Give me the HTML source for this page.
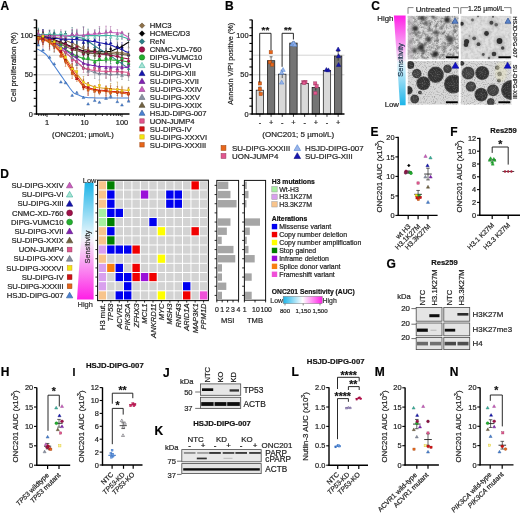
<!DOCTYPE html>
<html><head><meta charset="utf-8"><title>Figure</title>
<style>html,body{margin:0;padding:0;background:#fff;} svg{display:block;filter:blur(0.3px);} text{stroke:#1a1a1a;stroke-width:0.2px;paint-order:stroke;font-family:"Liberation Sans", Arial, Helvetica, sans-serif;}</style></head>
<body><svg width="520" height="513" viewBox="0 0 520 513" font-family='"Liberation Sans", Arial, Helvetica, sans-serif' fill="#222">
<rect width="520" height="513" fill="#fff"/>
<defs><clipPath id="clipA"><rect x="36" y="12" width="96" height="102"/></clipPath></defs>
<text x="0.6" y="9.8" font-size="12" font-weight="bold" fill="#000">A</text>
<line x1="36.5" y1="74.8" x2="129.5" y2="74.8" stroke="#cfcfcf" stroke-width="0.9"/>
<line x1="36.5" y1="55.2" x2="129.5" y2="55.2" stroke="#cfcfcf" stroke-width="0.9"/>
<g clip-path="url(#clipA)">
<line x1="38.3" y1="31.92" x2="38.3" y2="41.74" stroke="#695436" stroke-width="0.6" opacity="0.8"/>
<line x1="37.5" y1="31.92" x2="39.1" y2="31.92" stroke="#695436" stroke-width="0.5" opacity="0.8"/>
<line x1="37.5" y1="41.74" x2="39.1" y2="41.74" stroke="#695436" stroke-width="0.5" opacity="0.8"/>
<line x1="42.95" y1="31.43" x2="42.95" y2="41.82" stroke="#695436" stroke-width="0.6" opacity="0.8"/>
<line x1="42.15" y1="31.43" x2="43.75" y2="31.43" stroke="#695436" stroke-width="0.5" opacity="0.8"/>
<line x1="42.15" y1="41.82" x2="43.75" y2="41.82" stroke="#695436" stroke-width="0.5" opacity="0.8"/>
<line x1="49.58" y1="33.49" x2="49.58" y2="38.81" stroke="#695436" stroke-width="0.6" opacity="0.8"/>
<line x1="48.78" y1="33.49" x2="50.38" y2="33.49" stroke="#695436" stroke-width="0.5" opacity="0.8"/>
<line x1="48.78" y1="38.81" x2="50.38" y2="38.81" stroke="#695436" stroke-width="0.5" opacity="0.8"/>
<line x1="54.24" y1="33.39" x2="54.24" y2="45.97" stroke="#695436" stroke-width="0.6" opacity="0.8"/>
<line x1="53.44" y1="33.39" x2="55.04" y2="33.39" stroke="#695436" stroke-width="0.5" opacity="0.8"/>
<line x1="53.44" y1="45.97" x2="55.04" y2="45.97" stroke="#695436" stroke-width="0.5" opacity="0.8"/>
<line x1="60.87" y1="36.58" x2="60.87" y2="43.49" stroke="#695436" stroke-width="0.6" opacity="0.8"/>
<line x1="60.07" y1="36.58" x2="61.67" y2="36.58" stroke="#695436" stroke-width="0.5" opacity="0.8"/>
<line x1="60.07" y1="43.49" x2="61.67" y2="43.49" stroke="#695436" stroke-width="0.5" opacity="0.8"/>
<line x1="65.53" y1="33.72" x2="65.53" y2="42.85" stroke="#695436" stroke-width="0.6" opacity="0.8"/>
<line x1="64.73" y1="33.72" x2="66.33" y2="33.72" stroke="#695436" stroke-width="0.5" opacity="0.8"/>
<line x1="64.73" y1="42.85" x2="66.33" y2="42.85" stroke="#695436" stroke-width="0.5" opacity="0.8"/>
<line x1="72.16" y1="36.88" x2="72.16" y2="46.06" stroke="#695436" stroke-width="0.6" opacity="0.8"/>
<line x1="71.36" y1="36.88" x2="72.96" y2="36.88" stroke="#695436" stroke-width="0.5" opacity="0.8"/>
<line x1="71.36" y1="46.06" x2="72.96" y2="46.06" stroke="#695436" stroke-width="0.5" opacity="0.8"/>
<line x1="76.82" y1="41.73" x2="76.82" y2="47.85" stroke="#695436" stroke-width="0.6" opacity="0.8"/>
<line x1="76.02" y1="41.73" x2="77.62" y2="41.73" stroke="#695436" stroke-width="0.5" opacity="0.8"/>
<line x1="76.02" y1="47.85" x2="77.62" y2="47.85" stroke="#695436" stroke-width="0.5" opacity="0.8"/>
<line x1="83.45" y1="42.06" x2="83.45" y2="54.93" stroke="#695436" stroke-width="0.6" opacity="0.8"/>
<line x1="82.65" y1="42.06" x2="84.25" y2="42.06" stroke="#695436" stroke-width="0.5" opacity="0.8"/>
<line x1="82.65" y1="54.93" x2="84.25" y2="54.93" stroke="#695436" stroke-width="0.5" opacity="0.8"/>
<line x1="88.11" y1="44.27" x2="88.11" y2="55.94" stroke="#695436" stroke-width="0.6" opacity="0.8"/>
<line x1="87.31" y1="44.27" x2="88.91" y2="44.27" stroke="#695436" stroke-width="0.5" opacity="0.8"/>
<line x1="87.31" y1="55.94" x2="88.91" y2="55.94" stroke="#695436" stroke-width="0.5" opacity="0.8"/>
<line x1="94.74" y1="47.67" x2="94.74" y2="52.98" stroke="#695436" stroke-width="0.6" opacity="0.8"/>
<line x1="93.94" y1="47.67" x2="95.54" y2="47.67" stroke="#695436" stroke-width="0.5" opacity="0.8"/>
<line x1="93.94" y1="52.98" x2="95.54" y2="52.98" stroke="#695436" stroke-width="0.5" opacity="0.8"/>
<line x1="99.4" y1="45.12" x2="99.4" y2="55.39" stroke="#695436" stroke-width="0.6" opacity="0.8"/>
<line x1="98.6" y1="45.12" x2="100.2" y2="45.12" stroke="#695436" stroke-width="0.5" opacity="0.8"/>
<line x1="98.6" y1="55.39" x2="100.2" y2="55.39" stroke="#695436" stroke-width="0.5" opacity="0.8"/>
<line x1="106.03" y1="50.25" x2="106.03" y2="55.25" stroke="#695436" stroke-width="0.6" opacity="0.8"/>
<line x1="105.23" y1="50.25" x2="106.83" y2="50.25" stroke="#695436" stroke-width="0.5" opacity="0.8"/>
<line x1="105.23" y1="55.25" x2="106.83" y2="55.25" stroke="#695436" stroke-width="0.5" opacity="0.8"/>
<line x1="110.69" y1="45.77" x2="110.69" y2="54.92" stroke="#695436" stroke-width="0.6" opacity="0.8"/>
<line x1="109.89" y1="45.77" x2="111.49" y2="45.77" stroke="#695436" stroke-width="0.5" opacity="0.8"/>
<line x1="109.89" y1="54.92" x2="111.49" y2="54.92" stroke="#695436" stroke-width="0.5" opacity="0.8"/>
<line x1="117.32" y1="45.01" x2="117.32" y2="57.98" stroke="#695436" stroke-width="0.6" opacity="0.8"/>
<line x1="116.52" y1="45.01" x2="118.12" y2="45.01" stroke="#695436" stroke-width="0.5" opacity="0.8"/>
<line x1="116.52" y1="57.98" x2="118.12" y2="57.98" stroke="#695436" stroke-width="0.5" opacity="0.8"/>
<line x1="121.97" y1="45.15" x2="121.97" y2="58.52" stroke="#695436" stroke-width="0.6" opacity="0.8"/>
<line x1="121.17" y1="45.15" x2="122.77" y2="45.15" stroke="#695436" stroke-width="0.5" opacity="0.8"/>
<line x1="121.17" y1="58.52" x2="122.77" y2="58.52" stroke="#695436" stroke-width="0.5" opacity="0.8"/>
<line x1="128.61" y1="48.01" x2="128.61" y2="60.25" stroke="#695436" stroke-width="0.6" opacity="0.8"/>
<line x1="127.81" y1="48.01" x2="129.41" y2="48.01" stroke="#695436" stroke-width="0.5" opacity="0.8"/>
<line x1="127.81" y1="60.25" x2="129.41" y2="60.25" stroke="#695436" stroke-width="0.5" opacity="0.8"/>
<line x1="38.3" y1="29.11" x2="38.3" y2="42.61" stroke="#000000" stroke-width="0.6" opacity="0.8"/>
<line x1="37.5" y1="29.11" x2="39.1" y2="29.11" stroke="#000000" stroke-width="0.5" opacity="0.8"/>
<line x1="37.5" y1="42.61" x2="39.1" y2="42.61" stroke="#000000" stroke-width="0.5" opacity="0.8"/>
<line x1="42.95" y1="31.84" x2="42.95" y2="37.46" stroke="#000000" stroke-width="0.6" opacity="0.8"/>
<line x1="42.15" y1="31.84" x2="43.75" y2="31.84" stroke="#000000" stroke-width="0.5" opacity="0.8"/>
<line x1="42.15" y1="37.46" x2="43.75" y2="37.46" stroke="#000000" stroke-width="0.5" opacity="0.8"/>
<line x1="49.58" y1="36.41" x2="49.58" y2="43.15" stroke="#000000" stroke-width="0.6" opacity="0.8"/>
<line x1="48.78" y1="36.41" x2="50.38" y2="36.41" stroke="#000000" stroke-width="0.5" opacity="0.8"/>
<line x1="48.78" y1="43.15" x2="50.38" y2="43.15" stroke="#000000" stroke-width="0.5" opacity="0.8"/>
<line x1="54.24" y1="33.09" x2="54.24" y2="41.9" stroke="#000000" stroke-width="0.6" opacity="0.8"/>
<line x1="53.44" y1="33.09" x2="55.04" y2="33.09" stroke="#000000" stroke-width="0.5" opacity="0.8"/>
<line x1="53.44" y1="41.9" x2="55.04" y2="41.9" stroke="#000000" stroke-width="0.5" opacity="0.8"/>
<line x1="60.87" y1="37.81" x2="60.87" y2="45.35" stroke="#000000" stroke-width="0.6" opacity="0.8"/>
<line x1="60.07" y1="37.81" x2="61.67" y2="37.81" stroke="#000000" stroke-width="0.5" opacity="0.8"/>
<line x1="60.07" y1="45.35" x2="61.67" y2="45.35" stroke="#000000" stroke-width="0.5" opacity="0.8"/>
<line x1="65.53" y1="39.93" x2="65.53" y2="48.26" stroke="#000000" stroke-width="0.6" opacity="0.8"/>
<line x1="64.73" y1="39.93" x2="66.33" y2="39.93" stroke="#000000" stroke-width="0.5" opacity="0.8"/>
<line x1="64.73" y1="48.26" x2="66.33" y2="48.26" stroke="#000000" stroke-width="0.5" opacity="0.8"/>
<line x1="72.16" y1="42.52" x2="72.16" y2="52.72" stroke="#000000" stroke-width="0.6" opacity="0.8"/>
<line x1="71.36" y1="42.52" x2="72.96" y2="42.52" stroke="#000000" stroke-width="0.5" opacity="0.8"/>
<line x1="71.36" y1="52.72" x2="72.96" y2="52.72" stroke="#000000" stroke-width="0.5" opacity="0.8"/>
<line x1="76.82" y1="41.61" x2="76.82" y2="54.82" stroke="#000000" stroke-width="0.6" opacity="0.8"/>
<line x1="76.02" y1="41.61" x2="77.62" y2="41.61" stroke="#000000" stroke-width="0.5" opacity="0.8"/>
<line x1="76.02" y1="54.82" x2="77.62" y2="54.82" stroke="#000000" stroke-width="0.5" opacity="0.8"/>
<line x1="83.45" y1="43.34" x2="83.45" y2="56.78" stroke="#000000" stroke-width="0.6" opacity="0.8"/>
<line x1="82.65" y1="43.34" x2="84.25" y2="43.34" stroke="#000000" stroke-width="0.5" opacity="0.8"/>
<line x1="82.65" y1="56.78" x2="84.25" y2="56.78" stroke="#000000" stroke-width="0.5" opacity="0.8"/>
<line x1="88.11" y1="42.84" x2="88.11" y2="56.87" stroke="#000000" stroke-width="0.6" opacity="0.8"/>
<line x1="87.31" y1="42.84" x2="88.91" y2="42.84" stroke="#000000" stroke-width="0.5" opacity="0.8"/>
<line x1="87.31" y1="56.87" x2="88.91" y2="56.87" stroke="#000000" stroke-width="0.5" opacity="0.8"/>
<line x1="94.74" y1="48.07" x2="94.74" y2="54.3" stroke="#000000" stroke-width="0.6" opacity="0.8"/>
<line x1="93.94" y1="48.07" x2="95.54" y2="48.07" stroke="#000000" stroke-width="0.5" opacity="0.8"/>
<line x1="93.94" y1="54.3" x2="95.54" y2="54.3" stroke="#000000" stroke-width="0.5" opacity="0.8"/>
<line x1="99.4" y1="43.29" x2="99.4" y2="57.07" stroke="#000000" stroke-width="0.6" opacity="0.8"/>
<line x1="98.6" y1="43.29" x2="100.2" y2="43.29" stroke="#000000" stroke-width="0.5" opacity="0.8"/>
<line x1="98.6" y1="57.07" x2="100.2" y2="57.07" stroke="#000000" stroke-width="0.5" opacity="0.8"/>
<line x1="106.03" y1="44.59" x2="106.03" y2="54.65" stroke="#000000" stroke-width="0.6" opacity="0.8"/>
<line x1="105.23" y1="44.59" x2="106.83" y2="44.59" stroke="#000000" stroke-width="0.5" opacity="0.8"/>
<line x1="105.23" y1="54.65" x2="106.83" y2="54.65" stroke="#000000" stroke-width="0.5" opacity="0.8"/>
<line x1="110.69" y1="46.93" x2="110.69" y2="53.62" stroke="#000000" stroke-width="0.6" opacity="0.8"/>
<line x1="109.89" y1="46.93" x2="111.49" y2="46.93" stroke="#000000" stroke-width="0.5" opacity="0.8"/>
<line x1="109.89" y1="53.62" x2="111.49" y2="53.62" stroke="#000000" stroke-width="0.5" opacity="0.8"/>
<line x1="117.32" y1="41.92" x2="117.32" y2="52.02" stroke="#000000" stroke-width="0.6" opacity="0.8"/>
<line x1="116.52" y1="41.92" x2="118.12" y2="41.92" stroke="#000000" stroke-width="0.5" opacity="0.8"/>
<line x1="116.52" y1="52.02" x2="118.12" y2="52.02" stroke="#000000" stroke-width="0.5" opacity="0.8"/>
<line x1="121.97" y1="44.95" x2="121.97" y2="50.25" stroke="#000000" stroke-width="0.6" opacity="0.8"/>
<line x1="121.17" y1="44.95" x2="122.77" y2="44.95" stroke="#000000" stroke-width="0.5" opacity="0.8"/>
<line x1="121.17" y1="50.25" x2="122.77" y2="50.25" stroke="#000000" stroke-width="0.5" opacity="0.8"/>
<line x1="128.61" y1="33.2" x2="128.61" y2="47.22" stroke="#000000" stroke-width="0.6" opacity="0.8"/>
<line x1="127.81" y1="33.2" x2="129.41" y2="33.2" stroke="#000000" stroke-width="0.5" opacity="0.8"/>
<line x1="127.81" y1="47.22" x2="129.41" y2="47.22" stroke="#000000" stroke-width="0.5" opacity="0.8"/>
<line x1="38.3" y1="30.63" x2="38.3" y2="42.87" stroke="#206066" stroke-width="0.6" opacity="0.8"/>
<line x1="37.5" y1="30.63" x2="39.1" y2="30.63" stroke="#206066" stroke-width="0.5" opacity="0.8"/>
<line x1="37.5" y1="42.87" x2="39.1" y2="42.87" stroke="#206066" stroke-width="0.5" opacity="0.8"/>
<line x1="42.95" y1="32.18" x2="42.95" y2="38.3" stroke="#206066" stroke-width="0.6" opacity="0.8"/>
<line x1="42.15" y1="32.18" x2="43.75" y2="32.18" stroke="#206066" stroke-width="0.5" opacity="0.8"/>
<line x1="42.15" y1="38.3" x2="43.75" y2="38.3" stroke="#206066" stroke-width="0.5" opacity="0.8"/>
<line x1="49.58" y1="30" x2="49.58" y2="41.93" stroke="#206066" stroke-width="0.6" opacity="0.8"/>
<line x1="48.78" y1="30" x2="50.38" y2="30" stroke="#206066" stroke-width="0.5" opacity="0.8"/>
<line x1="48.78" y1="41.93" x2="50.38" y2="41.93" stroke="#206066" stroke-width="0.5" opacity="0.8"/>
<line x1="54.24" y1="31.01" x2="54.24" y2="36.13" stroke="#206066" stroke-width="0.6" opacity="0.8"/>
<line x1="53.44" y1="31.01" x2="55.04" y2="31.01" stroke="#206066" stroke-width="0.5" opacity="0.8"/>
<line x1="53.44" y1="36.13" x2="55.04" y2="36.13" stroke="#206066" stroke-width="0.5" opacity="0.8"/>
<line x1="60.87" y1="32.63" x2="60.87" y2="37.76" stroke="#206066" stroke-width="0.6" opacity="0.8"/>
<line x1="60.07" y1="32.63" x2="61.67" y2="32.63" stroke="#206066" stroke-width="0.5" opacity="0.8"/>
<line x1="60.07" y1="37.76" x2="61.67" y2="37.76" stroke="#206066" stroke-width="0.5" opacity="0.8"/>
<line x1="65.53" y1="31.04" x2="65.53" y2="38.86" stroke="#206066" stroke-width="0.6" opacity="0.8"/>
<line x1="64.73" y1="31.04" x2="66.33" y2="31.04" stroke="#206066" stroke-width="0.5" opacity="0.8"/>
<line x1="64.73" y1="38.86" x2="66.33" y2="38.86" stroke="#206066" stroke-width="0.5" opacity="0.8"/>
<line x1="72.16" y1="27.57" x2="72.16" y2="41.5" stroke="#206066" stroke-width="0.6" opacity="0.8"/>
<line x1="71.36" y1="27.57" x2="72.96" y2="27.57" stroke="#206066" stroke-width="0.5" opacity="0.8"/>
<line x1="71.36" y1="41.5" x2="72.96" y2="41.5" stroke="#206066" stroke-width="0.5" opacity="0.8"/>
<line x1="76.82" y1="30.06" x2="76.82" y2="44.16" stroke="#206066" stroke-width="0.6" opacity="0.8"/>
<line x1="76.02" y1="30.06" x2="77.62" y2="30.06" stroke="#206066" stroke-width="0.5" opacity="0.8"/>
<line x1="76.02" y1="44.16" x2="77.62" y2="44.16" stroke="#206066" stroke-width="0.5" opacity="0.8"/>
<line x1="83.45" y1="36.7" x2="83.45" y2="42.13" stroke="#206066" stroke-width="0.6" opacity="0.8"/>
<line x1="82.65" y1="36.7" x2="84.25" y2="36.7" stroke="#206066" stroke-width="0.5" opacity="0.8"/>
<line x1="82.65" y1="42.13" x2="84.25" y2="42.13" stroke="#206066" stroke-width="0.5" opacity="0.8"/>
<line x1="88.11" y1="38.27" x2="88.11" y2="43.27" stroke="#206066" stroke-width="0.6" opacity="0.8"/>
<line x1="87.31" y1="38.27" x2="88.91" y2="38.27" stroke="#206066" stroke-width="0.5" opacity="0.8"/>
<line x1="87.31" y1="43.27" x2="88.91" y2="43.27" stroke="#206066" stroke-width="0.5" opacity="0.8"/>
<line x1="94.74" y1="43" x2="94.74" y2="51.54" stroke="#206066" stroke-width="0.6" opacity="0.8"/>
<line x1="93.94" y1="43" x2="95.54" y2="43" stroke="#206066" stroke-width="0.5" opacity="0.8"/>
<line x1="93.94" y1="51.54" x2="95.54" y2="51.54" stroke="#206066" stroke-width="0.5" opacity="0.8"/>
<line x1="99.4" y1="45.24" x2="99.4" y2="51.42" stroke="#206066" stroke-width="0.6" opacity="0.8"/>
<line x1="98.6" y1="45.24" x2="100.2" y2="45.24" stroke="#206066" stroke-width="0.5" opacity="0.8"/>
<line x1="98.6" y1="51.42" x2="100.2" y2="51.42" stroke="#206066" stroke-width="0.5" opacity="0.8"/>
<line x1="106.03" y1="48.75" x2="106.03" y2="61.62" stroke="#206066" stroke-width="0.6" opacity="0.8"/>
<line x1="105.23" y1="48.75" x2="106.83" y2="48.75" stroke="#206066" stroke-width="0.5" opacity="0.8"/>
<line x1="105.23" y1="61.62" x2="106.83" y2="61.62" stroke="#206066" stroke-width="0.5" opacity="0.8"/>
<line x1="110.69" y1="49.98" x2="110.69" y2="63.7" stroke="#206066" stroke-width="0.6" opacity="0.8"/>
<line x1="109.89" y1="49.98" x2="111.49" y2="49.98" stroke="#206066" stroke-width="0.5" opacity="0.8"/>
<line x1="109.89" y1="63.7" x2="111.49" y2="63.7" stroke="#206066" stroke-width="0.5" opacity="0.8"/>
<line x1="117.32" y1="54.58" x2="117.32" y2="62.83" stroke="#206066" stroke-width="0.6" opacity="0.8"/>
<line x1="116.52" y1="54.58" x2="118.12" y2="54.58" stroke="#206066" stroke-width="0.5" opacity="0.8"/>
<line x1="116.52" y1="62.83" x2="118.12" y2="62.83" stroke="#206066" stroke-width="0.5" opacity="0.8"/>
<line x1="121.97" y1="59.19" x2="121.97" y2="68.79" stroke="#206066" stroke-width="0.6" opacity="0.8"/>
<line x1="121.17" y1="59.19" x2="122.77" y2="59.19" stroke="#206066" stroke-width="0.5" opacity="0.8"/>
<line x1="121.17" y1="68.79" x2="122.77" y2="68.79" stroke="#206066" stroke-width="0.5" opacity="0.8"/>
<line x1="128.61" y1="62.7" x2="128.61" y2="73.01" stroke="#206066" stroke-width="0.6" opacity="0.8"/>
<line x1="127.81" y1="62.7" x2="129.41" y2="62.7" stroke="#206066" stroke-width="0.5" opacity="0.8"/>
<line x1="127.81" y1="73.01" x2="129.41" y2="73.01" stroke="#206066" stroke-width="0.5" opacity="0.8"/>
<line x1="38.3" y1="30.84" x2="38.3" y2="41.37" stroke="#780c37" stroke-width="0.6" opacity="0.8"/>
<line x1="37.5" y1="30.84" x2="39.1" y2="30.84" stroke="#780c37" stroke-width="0.5" opacity="0.8"/>
<line x1="37.5" y1="41.37" x2="39.1" y2="41.37" stroke="#780c37" stroke-width="0.5" opacity="0.8"/>
<line x1="42.95" y1="30.4" x2="42.95" y2="39.88" stroke="#780c37" stroke-width="0.6" opacity="0.8"/>
<line x1="42.15" y1="30.4" x2="43.75" y2="30.4" stroke="#780c37" stroke-width="0.5" opacity="0.8"/>
<line x1="42.15" y1="39.88" x2="43.75" y2="39.88" stroke="#780c37" stroke-width="0.5" opacity="0.8"/>
<line x1="49.58" y1="33.43" x2="49.58" y2="44.91" stroke="#780c37" stroke-width="0.6" opacity="0.8"/>
<line x1="48.78" y1="33.43" x2="50.38" y2="33.43" stroke="#780c37" stroke-width="0.5" opacity="0.8"/>
<line x1="48.78" y1="44.91" x2="50.38" y2="44.91" stroke="#780c37" stroke-width="0.5" opacity="0.8"/>
<line x1="54.24" y1="37.93" x2="54.24" y2="45.47" stroke="#780c37" stroke-width="0.6" opacity="0.8"/>
<line x1="53.44" y1="37.93" x2="55.04" y2="37.93" stroke="#780c37" stroke-width="0.5" opacity="0.8"/>
<line x1="53.44" y1="45.47" x2="55.04" y2="45.47" stroke="#780c37" stroke-width="0.5" opacity="0.8"/>
<line x1="60.87" y1="35.91" x2="60.87" y2="45.51" stroke="#780c37" stroke-width="0.6" opacity="0.8"/>
<line x1="60.07" y1="35.91" x2="61.67" y2="35.91" stroke="#780c37" stroke-width="0.5" opacity="0.8"/>
<line x1="60.07" y1="45.51" x2="61.67" y2="45.51" stroke="#780c37" stroke-width="0.5" opacity="0.8"/>
<line x1="65.53" y1="42.28" x2="65.53" y2="47.09" stroke="#780c37" stroke-width="0.6" opacity="0.8"/>
<line x1="64.73" y1="42.28" x2="66.33" y2="42.28" stroke="#780c37" stroke-width="0.5" opacity="0.8"/>
<line x1="64.73" y1="47.09" x2="66.33" y2="47.09" stroke="#780c37" stroke-width="0.5" opacity="0.8"/>
<line x1="72.16" y1="43.02" x2="72.16" y2="53.18" stroke="#780c37" stroke-width="0.6" opacity="0.8"/>
<line x1="71.36" y1="43.02" x2="72.96" y2="43.02" stroke="#780c37" stroke-width="0.5" opacity="0.8"/>
<line x1="71.36" y1="53.18" x2="72.96" y2="53.18" stroke="#780c37" stroke-width="0.5" opacity="0.8"/>
<line x1="76.82" y1="46.41" x2="76.82" y2="56.9" stroke="#780c37" stroke-width="0.6" opacity="0.8"/>
<line x1="76.02" y1="46.41" x2="77.62" y2="46.41" stroke="#780c37" stroke-width="0.5" opacity="0.8"/>
<line x1="76.02" y1="56.9" x2="77.62" y2="56.9" stroke="#780c37" stroke-width="0.5" opacity="0.8"/>
<line x1="83.45" y1="48.44" x2="83.45" y2="53.71" stroke="#780c37" stroke-width="0.6" opacity="0.8"/>
<line x1="82.65" y1="48.44" x2="84.25" y2="48.44" stroke="#780c37" stroke-width="0.5" opacity="0.8"/>
<line x1="82.65" y1="53.71" x2="84.25" y2="53.71" stroke="#780c37" stroke-width="0.5" opacity="0.8"/>
<line x1="88.11" y1="47.42" x2="88.11" y2="56.51" stroke="#780c37" stroke-width="0.6" opacity="0.8"/>
<line x1="87.31" y1="47.42" x2="88.91" y2="47.42" stroke="#780c37" stroke-width="0.5" opacity="0.8"/>
<line x1="87.31" y1="56.51" x2="88.91" y2="56.51" stroke="#780c37" stroke-width="0.5" opacity="0.8"/>
<line x1="94.74" y1="48.63" x2="94.74" y2="56.65" stroke="#780c37" stroke-width="0.6" opacity="0.8"/>
<line x1="93.94" y1="48.63" x2="95.54" y2="48.63" stroke="#780c37" stroke-width="0.5" opacity="0.8"/>
<line x1="93.94" y1="56.65" x2="95.54" y2="56.65" stroke="#780c37" stroke-width="0.5" opacity="0.8"/>
<line x1="99.4" y1="47.21" x2="99.4" y2="58.86" stroke="#780c37" stroke-width="0.6" opacity="0.8"/>
<line x1="98.6" y1="47.21" x2="100.2" y2="47.21" stroke="#780c37" stroke-width="0.5" opacity="0.8"/>
<line x1="98.6" y1="58.86" x2="100.2" y2="58.86" stroke="#780c37" stroke-width="0.5" opacity="0.8"/>
<line x1="106.03" y1="54.32" x2="106.03" y2="59.59" stroke="#780c37" stroke-width="0.6" opacity="0.8"/>
<line x1="105.23" y1="54.32" x2="106.83" y2="54.32" stroke="#780c37" stroke-width="0.5" opacity="0.8"/>
<line x1="105.23" y1="59.59" x2="106.83" y2="59.59" stroke="#780c37" stroke-width="0.5" opacity="0.8"/>
<line x1="110.69" y1="47.49" x2="110.69" y2="61.25" stroke="#780c37" stroke-width="0.6" opacity="0.8"/>
<line x1="109.89" y1="47.49" x2="111.49" y2="47.49" stroke="#780c37" stroke-width="0.5" opacity="0.8"/>
<line x1="109.89" y1="61.25" x2="111.49" y2="61.25" stroke="#780c37" stroke-width="0.5" opacity="0.8"/>
<line x1="117.32" y1="53.25" x2="117.32" y2="62.25" stroke="#780c37" stroke-width="0.6" opacity="0.8"/>
<line x1="116.52" y1="53.25" x2="118.12" y2="53.25" stroke="#780c37" stroke-width="0.5" opacity="0.8"/>
<line x1="116.52" y1="62.25" x2="118.12" y2="62.25" stroke="#780c37" stroke-width="0.5" opacity="0.8"/>
<line x1="121.97" y1="53.25" x2="121.97" y2="60.97" stroke="#780c37" stroke-width="0.6" opacity="0.8"/>
<line x1="121.17" y1="53.25" x2="122.77" y2="53.25" stroke="#780c37" stroke-width="0.5" opacity="0.8"/>
<line x1="121.17" y1="60.97" x2="122.77" y2="60.97" stroke="#780c37" stroke-width="0.5" opacity="0.8"/>
<line x1="128.61" y1="55.94" x2="128.61" y2="63.58" stroke="#780c37" stroke-width="0.6" opacity="0.8"/>
<line x1="127.81" y1="55.94" x2="129.41" y2="55.94" stroke="#780c37" stroke-width="0.5" opacity="0.8"/>
<line x1="127.81" y1="63.58" x2="129.41" y2="63.58" stroke="#780c37" stroke-width="0.5" opacity="0.8"/>
<line x1="38.3" y1="32.63" x2="38.3" y2="42.94" stroke="#198422" stroke-width="0.6" opacity="0.8"/>
<line x1="37.5" y1="32.63" x2="39.1" y2="32.63" stroke="#198422" stroke-width="0.5" opacity="0.8"/>
<line x1="37.5" y1="42.94" x2="39.1" y2="42.94" stroke="#198422" stroke-width="0.5" opacity="0.8"/>
<line x1="42.95" y1="34.81" x2="42.95" y2="43.06" stroke="#198422" stroke-width="0.6" opacity="0.8"/>
<line x1="42.15" y1="34.81" x2="43.75" y2="34.81" stroke="#198422" stroke-width="0.5" opacity="0.8"/>
<line x1="42.15" y1="43.06" x2="43.75" y2="43.06" stroke="#198422" stroke-width="0.5" opacity="0.8"/>
<line x1="49.58" y1="36.41" x2="49.58" y2="41.37" stroke="#198422" stroke-width="0.6" opacity="0.8"/>
<line x1="48.78" y1="36.41" x2="50.38" y2="36.41" stroke="#198422" stroke-width="0.5" opacity="0.8"/>
<line x1="48.78" y1="41.37" x2="50.38" y2="41.37" stroke="#198422" stroke-width="0.5" opacity="0.8"/>
<line x1="54.24" y1="36.62" x2="54.24" y2="48.24" stroke="#198422" stroke-width="0.6" opacity="0.8"/>
<line x1="53.44" y1="36.62" x2="55.04" y2="36.62" stroke="#198422" stroke-width="0.5" opacity="0.8"/>
<line x1="53.44" y1="48.24" x2="55.04" y2="48.24" stroke="#198422" stroke-width="0.5" opacity="0.8"/>
<line x1="60.87" y1="44.13" x2="60.87" y2="50.93" stroke="#198422" stroke-width="0.6" opacity="0.8"/>
<line x1="60.07" y1="44.13" x2="61.67" y2="44.13" stroke="#198422" stroke-width="0.5" opacity="0.8"/>
<line x1="60.07" y1="50.93" x2="61.67" y2="50.93" stroke="#198422" stroke-width="0.5" opacity="0.8"/>
<line x1="65.53" y1="44.67" x2="65.53" y2="51.62" stroke="#198422" stroke-width="0.6" opacity="0.8"/>
<line x1="64.73" y1="44.67" x2="66.33" y2="44.67" stroke="#198422" stroke-width="0.5" opacity="0.8"/>
<line x1="64.73" y1="51.62" x2="66.33" y2="51.62" stroke="#198422" stroke-width="0.5" opacity="0.8"/>
<line x1="72.16" y1="50.83" x2="72.16" y2="59.62" stroke="#198422" stroke-width="0.6" opacity="0.8"/>
<line x1="71.36" y1="50.83" x2="72.96" y2="50.83" stroke="#198422" stroke-width="0.5" opacity="0.8"/>
<line x1="71.36" y1="59.62" x2="72.96" y2="59.62" stroke="#198422" stroke-width="0.5" opacity="0.8"/>
<line x1="76.82" y1="52.16" x2="76.82" y2="57.82" stroke="#198422" stroke-width="0.6" opacity="0.8"/>
<line x1="76.02" y1="52.16" x2="77.62" y2="52.16" stroke="#198422" stroke-width="0.5" opacity="0.8"/>
<line x1="76.02" y1="57.82" x2="77.62" y2="57.82" stroke="#198422" stroke-width="0.5" opacity="0.8"/>
<line x1="83.45" y1="55.6" x2="83.45" y2="63.44" stroke="#198422" stroke-width="0.6" opacity="0.8"/>
<line x1="82.65" y1="55.6" x2="84.25" y2="55.6" stroke="#198422" stroke-width="0.5" opacity="0.8"/>
<line x1="82.65" y1="63.44" x2="84.25" y2="63.44" stroke="#198422" stroke-width="0.5" opacity="0.8"/>
<line x1="88.11" y1="53.64" x2="88.11" y2="62.47" stroke="#198422" stroke-width="0.6" opacity="0.8"/>
<line x1="87.31" y1="53.64" x2="88.91" y2="53.64" stroke="#198422" stroke-width="0.5" opacity="0.8"/>
<line x1="87.31" y1="62.47" x2="88.91" y2="62.47" stroke="#198422" stroke-width="0.5" opacity="0.8"/>
<line x1="94.74" y1="55.72" x2="94.74" y2="62.02" stroke="#198422" stroke-width="0.6" opacity="0.8"/>
<line x1="93.94" y1="55.72" x2="95.54" y2="55.72" stroke="#198422" stroke-width="0.5" opacity="0.8"/>
<line x1="93.94" y1="62.02" x2="95.54" y2="62.02" stroke="#198422" stroke-width="0.5" opacity="0.8"/>
<line x1="99.4" y1="55.86" x2="99.4" y2="66.68" stroke="#198422" stroke-width="0.6" opacity="0.8"/>
<line x1="98.6" y1="55.86" x2="100.2" y2="55.86" stroke="#198422" stroke-width="0.5" opacity="0.8"/>
<line x1="98.6" y1="66.68" x2="100.2" y2="66.68" stroke="#198422" stroke-width="0.5" opacity="0.8"/>
<line x1="106.03" y1="53.87" x2="106.03" y2="62.81" stroke="#198422" stroke-width="0.6" opacity="0.8"/>
<line x1="105.23" y1="53.87" x2="106.83" y2="53.87" stroke="#198422" stroke-width="0.5" opacity="0.8"/>
<line x1="105.23" y1="62.81" x2="106.83" y2="62.81" stroke="#198422" stroke-width="0.5" opacity="0.8"/>
<line x1="110.69" y1="58.28" x2="110.69" y2="64.12" stroke="#198422" stroke-width="0.6" opacity="0.8"/>
<line x1="109.89" y1="58.28" x2="111.49" y2="58.28" stroke="#198422" stroke-width="0.5" opacity="0.8"/>
<line x1="109.89" y1="64.12" x2="111.49" y2="64.12" stroke="#198422" stroke-width="0.5" opacity="0.8"/>
<line x1="117.32" y1="56.97" x2="117.32" y2="63.47" stroke="#198422" stroke-width="0.6" opacity="0.8"/>
<line x1="116.52" y1="56.97" x2="118.12" y2="56.97" stroke="#198422" stroke-width="0.5" opacity="0.8"/>
<line x1="116.52" y1="63.47" x2="118.12" y2="63.47" stroke="#198422" stroke-width="0.5" opacity="0.8"/>
<line x1="121.97" y1="52.95" x2="121.97" y2="65.54" stroke="#198422" stroke-width="0.6" opacity="0.8"/>
<line x1="121.17" y1="52.95" x2="122.77" y2="52.95" stroke="#198422" stroke-width="0.5" opacity="0.8"/>
<line x1="121.17" y1="65.54" x2="122.77" y2="65.54" stroke="#198422" stroke-width="0.5" opacity="0.8"/>
<line x1="128.61" y1="60.08" x2="128.61" y2="67.41" stroke="#198422" stroke-width="0.6" opacity="0.8"/>
<line x1="127.81" y1="60.08" x2="129.41" y2="60.08" stroke="#198422" stroke-width="0.5" opacity="0.8"/>
<line x1="127.81" y1="67.41" x2="129.41" y2="67.41" stroke="#198422" stroke-width="0.5" opacity="0.8"/>
<line x1="38.3" y1="28" x2="38.3" y2="38.74" stroke="#2f8678" stroke-width="0.6" opacity="0.8"/>
<line x1="37.5" y1="28" x2="39.1" y2="28" stroke="#2f8678" stroke-width="0.5" opacity="0.8"/>
<line x1="37.5" y1="38.74" x2="39.1" y2="38.74" stroke="#2f8678" stroke-width="0.5" opacity="0.8"/>
<line x1="42.95" y1="29.4" x2="42.95" y2="37.35" stroke="#2f8678" stroke-width="0.6" opacity="0.8"/>
<line x1="42.15" y1="29.4" x2="43.75" y2="29.4" stroke="#2f8678" stroke-width="0.5" opacity="0.8"/>
<line x1="42.15" y1="37.35" x2="43.75" y2="37.35" stroke="#2f8678" stroke-width="0.5" opacity="0.8"/>
<line x1="49.58" y1="32.83" x2="49.58" y2="40.28" stroke="#2f8678" stroke-width="0.6" opacity="0.8"/>
<line x1="48.78" y1="32.83" x2="50.38" y2="32.83" stroke="#2f8678" stroke-width="0.5" opacity="0.8"/>
<line x1="48.78" y1="40.28" x2="50.38" y2="40.28" stroke="#2f8678" stroke-width="0.5" opacity="0.8"/>
<line x1="54.24" y1="29.81" x2="54.24" y2="37.06" stroke="#2f8678" stroke-width="0.6" opacity="0.8"/>
<line x1="53.44" y1="29.81" x2="55.04" y2="29.81" stroke="#2f8678" stroke-width="0.5" opacity="0.8"/>
<line x1="53.44" y1="37.06" x2="55.04" y2="37.06" stroke="#2f8678" stroke-width="0.5" opacity="0.8"/>
<line x1="60.87" y1="31.36" x2="60.87" y2="39.99" stroke="#2f8678" stroke-width="0.6" opacity="0.8"/>
<line x1="60.07" y1="31.36" x2="61.67" y2="31.36" stroke="#2f8678" stroke-width="0.5" opacity="0.8"/>
<line x1="60.07" y1="39.99" x2="61.67" y2="39.99" stroke="#2f8678" stroke-width="0.5" opacity="0.8"/>
<line x1="65.53" y1="31.3" x2="65.53" y2="39.85" stroke="#2f8678" stroke-width="0.6" opacity="0.8"/>
<line x1="64.73" y1="31.3" x2="66.33" y2="31.3" stroke="#2f8678" stroke-width="0.5" opacity="0.8"/>
<line x1="64.73" y1="39.85" x2="66.33" y2="39.85" stroke="#2f8678" stroke-width="0.5" opacity="0.8"/>
<line x1="72.16" y1="30.48" x2="72.16" y2="36.65" stroke="#2f8678" stroke-width="0.6" opacity="0.8"/>
<line x1="71.36" y1="30.48" x2="72.96" y2="30.48" stroke="#2f8678" stroke-width="0.5" opacity="0.8"/>
<line x1="71.36" y1="36.65" x2="72.96" y2="36.65" stroke="#2f8678" stroke-width="0.5" opacity="0.8"/>
<line x1="76.82" y1="31.14" x2="76.82" y2="44.72" stroke="#2f8678" stroke-width="0.6" opacity="0.8"/>
<line x1="76.02" y1="31.14" x2="77.62" y2="31.14" stroke="#2f8678" stroke-width="0.5" opacity="0.8"/>
<line x1="76.02" y1="44.72" x2="77.62" y2="44.72" stroke="#2f8678" stroke-width="0.5" opacity="0.8"/>
<line x1="83.45" y1="26.82" x2="83.45" y2="40.81" stroke="#2f8678" stroke-width="0.6" opacity="0.8"/>
<line x1="82.65" y1="26.82" x2="84.25" y2="26.82" stroke="#2f8678" stroke-width="0.5" opacity="0.8"/>
<line x1="82.65" y1="40.81" x2="84.25" y2="40.81" stroke="#2f8678" stroke-width="0.5" opacity="0.8"/>
<line x1="88.11" y1="29.09" x2="88.11" y2="42.73" stroke="#2f8678" stroke-width="0.6" opacity="0.8"/>
<line x1="87.31" y1="29.09" x2="88.91" y2="29.09" stroke="#2f8678" stroke-width="0.5" opacity="0.8"/>
<line x1="87.31" y1="42.73" x2="88.91" y2="42.73" stroke="#2f8678" stroke-width="0.5" opacity="0.8"/>
<line x1="94.74" y1="30.19" x2="94.74" y2="36.99" stroke="#2f8678" stroke-width="0.6" opacity="0.8"/>
<line x1="93.94" y1="30.19" x2="95.54" y2="30.19" stroke="#2f8678" stroke-width="0.5" opacity="0.8"/>
<line x1="93.94" y1="36.99" x2="95.54" y2="36.99" stroke="#2f8678" stroke-width="0.5" opacity="0.8"/>
<line x1="99.4" y1="28.16" x2="99.4" y2="40.73" stroke="#2f8678" stroke-width="0.6" opacity="0.8"/>
<line x1="98.6" y1="28.16" x2="100.2" y2="28.16" stroke="#2f8678" stroke-width="0.5" opacity="0.8"/>
<line x1="98.6" y1="40.73" x2="100.2" y2="40.73" stroke="#2f8678" stroke-width="0.5" opacity="0.8"/>
<line x1="106.03" y1="30.04" x2="106.03" y2="39.63" stroke="#2f8678" stroke-width="0.6" opacity="0.8"/>
<line x1="105.23" y1="30.04" x2="106.83" y2="30.04" stroke="#2f8678" stroke-width="0.5" opacity="0.8"/>
<line x1="105.23" y1="39.63" x2="106.83" y2="39.63" stroke="#2f8678" stroke-width="0.5" opacity="0.8"/>
<line x1="110.69" y1="32.64" x2="110.69" y2="40.55" stroke="#2f8678" stroke-width="0.6" opacity="0.8"/>
<line x1="109.89" y1="32.64" x2="111.49" y2="32.64" stroke="#2f8678" stroke-width="0.5" opacity="0.8"/>
<line x1="109.89" y1="40.55" x2="111.49" y2="40.55" stroke="#2f8678" stroke-width="0.5" opacity="0.8"/>
<line x1="117.32" y1="34.67" x2="117.32" y2="40.01" stroke="#2f8678" stroke-width="0.6" opacity="0.8"/>
<line x1="116.52" y1="34.67" x2="118.12" y2="34.67" stroke="#2f8678" stroke-width="0.5" opacity="0.8"/>
<line x1="116.52" y1="40.01" x2="118.12" y2="40.01" stroke="#2f8678" stroke-width="0.5" opacity="0.8"/>
<line x1="121.97" y1="32.26" x2="121.97" y2="39.67" stroke="#2f8678" stroke-width="0.6" opacity="0.8"/>
<line x1="121.17" y1="32.26" x2="122.77" y2="32.26" stroke="#2f8678" stroke-width="0.5" opacity="0.8"/>
<line x1="121.17" y1="39.67" x2="122.77" y2="39.67" stroke="#2f8678" stroke-width="0.5" opacity="0.8"/>
<line x1="128.61" y1="35.5" x2="128.61" y2="40.62" stroke="#2f8678" stroke-width="0.6" opacity="0.8"/>
<line x1="127.81" y1="35.5" x2="129.41" y2="35.5" stroke="#2f8678" stroke-width="0.5" opacity="0.8"/>
<line x1="127.81" y1="40.62" x2="129.41" y2="40.62" stroke="#2f8678" stroke-width="0.5" opacity="0.8"/>
<line x1="38.3" y1="30.44" x2="38.3" y2="41.67" stroke="#0f0f84" stroke-width="0.6" opacity="0.8"/>
<line x1="37.5" y1="30.44" x2="39.1" y2="30.44" stroke="#0f0f84" stroke-width="0.5" opacity="0.8"/>
<line x1="37.5" y1="41.67" x2="39.1" y2="41.67" stroke="#0f0f84" stroke-width="0.5" opacity="0.8"/>
<line x1="42.95" y1="29.39" x2="42.95" y2="42.53" stroke="#0f0f84" stroke-width="0.6" opacity="0.8"/>
<line x1="42.15" y1="29.39" x2="43.75" y2="29.39" stroke="#0f0f84" stroke-width="0.5" opacity="0.8"/>
<line x1="42.15" y1="42.53" x2="43.75" y2="42.53" stroke="#0f0f84" stroke-width="0.5" opacity="0.8"/>
<line x1="49.58" y1="31.19" x2="49.58" y2="41.32" stroke="#0f0f84" stroke-width="0.6" opacity="0.8"/>
<line x1="48.78" y1="31.19" x2="50.38" y2="31.19" stroke="#0f0f84" stroke-width="0.5" opacity="0.8"/>
<line x1="48.78" y1="41.32" x2="50.38" y2="41.32" stroke="#0f0f84" stroke-width="0.5" opacity="0.8"/>
<line x1="54.24" y1="34.89" x2="54.24" y2="46.6" stroke="#0f0f84" stroke-width="0.6" opacity="0.8"/>
<line x1="53.44" y1="34.89" x2="55.04" y2="34.89" stroke="#0f0f84" stroke-width="0.5" opacity="0.8"/>
<line x1="53.44" y1="46.6" x2="55.04" y2="46.6" stroke="#0f0f84" stroke-width="0.5" opacity="0.8"/>
<line x1="60.87" y1="36.65" x2="60.87" y2="44.18" stroke="#0f0f84" stroke-width="0.6" opacity="0.8"/>
<line x1="60.07" y1="36.65" x2="61.67" y2="36.65" stroke="#0f0f84" stroke-width="0.5" opacity="0.8"/>
<line x1="60.07" y1="44.18" x2="61.67" y2="44.18" stroke="#0f0f84" stroke-width="0.5" opacity="0.8"/>
<line x1="65.53" y1="33.53" x2="65.53" y2="43.17" stroke="#0f0f84" stroke-width="0.6" opacity="0.8"/>
<line x1="64.73" y1="33.53" x2="66.33" y2="33.53" stroke="#0f0f84" stroke-width="0.5" opacity="0.8"/>
<line x1="64.73" y1="43.17" x2="66.33" y2="43.17" stroke="#0f0f84" stroke-width="0.5" opacity="0.8"/>
<line x1="72.16" y1="33.1" x2="72.16" y2="46.64" stroke="#0f0f84" stroke-width="0.6" opacity="0.8"/>
<line x1="71.36" y1="33.1" x2="72.96" y2="33.1" stroke="#0f0f84" stroke-width="0.5" opacity="0.8"/>
<line x1="71.36" y1="46.64" x2="72.96" y2="46.64" stroke="#0f0f84" stroke-width="0.5" opacity="0.8"/>
<line x1="76.82" y1="35.29" x2="76.82" y2="43.2" stroke="#0f0f84" stroke-width="0.6" opacity="0.8"/>
<line x1="76.02" y1="35.29" x2="77.62" y2="35.29" stroke="#0f0f84" stroke-width="0.5" opacity="0.8"/>
<line x1="76.02" y1="43.2" x2="77.62" y2="43.2" stroke="#0f0f84" stroke-width="0.5" opacity="0.8"/>
<line x1="83.45" y1="34.99" x2="83.45" y2="47.8" stroke="#0f0f84" stroke-width="0.6" opacity="0.8"/>
<line x1="82.65" y1="34.99" x2="84.25" y2="34.99" stroke="#0f0f84" stroke-width="0.5" opacity="0.8"/>
<line x1="82.65" y1="47.8" x2="84.25" y2="47.8" stroke="#0f0f84" stroke-width="0.5" opacity="0.8"/>
<line x1="88.11" y1="34.88" x2="88.11" y2="46.94" stroke="#0f0f84" stroke-width="0.6" opacity="0.8"/>
<line x1="87.31" y1="34.88" x2="88.91" y2="34.88" stroke="#0f0f84" stroke-width="0.5" opacity="0.8"/>
<line x1="87.31" y1="46.94" x2="88.91" y2="46.94" stroke="#0f0f84" stroke-width="0.5" opacity="0.8"/>
<line x1="94.74" y1="39.14" x2="94.74" y2="45.7" stroke="#0f0f84" stroke-width="0.6" opacity="0.8"/>
<line x1="93.94" y1="39.14" x2="95.54" y2="39.14" stroke="#0f0f84" stroke-width="0.5" opacity="0.8"/>
<line x1="93.94" y1="45.7" x2="95.54" y2="45.7" stroke="#0f0f84" stroke-width="0.5" opacity="0.8"/>
<line x1="99.4" y1="36.27" x2="99.4" y2="48.66" stroke="#0f0f84" stroke-width="0.6" opacity="0.8"/>
<line x1="98.6" y1="36.27" x2="100.2" y2="36.27" stroke="#0f0f84" stroke-width="0.5" opacity="0.8"/>
<line x1="98.6" y1="48.66" x2="100.2" y2="48.66" stroke="#0f0f84" stroke-width="0.5" opacity="0.8"/>
<line x1="106.03" y1="39.49" x2="106.03" y2="51.65" stroke="#0f0f84" stroke-width="0.6" opacity="0.8"/>
<line x1="105.23" y1="39.49" x2="106.83" y2="39.49" stroke="#0f0f84" stroke-width="0.5" opacity="0.8"/>
<line x1="105.23" y1="51.65" x2="106.83" y2="51.65" stroke="#0f0f84" stroke-width="0.5" opacity="0.8"/>
<line x1="110.69" y1="36.87" x2="110.69" y2="49.16" stroke="#0f0f84" stroke-width="0.6" opacity="0.8"/>
<line x1="109.89" y1="36.87" x2="111.49" y2="36.87" stroke="#0f0f84" stroke-width="0.5" opacity="0.8"/>
<line x1="109.89" y1="49.16" x2="111.49" y2="49.16" stroke="#0f0f84" stroke-width="0.5" opacity="0.8"/>
<line x1="117.32" y1="43.85" x2="117.32" y2="48.63" stroke="#0f0f84" stroke-width="0.6" opacity="0.8"/>
<line x1="116.52" y1="43.85" x2="118.12" y2="43.85" stroke="#0f0f84" stroke-width="0.5" opacity="0.8"/>
<line x1="116.52" y1="48.63" x2="118.12" y2="48.63" stroke="#0f0f84" stroke-width="0.5" opacity="0.8"/>
<line x1="121.97" y1="42.69" x2="121.97" y2="55.51" stroke="#0f0f84" stroke-width="0.6" opacity="0.8"/>
<line x1="121.17" y1="42.69" x2="122.77" y2="42.69" stroke="#0f0f84" stroke-width="0.5" opacity="0.8"/>
<line x1="121.17" y1="55.51" x2="122.77" y2="55.51" stroke="#0f0f84" stroke-width="0.5" opacity="0.8"/>
<line x1="128.61" y1="51.34" x2="128.61" y2="58.59" stroke="#0f0f84" stroke-width="0.6" opacity="0.8"/>
<line x1="127.81" y1="51.34" x2="129.41" y2="51.34" stroke="#0f0f84" stroke-width="0.5" opacity="0.8"/>
<line x1="127.81" y1="58.59" x2="129.41" y2="58.59" stroke="#0f0f84" stroke-width="0.5" opacity="0.8"/>
<line x1="38.3" y1="33.42" x2="38.3" y2="43.09" stroke="#611987" stroke-width="0.6" opacity="0.8"/>
<line x1="37.5" y1="33.42" x2="39.1" y2="33.42" stroke="#611987" stroke-width="0.5" opacity="0.8"/>
<line x1="37.5" y1="43.09" x2="39.1" y2="43.09" stroke="#611987" stroke-width="0.5" opacity="0.8"/>
<line x1="42.95" y1="33.78" x2="42.95" y2="42.94" stroke="#611987" stroke-width="0.6" opacity="0.8"/>
<line x1="42.15" y1="33.78" x2="43.75" y2="33.78" stroke="#611987" stroke-width="0.5" opacity="0.8"/>
<line x1="42.15" y1="42.94" x2="43.75" y2="42.94" stroke="#611987" stroke-width="0.5" opacity="0.8"/>
<line x1="49.58" y1="36.51" x2="49.58" y2="41.23" stroke="#611987" stroke-width="0.6" opacity="0.8"/>
<line x1="48.78" y1="36.51" x2="50.38" y2="36.51" stroke="#611987" stroke-width="0.5" opacity="0.8"/>
<line x1="48.78" y1="41.23" x2="50.38" y2="41.23" stroke="#611987" stroke-width="0.5" opacity="0.8"/>
<line x1="54.24" y1="41.91" x2="54.24" y2="47.8" stroke="#611987" stroke-width="0.6" opacity="0.8"/>
<line x1="53.44" y1="41.91" x2="55.04" y2="41.91" stroke="#611987" stroke-width="0.5" opacity="0.8"/>
<line x1="53.44" y1="47.8" x2="55.04" y2="47.8" stroke="#611987" stroke-width="0.5" opacity="0.8"/>
<line x1="60.87" y1="46" x2="60.87" y2="51.35" stroke="#611987" stroke-width="0.6" opacity="0.8"/>
<line x1="60.07" y1="46" x2="61.67" y2="46" stroke="#611987" stroke-width="0.5" opacity="0.8"/>
<line x1="60.07" y1="51.35" x2="61.67" y2="51.35" stroke="#611987" stroke-width="0.5" opacity="0.8"/>
<line x1="65.53" y1="41.73" x2="65.53" y2="54.47" stroke="#611987" stroke-width="0.6" opacity="0.8"/>
<line x1="64.73" y1="41.73" x2="66.33" y2="41.73" stroke="#611987" stroke-width="0.5" opacity="0.8"/>
<line x1="64.73" y1="54.47" x2="66.33" y2="54.47" stroke="#611987" stroke-width="0.5" opacity="0.8"/>
<line x1="72.16" y1="52.45" x2="72.16" y2="61.87" stroke="#611987" stroke-width="0.6" opacity="0.8"/>
<line x1="71.36" y1="52.45" x2="72.96" y2="52.45" stroke="#611987" stroke-width="0.5" opacity="0.8"/>
<line x1="71.36" y1="61.87" x2="72.96" y2="61.87" stroke="#611987" stroke-width="0.5" opacity="0.8"/>
<line x1="76.82" y1="55.52" x2="76.82" y2="63.19" stroke="#611987" stroke-width="0.6" opacity="0.8"/>
<line x1="76.02" y1="55.52" x2="77.62" y2="55.52" stroke="#611987" stroke-width="0.5" opacity="0.8"/>
<line x1="76.02" y1="63.19" x2="77.62" y2="63.19" stroke="#611987" stroke-width="0.5" opacity="0.8"/>
<line x1="83.45" y1="58.4" x2="83.45" y2="69.19" stroke="#611987" stroke-width="0.6" opacity="0.8"/>
<line x1="82.65" y1="58.4" x2="84.25" y2="58.4" stroke="#611987" stroke-width="0.5" opacity="0.8"/>
<line x1="82.65" y1="69.19" x2="84.25" y2="69.19" stroke="#611987" stroke-width="0.5" opacity="0.8"/>
<line x1="88.11" y1="60.12" x2="88.11" y2="68.22" stroke="#611987" stroke-width="0.6" opacity="0.8"/>
<line x1="87.31" y1="60.12" x2="88.91" y2="60.12" stroke="#611987" stroke-width="0.5" opacity="0.8"/>
<line x1="87.31" y1="68.22" x2="88.91" y2="68.22" stroke="#611987" stroke-width="0.5" opacity="0.8"/>
<line x1="94.74" y1="63.51" x2="94.74" y2="71.31" stroke="#611987" stroke-width="0.6" opacity="0.8"/>
<line x1="93.94" y1="63.51" x2="95.54" y2="63.51" stroke="#611987" stroke-width="0.5" opacity="0.8"/>
<line x1="93.94" y1="71.31" x2="95.54" y2="71.31" stroke="#611987" stroke-width="0.5" opacity="0.8"/>
<line x1="99.4" y1="63.17" x2="99.4" y2="73.1" stroke="#611987" stroke-width="0.6" opacity="0.8"/>
<line x1="98.6" y1="63.17" x2="100.2" y2="63.17" stroke="#611987" stroke-width="0.5" opacity="0.8"/>
<line x1="98.6" y1="73.1" x2="100.2" y2="73.1" stroke="#611987" stroke-width="0.5" opacity="0.8"/>
<line x1="106.03" y1="61.56" x2="106.03" y2="69.84" stroke="#611987" stroke-width="0.6" opacity="0.8"/>
<line x1="105.23" y1="61.56" x2="106.83" y2="61.56" stroke="#611987" stroke-width="0.5" opacity="0.8"/>
<line x1="105.23" y1="69.84" x2="106.83" y2="69.84" stroke="#611987" stroke-width="0.5" opacity="0.8"/>
<line x1="110.69" y1="65.74" x2="110.69" y2="72.13" stroke="#611987" stroke-width="0.6" opacity="0.8"/>
<line x1="109.89" y1="65.74" x2="111.49" y2="65.74" stroke="#611987" stroke-width="0.5" opacity="0.8"/>
<line x1="109.89" y1="72.13" x2="111.49" y2="72.13" stroke="#611987" stroke-width="0.5" opacity="0.8"/>
<line x1="117.32" y1="62.36" x2="117.32" y2="72.75" stroke="#611987" stroke-width="0.6" opacity="0.8"/>
<line x1="116.52" y1="62.36" x2="118.12" y2="62.36" stroke="#611987" stroke-width="0.5" opacity="0.8"/>
<line x1="116.52" y1="72.75" x2="118.12" y2="72.75" stroke="#611987" stroke-width="0.5" opacity="0.8"/>
<line x1="121.97" y1="61.49" x2="121.97" y2="69.77" stroke="#611987" stroke-width="0.6" opacity="0.8"/>
<line x1="121.17" y1="61.49" x2="122.77" y2="61.49" stroke="#611987" stroke-width="0.5" opacity="0.8"/>
<line x1="121.17" y1="69.77" x2="122.77" y2="69.77" stroke="#611987" stroke-width="0.5" opacity="0.8"/>
<line x1="128.61" y1="61.05" x2="128.61" y2="71.61" stroke="#611987" stroke-width="0.6" opacity="0.8"/>
<line x1="127.81" y1="61.05" x2="129.41" y2="61.05" stroke="#611987" stroke-width="0.5" opacity="0.8"/>
<line x1="127.81" y1="71.61" x2="129.41" y2="71.61" stroke="#611987" stroke-width="0.5" opacity="0.8"/>
<line x1="38.3" y1="31.82" x2="38.3" y2="40.03" stroke="#994590" stroke-width="0.6" opacity="0.8"/>
<line x1="37.5" y1="31.82" x2="39.1" y2="31.82" stroke="#994590" stroke-width="0.5" opacity="0.8"/>
<line x1="37.5" y1="40.03" x2="39.1" y2="40.03" stroke="#994590" stroke-width="0.5" opacity="0.8"/>
<line x1="42.95" y1="29.96" x2="42.95" y2="41.28" stroke="#994590" stroke-width="0.6" opacity="0.8"/>
<line x1="42.15" y1="29.96" x2="43.75" y2="29.96" stroke="#994590" stroke-width="0.5" opacity="0.8"/>
<line x1="42.15" y1="41.28" x2="43.75" y2="41.28" stroke="#994590" stroke-width="0.5" opacity="0.8"/>
<line x1="49.58" y1="30.36" x2="49.58" y2="41.59" stroke="#994590" stroke-width="0.6" opacity="0.8"/>
<line x1="48.78" y1="30.36" x2="50.38" y2="30.36" stroke="#994590" stroke-width="0.5" opacity="0.8"/>
<line x1="48.78" y1="41.59" x2="50.38" y2="41.59" stroke="#994590" stroke-width="0.5" opacity="0.8"/>
<line x1="54.24" y1="32.28" x2="54.24" y2="39.29" stroke="#994590" stroke-width="0.6" opacity="0.8"/>
<line x1="53.44" y1="32.28" x2="55.04" y2="32.28" stroke="#994590" stroke-width="0.5" opacity="0.8"/>
<line x1="53.44" y1="39.29" x2="55.04" y2="39.29" stroke="#994590" stroke-width="0.5" opacity="0.8"/>
<line x1="60.87" y1="29.81" x2="60.87" y2="41.05" stroke="#994590" stroke-width="0.6" opacity="0.8"/>
<line x1="60.07" y1="29.81" x2="61.67" y2="29.81" stroke="#994590" stroke-width="0.5" opacity="0.8"/>
<line x1="60.07" y1="41.05" x2="61.67" y2="41.05" stroke="#994590" stroke-width="0.5" opacity="0.8"/>
<line x1="65.53" y1="33.26" x2="65.53" y2="41.97" stroke="#994590" stroke-width="0.6" opacity="0.8"/>
<line x1="64.73" y1="33.26" x2="66.33" y2="33.26" stroke="#994590" stroke-width="0.5" opacity="0.8"/>
<line x1="64.73" y1="41.97" x2="66.33" y2="41.97" stroke="#994590" stroke-width="0.5" opacity="0.8"/>
<line x1="72.16" y1="29.46" x2="72.16" y2="42.44" stroke="#994590" stroke-width="0.6" opacity="0.8"/>
<line x1="71.36" y1="29.46" x2="72.96" y2="29.46" stroke="#994590" stroke-width="0.5" opacity="0.8"/>
<line x1="71.36" y1="42.44" x2="72.96" y2="42.44" stroke="#994590" stroke-width="0.5" opacity="0.8"/>
<line x1="76.82" y1="29.18" x2="76.82" y2="37.41" stroke="#994590" stroke-width="0.6" opacity="0.8"/>
<line x1="76.02" y1="29.18" x2="77.62" y2="29.18" stroke="#994590" stroke-width="0.5" opacity="0.8"/>
<line x1="76.02" y1="37.41" x2="77.62" y2="37.41" stroke="#994590" stroke-width="0.5" opacity="0.8"/>
<line x1="83.45" y1="26.94" x2="83.45" y2="39.09" stroke="#994590" stroke-width="0.6" opacity="0.8"/>
<line x1="82.65" y1="26.94" x2="84.25" y2="26.94" stroke="#994590" stroke-width="0.5" opacity="0.8"/>
<line x1="82.65" y1="39.09" x2="84.25" y2="39.09" stroke="#994590" stroke-width="0.5" opacity="0.8"/>
<line x1="88.11" y1="31.15" x2="88.11" y2="40.22" stroke="#994590" stroke-width="0.6" opacity="0.8"/>
<line x1="87.31" y1="31.15" x2="88.91" y2="31.15" stroke="#994590" stroke-width="0.5" opacity="0.8"/>
<line x1="87.31" y1="40.22" x2="88.91" y2="40.22" stroke="#994590" stroke-width="0.5" opacity="0.8"/>
<line x1="94.74" y1="29.7" x2="94.74" y2="42.05" stroke="#994590" stroke-width="0.6" opacity="0.8"/>
<line x1="93.94" y1="29.7" x2="95.54" y2="29.7" stroke="#994590" stroke-width="0.5" opacity="0.8"/>
<line x1="93.94" y1="42.05" x2="95.54" y2="42.05" stroke="#994590" stroke-width="0.5" opacity="0.8"/>
<line x1="99.4" y1="26.36" x2="99.4" y2="39.42" stroke="#994590" stroke-width="0.6" opacity="0.8"/>
<line x1="98.6" y1="26.36" x2="100.2" y2="26.36" stroke="#994590" stroke-width="0.5" opacity="0.8"/>
<line x1="98.6" y1="39.42" x2="100.2" y2="39.42" stroke="#994590" stroke-width="0.5" opacity="0.8"/>
<line x1="106.03" y1="26.09" x2="106.03" y2="37.07" stroke="#994590" stroke-width="0.6" opacity="0.8"/>
<line x1="105.23" y1="26.09" x2="106.83" y2="26.09" stroke="#994590" stroke-width="0.5" opacity="0.8"/>
<line x1="105.23" y1="37.07" x2="106.83" y2="37.07" stroke="#994590" stroke-width="0.5" opacity="0.8"/>
<line x1="110.69" y1="26.36" x2="110.69" y2="36.37" stroke="#994590" stroke-width="0.6" opacity="0.8"/>
<line x1="109.89" y1="26.36" x2="111.49" y2="26.36" stroke="#994590" stroke-width="0.5" opacity="0.8"/>
<line x1="109.89" y1="36.37" x2="111.49" y2="36.37" stroke="#994590" stroke-width="0.5" opacity="0.8"/>
<line x1="117.32" y1="29.67" x2="117.32" y2="39.91" stroke="#994590" stroke-width="0.6" opacity="0.8"/>
<line x1="116.52" y1="29.67" x2="118.12" y2="29.67" stroke="#994590" stroke-width="0.5" opacity="0.8"/>
<line x1="116.52" y1="39.91" x2="118.12" y2="39.91" stroke="#994590" stroke-width="0.5" opacity="0.8"/>
<line x1="121.97" y1="32.55" x2="121.97" y2="38.6" stroke="#994590" stroke-width="0.6" opacity="0.8"/>
<line x1="121.17" y1="32.55" x2="122.77" y2="32.55" stroke="#994590" stroke-width="0.5" opacity="0.8"/>
<line x1="121.17" y1="38.6" x2="122.77" y2="38.6" stroke="#994590" stroke-width="0.5" opacity="0.8"/>
<line x1="128.61" y1="34.1" x2="128.61" y2="39.22" stroke="#994590" stroke-width="0.6" opacity="0.8"/>
<line x1="127.81" y1="34.1" x2="129.41" y2="34.1" stroke="#994590" stroke-width="0.5" opacity="0.8"/>
<line x1="127.81" y1="39.22" x2="129.41" y2="39.22" stroke="#994590" stroke-width="0.5" opacity="0.8"/>
<line x1="38.3" y1="37.84" x2="38.3" y2="43.48" stroke="#676d7b" stroke-width="0.6" opacity="0.8"/>
<line x1="37.5" y1="37.84" x2="39.1" y2="37.84" stroke="#676d7b" stroke-width="0.5" opacity="0.8"/>
<line x1="37.5" y1="43.48" x2="39.1" y2="43.48" stroke="#676d7b" stroke-width="0.5" opacity="0.8"/>
<line x1="42.95" y1="34.58" x2="42.95" y2="40.97" stroke="#676d7b" stroke-width="0.6" opacity="0.8"/>
<line x1="42.15" y1="34.58" x2="43.75" y2="34.58" stroke="#676d7b" stroke-width="0.5" opacity="0.8"/>
<line x1="42.15" y1="40.97" x2="43.75" y2="40.97" stroke="#676d7b" stroke-width="0.5" opacity="0.8"/>
<line x1="49.58" y1="37.67" x2="49.58" y2="50.29" stroke="#676d7b" stroke-width="0.6" opacity="0.8"/>
<line x1="48.78" y1="37.67" x2="50.38" y2="37.67" stroke="#676d7b" stroke-width="0.5" opacity="0.8"/>
<line x1="48.78" y1="50.29" x2="50.38" y2="50.29" stroke="#676d7b" stroke-width="0.5" opacity="0.8"/>
<line x1="54.24" y1="39.79" x2="54.24" y2="52.43" stroke="#676d7b" stroke-width="0.6" opacity="0.8"/>
<line x1="53.44" y1="39.79" x2="55.04" y2="39.79" stroke="#676d7b" stroke-width="0.5" opacity="0.8"/>
<line x1="53.44" y1="52.43" x2="55.04" y2="52.43" stroke="#676d7b" stroke-width="0.5" opacity="0.8"/>
<line x1="60.87" y1="41.65" x2="60.87" y2="54.22" stroke="#676d7b" stroke-width="0.6" opacity="0.8"/>
<line x1="60.07" y1="41.65" x2="61.67" y2="41.65" stroke="#676d7b" stroke-width="0.5" opacity="0.8"/>
<line x1="60.07" y1="54.22" x2="61.67" y2="54.22" stroke="#676d7b" stroke-width="0.5" opacity="0.8"/>
<line x1="65.53" y1="45.46" x2="65.53" y2="55.61" stroke="#676d7b" stroke-width="0.6" opacity="0.8"/>
<line x1="64.73" y1="45.46" x2="66.33" y2="45.46" stroke="#676d7b" stroke-width="0.5" opacity="0.8"/>
<line x1="64.73" y1="55.61" x2="66.33" y2="55.61" stroke="#676d7b" stroke-width="0.5" opacity="0.8"/>
<line x1="72.16" y1="54.31" x2="72.16" y2="59.36" stroke="#676d7b" stroke-width="0.6" opacity="0.8"/>
<line x1="71.36" y1="54.31" x2="72.96" y2="54.31" stroke="#676d7b" stroke-width="0.5" opacity="0.8"/>
<line x1="71.36" y1="59.36" x2="72.96" y2="59.36" stroke="#676d7b" stroke-width="0.5" opacity="0.8"/>
<line x1="76.82" y1="56.11" x2="76.82" y2="65.63" stroke="#676d7b" stroke-width="0.6" opacity="0.8"/>
<line x1="76.02" y1="56.11" x2="77.62" y2="56.11" stroke="#676d7b" stroke-width="0.5" opacity="0.8"/>
<line x1="76.02" y1="65.63" x2="77.62" y2="65.63" stroke="#676d7b" stroke-width="0.5" opacity="0.8"/>
<line x1="83.45" y1="63.79" x2="83.45" y2="69.5" stroke="#676d7b" stroke-width="0.6" opacity="0.8"/>
<line x1="82.65" y1="63.79" x2="84.25" y2="63.79" stroke="#676d7b" stroke-width="0.5" opacity="0.8"/>
<line x1="82.65" y1="69.5" x2="84.25" y2="69.5" stroke="#676d7b" stroke-width="0.5" opacity="0.8"/>
<line x1="88.11" y1="62.11" x2="88.11" y2="75.61" stroke="#676d7b" stroke-width="0.6" opacity="0.8"/>
<line x1="87.31" y1="62.11" x2="88.91" y2="62.11" stroke="#676d7b" stroke-width="0.5" opacity="0.8"/>
<line x1="87.31" y1="75.61" x2="88.91" y2="75.61" stroke="#676d7b" stroke-width="0.5" opacity="0.8"/>
<line x1="94.74" y1="70.98" x2="94.74" y2="78.74" stroke="#676d7b" stroke-width="0.6" opacity="0.8"/>
<line x1="93.94" y1="70.98" x2="95.54" y2="70.98" stroke="#676d7b" stroke-width="0.5" opacity="0.8"/>
<line x1="93.94" y1="78.74" x2="95.54" y2="78.74" stroke="#676d7b" stroke-width="0.5" opacity="0.8"/>
<line x1="99.4" y1="67.06" x2="99.4" y2="79.56" stroke="#676d7b" stroke-width="0.6" opacity="0.8"/>
<line x1="98.6" y1="67.06" x2="100.2" y2="67.06" stroke="#676d7b" stroke-width="0.5" opacity="0.8"/>
<line x1="98.6" y1="79.56" x2="100.2" y2="79.56" stroke="#676d7b" stroke-width="0.5" opacity="0.8"/>
<line x1="106.03" y1="72.32" x2="106.03" y2="78.72" stroke="#676d7b" stroke-width="0.6" opacity="0.8"/>
<line x1="105.23" y1="72.32" x2="106.83" y2="72.32" stroke="#676d7b" stroke-width="0.5" opacity="0.8"/>
<line x1="105.23" y1="78.72" x2="106.83" y2="78.72" stroke="#676d7b" stroke-width="0.5" opacity="0.8"/>
<line x1="110.69" y1="70.72" x2="110.69" y2="81.22" stroke="#676d7b" stroke-width="0.6" opacity="0.8"/>
<line x1="109.89" y1="70.72" x2="111.49" y2="70.72" stroke="#676d7b" stroke-width="0.5" opacity="0.8"/>
<line x1="109.89" y1="81.22" x2="111.49" y2="81.22" stroke="#676d7b" stroke-width="0.5" opacity="0.8"/>
<line x1="117.32" y1="69.4" x2="117.32" y2="77.81" stroke="#676d7b" stroke-width="0.6" opacity="0.8"/>
<line x1="116.52" y1="69.4" x2="118.12" y2="69.4" stroke="#676d7b" stroke-width="0.5" opacity="0.8"/>
<line x1="116.52" y1="77.81" x2="118.12" y2="77.81" stroke="#676d7b" stroke-width="0.5" opacity="0.8"/>
<line x1="121.97" y1="71.21" x2="121.97" y2="79.64" stroke="#676d7b" stroke-width="0.6" opacity="0.8"/>
<line x1="121.17" y1="71.21" x2="122.77" y2="71.21" stroke="#676d7b" stroke-width="0.5" opacity="0.8"/>
<line x1="121.17" y1="79.64" x2="122.77" y2="79.64" stroke="#676d7b" stroke-width="0.5" opacity="0.8"/>
<line x1="128.61" y1="71.97" x2="128.61" y2="80.61" stroke="#676d7b" stroke-width="0.6" opacity="0.8"/>
<line x1="127.81" y1="71.97" x2="129.41" y2="71.97" stroke="#676d7b" stroke-width="0.5" opacity="0.8"/>
<line x1="127.81" y1="80.61" x2="129.41" y2="80.61" stroke="#676d7b" stroke-width="0.5" opacity="0.8"/>
<line x1="38.3" y1="35.21" x2="38.3" y2="44.62" stroke="#554a31" stroke-width="0.6" opacity="0.8"/>
<line x1="37.5" y1="35.21" x2="39.1" y2="35.21" stroke="#554a31" stroke-width="0.5" opacity="0.8"/>
<line x1="37.5" y1="44.62" x2="39.1" y2="44.62" stroke="#554a31" stroke-width="0.5" opacity="0.8"/>
<line x1="42.95" y1="32.26" x2="42.95" y2="40.85" stroke="#554a31" stroke-width="0.6" opacity="0.8"/>
<line x1="42.15" y1="32.26" x2="43.75" y2="32.26" stroke="#554a31" stroke-width="0.5" opacity="0.8"/>
<line x1="42.15" y1="40.85" x2="43.75" y2="40.85" stroke="#554a31" stroke-width="0.5" opacity="0.8"/>
<line x1="49.58" y1="36.15" x2="49.58" y2="42.36" stroke="#554a31" stroke-width="0.6" opacity="0.8"/>
<line x1="48.78" y1="36.15" x2="50.38" y2="36.15" stroke="#554a31" stroke-width="0.5" opacity="0.8"/>
<line x1="48.78" y1="42.36" x2="50.38" y2="42.36" stroke="#554a31" stroke-width="0.5" opacity="0.8"/>
<line x1="54.24" y1="35.23" x2="54.24" y2="47.05" stroke="#554a31" stroke-width="0.6" opacity="0.8"/>
<line x1="53.44" y1="35.23" x2="55.04" y2="35.23" stroke="#554a31" stroke-width="0.5" opacity="0.8"/>
<line x1="53.44" y1="47.05" x2="55.04" y2="47.05" stroke="#554a31" stroke-width="0.5" opacity="0.8"/>
<line x1="60.87" y1="38.92" x2="60.87" y2="48.49" stroke="#554a31" stroke-width="0.6" opacity="0.8"/>
<line x1="60.07" y1="38.92" x2="61.67" y2="38.92" stroke="#554a31" stroke-width="0.5" opacity="0.8"/>
<line x1="60.07" y1="48.49" x2="61.67" y2="48.49" stroke="#554a31" stroke-width="0.5" opacity="0.8"/>
<line x1="65.53" y1="41.18" x2="65.53" y2="51.94" stroke="#554a31" stroke-width="0.6" opacity="0.8"/>
<line x1="64.73" y1="41.18" x2="66.33" y2="41.18" stroke="#554a31" stroke-width="0.5" opacity="0.8"/>
<line x1="64.73" y1="51.94" x2="66.33" y2="51.94" stroke="#554a31" stroke-width="0.5" opacity="0.8"/>
<line x1="72.16" y1="44.35" x2="72.16" y2="50.46" stroke="#554a31" stroke-width="0.6" opacity="0.8"/>
<line x1="71.36" y1="44.35" x2="72.96" y2="44.35" stroke="#554a31" stroke-width="0.5" opacity="0.8"/>
<line x1="71.36" y1="50.46" x2="72.96" y2="50.46" stroke="#554a31" stroke-width="0.5" opacity="0.8"/>
<line x1="76.82" y1="46.74" x2="76.82" y2="58.49" stroke="#554a31" stroke-width="0.6" opacity="0.8"/>
<line x1="76.02" y1="46.74" x2="77.62" y2="46.74" stroke="#554a31" stroke-width="0.5" opacity="0.8"/>
<line x1="76.02" y1="58.49" x2="77.62" y2="58.49" stroke="#554a31" stroke-width="0.5" opacity="0.8"/>
<line x1="83.45" y1="45.81" x2="83.45" y2="55.38" stroke="#554a31" stroke-width="0.6" opacity="0.8"/>
<line x1="82.65" y1="45.81" x2="84.25" y2="45.81" stroke="#554a31" stroke-width="0.5" opacity="0.8"/>
<line x1="82.65" y1="55.38" x2="84.25" y2="55.38" stroke="#554a31" stroke-width="0.5" opacity="0.8"/>
<line x1="88.11" y1="47.63" x2="88.11" y2="59.1" stroke="#554a31" stroke-width="0.6" opacity="0.8"/>
<line x1="87.31" y1="47.63" x2="88.91" y2="47.63" stroke="#554a31" stroke-width="0.5" opacity="0.8"/>
<line x1="87.31" y1="59.1" x2="88.91" y2="59.1" stroke="#554a31" stroke-width="0.5" opacity="0.8"/>
<line x1="94.74" y1="51.43" x2="94.74" y2="58.65" stroke="#554a31" stroke-width="0.6" opacity="0.8"/>
<line x1="93.94" y1="51.43" x2="95.54" y2="51.43" stroke="#554a31" stroke-width="0.5" opacity="0.8"/>
<line x1="93.94" y1="58.65" x2="95.54" y2="58.65" stroke="#554a31" stroke-width="0.5" opacity="0.8"/>
<line x1="99.4" y1="49.94" x2="99.4" y2="60.15" stroke="#554a31" stroke-width="0.6" opacity="0.8"/>
<line x1="98.6" y1="49.94" x2="100.2" y2="49.94" stroke="#554a31" stroke-width="0.5" opacity="0.8"/>
<line x1="98.6" y1="60.15" x2="100.2" y2="60.15" stroke="#554a31" stroke-width="0.5" opacity="0.8"/>
<line x1="106.03" y1="51.06" x2="106.03" y2="57.95" stroke="#554a31" stroke-width="0.6" opacity="0.8"/>
<line x1="105.23" y1="51.06" x2="106.83" y2="51.06" stroke="#554a31" stroke-width="0.5" opacity="0.8"/>
<line x1="105.23" y1="57.95" x2="106.83" y2="57.95" stroke="#554a31" stroke-width="0.5" opacity="0.8"/>
<line x1="110.69" y1="45.9" x2="110.69" y2="59.57" stroke="#554a31" stroke-width="0.6" opacity="0.8"/>
<line x1="109.89" y1="45.9" x2="111.49" y2="45.9" stroke="#554a31" stroke-width="0.5" opacity="0.8"/>
<line x1="109.89" y1="59.57" x2="111.49" y2="59.57" stroke="#554a31" stroke-width="0.5" opacity="0.8"/>
<line x1="117.32" y1="49.38" x2="117.32" y2="60.72" stroke="#554a31" stroke-width="0.6" opacity="0.8"/>
<line x1="116.52" y1="49.38" x2="118.12" y2="49.38" stroke="#554a31" stroke-width="0.5" opacity="0.8"/>
<line x1="116.52" y1="60.72" x2="118.12" y2="60.72" stroke="#554a31" stroke-width="0.5" opacity="0.8"/>
<line x1="121.97" y1="48.45" x2="121.97" y2="61.19" stroke="#554a31" stroke-width="0.6" opacity="0.8"/>
<line x1="121.17" y1="48.45" x2="122.77" y2="48.45" stroke="#554a31" stroke-width="0.5" opacity="0.8"/>
<line x1="121.17" y1="61.19" x2="122.77" y2="61.19" stroke="#554a31" stroke-width="0.5" opacity="0.8"/>
<line x1="128.61" y1="51.19" x2="128.61" y2="58.41" stroke="#554a31" stroke-width="0.6" opacity="0.8"/>
<line x1="127.81" y1="51.19" x2="129.41" y2="51.19" stroke="#554a31" stroke-width="0.5" opacity="0.8"/>
<line x1="127.81" y1="58.41" x2="129.41" y2="58.41" stroke="#554a31" stroke-width="0.5" opacity="0.8"/>
<line x1="38.3" y1="30.46" x2="38.3" y2="43.63" stroke="#a9406a" stroke-width="0.6" opacity="0.8"/>
<line x1="37.5" y1="30.46" x2="39.1" y2="30.46" stroke="#a9406a" stroke-width="0.5" opacity="0.8"/>
<line x1="37.5" y1="43.63" x2="39.1" y2="43.63" stroke="#a9406a" stroke-width="0.5" opacity="0.8"/>
<line x1="42.95" y1="34.3" x2="42.95" y2="47.14" stroke="#a9406a" stroke-width="0.6" opacity="0.8"/>
<line x1="42.15" y1="34.3" x2="43.75" y2="34.3" stroke="#a9406a" stroke-width="0.5" opacity="0.8"/>
<line x1="42.15" y1="47.14" x2="43.75" y2="47.14" stroke="#a9406a" stroke-width="0.5" opacity="0.8"/>
<line x1="49.58" y1="38.27" x2="49.58" y2="46.96" stroke="#a9406a" stroke-width="0.6" opacity="0.8"/>
<line x1="48.78" y1="38.27" x2="50.38" y2="38.27" stroke="#a9406a" stroke-width="0.5" opacity="0.8"/>
<line x1="48.78" y1="46.96" x2="50.38" y2="46.96" stroke="#a9406a" stroke-width="0.5" opacity="0.8"/>
<line x1="54.24" y1="40.49" x2="54.24" y2="46.01" stroke="#a9406a" stroke-width="0.6" opacity="0.8"/>
<line x1="53.44" y1="40.49" x2="55.04" y2="40.49" stroke="#a9406a" stroke-width="0.5" opacity="0.8"/>
<line x1="53.44" y1="46.01" x2="55.04" y2="46.01" stroke="#a9406a" stroke-width="0.5" opacity="0.8"/>
<line x1="60.87" y1="44.39" x2="60.87" y2="56.94" stroke="#a9406a" stroke-width="0.6" opacity="0.8"/>
<line x1="60.07" y1="44.39" x2="61.67" y2="44.39" stroke="#a9406a" stroke-width="0.5" opacity="0.8"/>
<line x1="60.07" y1="56.94" x2="61.67" y2="56.94" stroke="#a9406a" stroke-width="0.5" opacity="0.8"/>
<line x1="65.53" y1="49.61" x2="65.53" y2="57.67" stroke="#a9406a" stroke-width="0.6" opacity="0.8"/>
<line x1="64.73" y1="49.61" x2="66.33" y2="49.61" stroke="#a9406a" stroke-width="0.5" opacity="0.8"/>
<line x1="64.73" y1="57.67" x2="66.33" y2="57.67" stroke="#a9406a" stroke-width="0.5" opacity="0.8"/>
<line x1="72.16" y1="52.33" x2="72.16" y2="63.39" stroke="#a9406a" stroke-width="0.6" opacity="0.8"/>
<line x1="71.36" y1="52.33" x2="72.96" y2="52.33" stroke="#a9406a" stroke-width="0.5" opacity="0.8"/>
<line x1="71.36" y1="63.39" x2="72.96" y2="63.39" stroke="#a9406a" stroke-width="0.5" opacity="0.8"/>
<line x1="76.82" y1="60.52" x2="76.82" y2="68.37" stroke="#a9406a" stroke-width="0.6" opacity="0.8"/>
<line x1="76.02" y1="60.52" x2="77.62" y2="60.52" stroke="#a9406a" stroke-width="0.5" opacity="0.8"/>
<line x1="76.02" y1="68.37" x2="77.62" y2="68.37" stroke="#a9406a" stroke-width="0.5" opacity="0.8"/>
<line x1="83.45" y1="63.32" x2="83.45" y2="72.59" stroke="#a9406a" stroke-width="0.6" opacity="0.8"/>
<line x1="82.65" y1="63.32" x2="84.25" y2="63.32" stroke="#a9406a" stroke-width="0.5" opacity="0.8"/>
<line x1="82.65" y1="72.59" x2="84.25" y2="72.59" stroke="#a9406a" stroke-width="0.5" opacity="0.8"/>
<line x1="88.11" y1="65.54" x2="88.11" y2="75.75" stroke="#a9406a" stroke-width="0.6" opacity="0.8"/>
<line x1="87.31" y1="65.54" x2="88.91" y2="65.54" stroke="#a9406a" stroke-width="0.5" opacity="0.8"/>
<line x1="87.31" y1="75.75" x2="88.91" y2="75.75" stroke="#a9406a" stroke-width="0.5" opacity="0.8"/>
<line x1="94.74" y1="64.33" x2="94.74" y2="72.71" stroke="#a9406a" stroke-width="0.6" opacity="0.8"/>
<line x1="93.94" y1="64.33" x2="95.54" y2="64.33" stroke="#a9406a" stroke-width="0.5" opacity="0.8"/>
<line x1="93.94" y1="72.71" x2="95.54" y2="72.71" stroke="#a9406a" stroke-width="0.5" opacity="0.8"/>
<line x1="99.4" y1="67.95" x2="99.4" y2="73.77" stroke="#a9406a" stroke-width="0.6" opacity="0.8"/>
<line x1="98.6" y1="67.95" x2="100.2" y2="67.95" stroke="#a9406a" stroke-width="0.5" opacity="0.8"/>
<line x1="98.6" y1="73.77" x2="100.2" y2="73.77" stroke="#a9406a" stroke-width="0.5" opacity="0.8"/>
<line x1="106.03" y1="67" x2="106.03" y2="77.96" stroke="#a9406a" stroke-width="0.6" opacity="0.8"/>
<line x1="105.23" y1="67" x2="106.83" y2="67" stroke="#a9406a" stroke-width="0.5" opacity="0.8"/>
<line x1="105.23" y1="77.96" x2="106.83" y2="77.96" stroke="#a9406a" stroke-width="0.5" opacity="0.8"/>
<line x1="110.69" y1="66.96" x2="110.69" y2="80.01" stroke="#a9406a" stroke-width="0.6" opacity="0.8"/>
<line x1="109.89" y1="66.96" x2="111.49" y2="66.96" stroke="#a9406a" stroke-width="0.5" opacity="0.8"/>
<line x1="109.89" y1="80.01" x2="111.49" y2="80.01" stroke="#a9406a" stroke-width="0.5" opacity="0.8"/>
<line x1="117.32" y1="66.93" x2="117.32" y2="72.55" stroke="#a9406a" stroke-width="0.6" opacity="0.8"/>
<line x1="116.52" y1="66.93" x2="118.12" y2="66.93" stroke="#a9406a" stroke-width="0.5" opacity="0.8"/>
<line x1="116.52" y1="72.55" x2="118.12" y2="72.55" stroke="#a9406a" stroke-width="0.5" opacity="0.8"/>
<line x1="121.97" y1="65.48" x2="121.97" y2="73.7" stroke="#a9406a" stroke-width="0.6" opacity="0.8"/>
<line x1="121.17" y1="65.48" x2="122.77" y2="65.48" stroke="#a9406a" stroke-width="0.5" opacity="0.8"/>
<line x1="121.17" y1="73.7" x2="122.77" y2="73.7" stroke="#a9406a" stroke-width="0.5" opacity="0.8"/>
<line x1="128.61" y1="65.25" x2="128.61" y2="77.08" stroke="#a9406a" stroke-width="0.6" opacity="0.8"/>
<line x1="127.81" y1="65.25" x2="129.41" y2="65.25" stroke="#a9406a" stroke-width="0.5" opacity="0.8"/>
<line x1="127.81" y1="77.08" x2="129.41" y2="77.08" stroke="#a9406a" stroke-width="0.5" opacity="0.8"/>
<line x1="38.3" y1="33.38" x2="38.3" y2="44.45" stroke="#9f0d0d" stroke-width="0.6" opacity="0.8"/>
<line x1="37.5" y1="33.38" x2="39.1" y2="33.38" stroke="#9f0d0d" stroke-width="0.5" opacity="0.8"/>
<line x1="37.5" y1="44.45" x2="39.1" y2="44.45" stroke="#9f0d0d" stroke-width="0.5" opacity="0.8"/>
<line x1="42.95" y1="32.33" x2="42.95" y2="44.62" stroke="#9f0d0d" stroke-width="0.6" opacity="0.8"/>
<line x1="42.15" y1="32.33" x2="43.75" y2="32.33" stroke="#9f0d0d" stroke-width="0.5" opacity="0.8"/>
<line x1="42.15" y1="44.62" x2="43.75" y2="44.62" stroke="#9f0d0d" stroke-width="0.5" opacity="0.8"/>
<line x1="49.58" y1="37.3" x2="49.58" y2="49.1" stroke="#9f0d0d" stroke-width="0.6" opacity="0.8"/>
<line x1="48.78" y1="37.3" x2="50.38" y2="37.3" stroke="#9f0d0d" stroke-width="0.5" opacity="0.8"/>
<line x1="48.78" y1="49.1" x2="50.38" y2="49.1" stroke="#9f0d0d" stroke-width="0.5" opacity="0.8"/>
<line x1="54.24" y1="37.65" x2="54.24" y2="48.68" stroke="#9f0d0d" stroke-width="0.6" opacity="0.8"/>
<line x1="53.44" y1="37.65" x2="55.04" y2="37.65" stroke="#9f0d0d" stroke-width="0.5" opacity="0.8"/>
<line x1="53.44" y1="48.68" x2="55.04" y2="48.68" stroke="#9f0d0d" stroke-width="0.5" opacity="0.8"/>
<line x1="60.87" y1="49.16" x2="60.87" y2="54.93" stroke="#9f0d0d" stroke-width="0.6" opacity="0.8"/>
<line x1="60.07" y1="49.16" x2="61.67" y2="49.16" stroke="#9f0d0d" stroke-width="0.5" opacity="0.8"/>
<line x1="60.07" y1="54.93" x2="61.67" y2="54.93" stroke="#9f0d0d" stroke-width="0.5" opacity="0.8"/>
<line x1="65.53" y1="55.58" x2="65.53" y2="63.6" stroke="#9f0d0d" stroke-width="0.6" opacity="0.8"/>
<line x1="64.73" y1="55.58" x2="66.33" y2="55.58" stroke="#9f0d0d" stroke-width="0.5" opacity="0.8"/>
<line x1="64.73" y1="63.6" x2="66.33" y2="63.6" stroke="#9f0d0d" stroke-width="0.5" opacity="0.8"/>
<line x1="72.16" y1="63.44" x2="72.16" y2="74.53" stroke="#9f0d0d" stroke-width="0.6" opacity="0.8"/>
<line x1="71.36" y1="63.44" x2="72.96" y2="63.44" stroke="#9f0d0d" stroke-width="0.5" opacity="0.8"/>
<line x1="71.36" y1="74.53" x2="72.96" y2="74.53" stroke="#9f0d0d" stroke-width="0.5" opacity="0.8"/>
<line x1="76.82" y1="72.9" x2="76.82" y2="79.32" stroke="#9f0d0d" stroke-width="0.6" opacity="0.8"/>
<line x1="76.02" y1="72.9" x2="77.62" y2="72.9" stroke="#9f0d0d" stroke-width="0.5" opacity="0.8"/>
<line x1="76.02" y1="79.32" x2="77.62" y2="79.32" stroke="#9f0d0d" stroke-width="0.5" opacity="0.8"/>
<line x1="83.45" y1="79.17" x2="83.45" y2="89.81" stroke="#9f0d0d" stroke-width="0.6" opacity="0.8"/>
<line x1="82.65" y1="79.17" x2="84.25" y2="79.17" stroke="#9f0d0d" stroke-width="0.5" opacity="0.8"/>
<line x1="82.65" y1="89.81" x2="84.25" y2="89.81" stroke="#9f0d0d" stroke-width="0.5" opacity="0.8"/>
<line x1="88.11" y1="82.53" x2="88.11" y2="95.61" stroke="#9f0d0d" stroke-width="0.6" opacity="0.8"/>
<line x1="87.31" y1="82.53" x2="88.91" y2="82.53" stroke="#9f0d0d" stroke-width="0.5" opacity="0.8"/>
<line x1="87.31" y1="95.61" x2="88.91" y2="95.61" stroke="#9f0d0d" stroke-width="0.5" opacity="0.8"/>
<line x1="94.74" y1="85.74" x2="94.74" y2="91.6" stroke="#9f0d0d" stroke-width="0.6" opacity="0.8"/>
<line x1="93.94" y1="85.74" x2="95.54" y2="85.74" stroke="#9f0d0d" stroke-width="0.5" opacity="0.8"/>
<line x1="93.94" y1="91.6" x2="95.54" y2="91.6" stroke="#9f0d0d" stroke-width="0.5" opacity="0.8"/>
<line x1="99.4" y1="85.03" x2="99.4" y2="91.06" stroke="#9f0d0d" stroke-width="0.6" opacity="0.8"/>
<line x1="98.6" y1="85.03" x2="100.2" y2="85.03" stroke="#9f0d0d" stroke-width="0.5" opacity="0.8"/>
<line x1="98.6" y1="91.06" x2="100.2" y2="91.06" stroke="#9f0d0d" stroke-width="0.5" opacity="0.8"/>
<line x1="106.03" y1="85.82" x2="106.03" y2="97.31" stroke="#9f0d0d" stroke-width="0.6" opacity="0.8"/>
<line x1="105.23" y1="85.82" x2="106.83" y2="85.82" stroke="#9f0d0d" stroke-width="0.5" opacity="0.8"/>
<line x1="105.23" y1="97.31" x2="106.83" y2="97.31" stroke="#9f0d0d" stroke-width="0.5" opacity="0.8"/>
<line x1="110.69" y1="85.84" x2="110.69" y2="95.77" stroke="#9f0d0d" stroke-width="0.6" opacity="0.8"/>
<line x1="109.89" y1="85.84" x2="111.49" y2="85.84" stroke="#9f0d0d" stroke-width="0.5" opacity="0.8"/>
<line x1="109.89" y1="95.77" x2="111.49" y2="95.77" stroke="#9f0d0d" stroke-width="0.5" opacity="0.8"/>
<line x1="117.32" y1="86.52" x2="117.32" y2="95.53" stroke="#9f0d0d" stroke-width="0.6" opacity="0.8"/>
<line x1="116.52" y1="86.52" x2="118.12" y2="86.52" stroke="#9f0d0d" stroke-width="0.5" opacity="0.8"/>
<line x1="116.52" y1="95.53" x2="118.12" y2="95.53" stroke="#9f0d0d" stroke-width="0.5" opacity="0.8"/>
<line x1="121.97" y1="89.75" x2="121.97" y2="96.11" stroke="#9f0d0d" stroke-width="0.6" opacity="0.8"/>
<line x1="121.17" y1="89.75" x2="122.77" y2="89.75" stroke="#9f0d0d" stroke-width="0.5" opacity="0.8"/>
<line x1="121.17" y1="96.11" x2="122.77" y2="96.11" stroke="#9f0d0d" stroke-width="0.5" opacity="0.8"/>
<line x1="128.61" y1="89.14" x2="128.61" y2="100.58" stroke="#9f0d0d" stroke-width="0.6" opacity="0.8"/>
<line x1="127.81" y1="89.14" x2="129.41" y2="89.14" stroke="#9f0d0d" stroke-width="0.5" opacity="0.8"/>
<line x1="127.81" y1="100.58" x2="129.41" y2="100.58" stroke="#9f0d0d" stroke-width="0.5" opacity="0.8"/>
<line x1="38.3" y1="31.06" x2="38.3" y2="40.88" stroke="#a87818" stroke-width="0.6" opacity="0.8"/>
<line x1="37.5" y1="31.06" x2="39.1" y2="31.06" stroke="#a87818" stroke-width="0.5" opacity="0.8"/>
<line x1="37.5" y1="40.88" x2="39.1" y2="40.88" stroke="#a87818" stroke-width="0.5" opacity="0.8"/>
<line x1="42.95" y1="33.24" x2="42.95" y2="41.33" stroke="#a87818" stroke-width="0.6" opacity="0.8"/>
<line x1="42.15" y1="33.24" x2="43.75" y2="33.24" stroke="#a87818" stroke-width="0.5" opacity="0.8"/>
<line x1="42.15" y1="41.33" x2="43.75" y2="41.33" stroke="#a87818" stroke-width="0.5" opacity="0.8"/>
<line x1="49.58" y1="38.08" x2="49.58" y2="46.39" stroke="#a87818" stroke-width="0.6" opacity="0.8"/>
<line x1="48.78" y1="38.08" x2="50.38" y2="38.08" stroke="#a87818" stroke-width="0.5" opacity="0.8"/>
<line x1="48.78" y1="46.39" x2="50.38" y2="46.39" stroke="#a87818" stroke-width="0.5" opacity="0.8"/>
<line x1="54.24" y1="39.74" x2="54.24" y2="44.84" stroke="#a87818" stroke-width="0.6" opacity="0.8"/>
<line x1="53.44" y1="39.74" x2="55.04" y2="39.74" stroke="#a87818" stroke-width="0.5" opacity="0.8"/>
<line x1="53.44" y1="44.84" x2="55.04" y2="44.84" stroke="#a87818" stroke-width="0.5" opacity="0.8"/>
<line x1="60.87" y1="46.98" x2="60.87" y2="54.01" stroke="#a87818" stroke-width="0.6" opacity="0.8"/>
<line x1="60.07" y1="46.98" x2="61.67" y2="46.98" stroke="#a87818" stroke-width="0.5" opacity="0.8"/>
<line x1="60.07" y1="54.01" x2="61.67" y2="54.01" stroke="#a87818" stroke-width="0.5" opacity="0.8"/>
<line x1="65.53" y1="52.33" x2="65.53" y2="60.36" stroke="#a87818" stroke-width="0.6" opacity="0.8"/>
<line x1="64.73" y1="52.33" x2="66.33" y2="52.33" stroke="#a87818" stroke-width="0.5" opacity="0.8"/>
<line x1="64.73" y1="60.36" x2="66.33" y2="60.36" stroke="#a87818" stroke-width="0.5" opacity="0.8"/>
<line x1="72.16" y1="64.25" x2="72.16" y2="72.75" stroke="#a87818" stroke-width="0.6" opacity="0.8"/>
<line x1="71.36" y1="64.25" x2="72.96" y2="64.25" stroke="#a87818" stroke-width="0.5" opacity="0.8"/>
<line x1="71.36" y1="72.75" x2="72.96" y2="72.75" stroke="#a87818" stroke-width="0.5" opacity="0.8"/>
<line x1="76.82" y1="67.65" x2="76.82" y2="79.61" stroke="#a87818" stroke-width="0.6" opacity="0.8"/>
<line x1="76.02" y1="67.65" x2="77.62" y2="67.65" stroke="#a87818" stroke-width="0.5" opacity="0.8"/>
<line x1="76.02" y1="79.61" x2="77.62" y2="79.61" stroke="#a87818" stroke-width="0.5" opacity="0.8"/>
<line x1="83.45" y1="76.47" x2="83.45" y2="89.14" stroke="#a87818" stroke-width="0.6" opacity="0.8"/>
<line x1="82.65" y1="76.47" x2="84.25" y2="76.47" stroke="#a87818" stroke-width="0.5" opacity="0.8"/>
<line x1="82.65" y1="89.14" x2="84.25" y2="89.14" stroke="#a87818" stroke-width="0.5" opacity="0.8"/>
<line x1="88.11" y1="82.88" x2="88.11" y2="90.13" stroke="#a87818" stroke-width="0.6" opacity="0.8"/>
<line x1="87.31" y1="82.88" x2="88.91" y2="82.88" stroke="#a87818" stroke-width="0.5" opacity="0.8"/>
<line x1="87.31" y1="90.13" x2="88.91" y2="90.13" stroke="#a87818" stroke-width="0.5" opacity="0.8"/>
<line x1="94.74" y1="85.98" x2="94.74" y2="91.74" stroke="#a87818" stroke-width="0.6" opacity="0.8"/>
<line x1="93.94" y1="85.98" x2="95.54" y2="85.98" stroke="#a87818" stroke-width="0.5" opacity="0.8"/>
<line x1="93.94" y1="91.74" x2="95.54" y2="91.74" stroke="#a87818" stroke-width="0.5" opacity="0.8"/>
<line x1="99.4" y1="80.64" x2="99.4" y2="92.18" stroke="#a87818" stroke-width="0.6" opacity="0.8"/>
<line x1="98.6" y1="80.64" x2="100.2" y2="80.64" stroke="#a87818" stroke-width="0.5" opacity="0.8"/>
<line x1="98.6" y1="92.18" x2="100.2" y2="92.18" stroke="#a87818" stroke-width="0.5" opacity="0.8"/>
<line x1="106.03" y1="86.66" x2="106.03" y2="93.14" stroke="#a87818" stroke-width="0.6" opacity="0.8"/>
<line x1="105.23" y1="86.66" x2="106.83" y2="86.66" stroke="#a87818" stroke-width="0.5" opacity="0.8"/>
<line x1="105.23" y1="93.14" x2="106.83" y2="93.14" stroke="#a87818" stroke-width="0.5" opacity="0.8"/>
<line x1="110.69" y1="83.45" x2="110.69" y2="95.15" stroke="#a87818" stroke-width="0.6" opacity="0.8"/>
<line x1="109.89" y1="83.45" x2="111.49" y2="83.45" stroke="#a87818" stroke-width="0.5" opacity="0.8"/>
<line x1="109.89" y1="95.15" x2="111.49" y2="95.15" stroke="#a87818" stroke-width="0.5" opacity="0.8"/>
<line x1="117.32" y1="82.01" x2="117.32" y2="93.76" stroke="#a87818" stroke-width="0.6" opacity="0.8"/>
<line x1="116.52" y1="82.01" x2="118.12" y2="82.01" stroke="#a87818" stroke-width="0.5" opacity="0.8"/>
<line x1="116.52" y1="93.76" x2="118.12" y2="93.76" stroke="#a87818" stroke-width="0.5" opacity="0.8"/>
<line x1="121.97" y1="86.22" x2="121.97" y2="92.3" stroke="#a87818" stroke-width="0.6" opacity="0.8"/>
<line x1="121.17" y1="86.22" x2="122.77" y2="86.22" stroke="#a87818" stroke-width="0.5" opacity="0.8"/>
<line x1="121.17" y1="92.3" x2="122.77" y2="92.3" stroke="#a87818" stroke-width="0.5" opacity="0.8"/>
<line x1="128.61" y1="87.69" x2="128.61" y2="94.22" stroke="#a87818" stroke-width="0.6" opacity="0.8"/>
<line x1="127.81" y1="87.69" x2="129.41" y2="87.69" stroke="#a87818" stroke-width="0.5" opacity="0.8"/>
<line x1="127.81" y1="94.22" x2="129.41" y2="94.22" stroke="#a87818" stroke-width="0.5" opacity="0.8"/>
<line x1="38.3" y1="33.58" x2="38.3" y2="43.63" stroke="#ae4c13" stroke-width="0.6" opacity="0.8"/>
<line x1="37.5" y1="33.58" x2="39.1" y2="33.58" stroke="#ae4c13" stroke-width="0.5" opacity="0.8"/>
<line x1="37.5" y1="43.63" x2="39.1" y2="43.63" stroke="#ae4c13" stroke-width="0.5" opacity="0.8"/>
<line x1="42.95" y1="37.85" x2="42.95" y2="44.91" stroke="#ae4c13" stroke-width="0.6" opacity="0.8"/>
<line x1="42.15" y1="37.85" x2="43.75" y2="37.85" stroke="#ae4c13" stroke-width="0.5" opacity="0.8"/>
<line x1="42.15" y1="44.91" x2="43.75" y2="44.91" stroke="#ae4c13" stroke-width="0.5" opacity="0.8"/>
<line x1="49.58" y1="39.24" x2="49.58" y2="44.23" stroke="#ae4c13" stroke-width="0.6" opacity="0.8"/>
<line x1="48.78" y1="39.24" x2="50.38" y2="39.24" stroke="#ae4c13" stroke-width="0.5" opacity="0.8"/>
<line x1="48.78" y1="44.23" x2="50.38" y2="44.23" stroke="#ae4c13" stroke-width="0.5" opacity="0.8"/>
<line x1="54.24" y1="38.65" x2="54.24" y2="51.74" stroke="#ae4c13" stroke-width="0.6" opacity="0.8"/>
<line x1="53.44" y1="38.65" x2="55.04" y2="38.65" stroke="#ae4c13" stroke-width="0.5" opacity="0.8"/>
<line x1="53.44" y1="51.74" x2="55.04" y2="51.74" stroke="#ae4c13" stroke-width="0.5" opacity="0.8"/>
<line x1="60.87" y1="47.65" x2="60.87" y2="55.96" stroke="#ae4c13" stroke-width="0.6" opacity="0.8"/>
<line x1="60.07" y1="47.65" x2="61.67" y2="47.65" stroke="#ae4c13" stroke-width="0.5" opacity="0.8"/>
<line x1="60.07" y1="55.96" x2="61.67" y2="55.96" stroke="#ae4c13" stroke-width="0.5" opacity="0.8"/>
<line x1="65.53" y1="56.16" x2="65.53" y2="66.35" stroke="#ae4c13" stroke-width="0.6" opacity="0.8"/>
<line x1="64.73" y1="56.16" x2="66.33" y2="56.16" stroke="#ae4c13" stroke-width="0.5" opacity="0.8"/>
<line x1="64.73" y1="66.35" x2="66.33" y2="66.35" stroke="#ae4c13" stroke-width="0.5" opacity="0.8"/>
<line x1="72.16" y1="64.73" x2="72.16" y2="78.63" stroke="#ae4c13" stroke-width="0.6" opacity="0.8"/>
<line x1="71.36" y1="64.73" x2="72.96" y2="64.73" stroke="#ae4c13" stroke-width="0.5" opacity="0.8"/>
<line x1="71.36" y1="78.63" x2="72.96" y2="78.63" stroke="#ae4c13" stroke-width="0.5" opacity="0.8"/>
<line x1="76.82" y1="73.89" x2="76.82" y2="81.41" stroke="#ae4c13" stroke-width="0.6" opacity="0.8"/>
<line x1="76.02" y1="73.89" x2="77.62" y2="73.89" stroke="#ae4c13" stroke-width="0.5" opacity="0.8"/>
<line x1="76.02" y1="81.41" x2="77.62" y2="81.41" stroke="#ae4c13" stroke-width="0.5" opacity="0.8"/>
<line x1="83.45" y1="80.49" x2="83.45" y2="89.75" stroke="#ae4c13" stroke-width="0.6" opacity="0.8"/>
<line x1="82.65" y1="80.49" x2="84.25" y2="80.49" stroke="#ae4c13" stroke-width="0.5" opacity="0.8"/>
<line x1="82.65" y1="89.75" x2="84.25" y2="89.75" stroke="#ae4c13" stroke-width="0.5" opacity="0.8"/>
<line x1="88.11" y1="82.63" x2="88.11" y2="94.17" stroke="#ae4c13" stroke-width="0.6" opacity="0.8"/>
<line x1="87.31" y1="82.63" x2="88.91" y2="82.63" stroke="#ae4c13" stroke-width="0.5" opacity="0.8"/>
<line x1="87.31" y1="94.17" x2="88.91" y2="94.17" stroke="#ae4c13" stroke-width="0.5" opacity="0.8"/>
<line x1="94.74" y1="86.63" x2="94.74" y2="98.58" stroke="#ae4c13" stroke-width="0.6" opacity="0.8"/>
<line x1="93.94" y1="86.63" x2="95.54" y2="86.63" stroke="#ae4c13" stroke-width="0.5" opacity="0.8"/>
<line x1="93.94" y1="98.58" x2="95.54" y2="98.58" stroke="#ae4c13" stroke-width="0.5" opacity="0.8"/>
<line x1="99.4" y1="85.43" x2="99.4" y2="94.76" stroke="#ae4c13" stroke-width="0.6" opacity="0.8"/>
<line x1="98.6" y1="85.43" x2="100.2" y2="85.43" stroke="#ae4c13" stroke-width="0.5" opacity="0.8"/>
<line x1="98.6" y1="94.76" x2="100.2" y2="94.76" stroke="#ae4c13" stroke-width="0.5" opacity="0.8"/>
<line x1="106.03" y1="86.93" x2="106.03" y2="95.96" stroke="#ae4c13" stroke-width="0.6" opacity="0.8"/>
<line x1="105.23" y1="86.93" x2="106.83" y2="86.93" stroke="#ae4c13" stroke-width="0.5" opacity="0.8"/>
<line x1="105.23" y1="95.96" x2="106.83" y2="95.96" stroke="#ae4c13" stroke-width="0.5" opacity="0.8"/>
<line x1="110.69" y1="88.64" x2="110.69" y2="98.33" stroke="#ae4c13" stroke-width="0.6" opacity="0.8"/>
<line x1="109.89" y1="88.64" x2="111.49" y2="88.64" stroke="#ae4c13" stroke-width="0.5" opacity="0.8"/>
<line x1="109.89" y1="98.33" x2="111.49" y2="98.33" stroke="#ae4c13" stroke-width="0.5" opacity="0.8"/>
<line x1="117.32" y1="89.98" x2="117.32" y2="99.39" stroke="#ae4c13" stroke-width="0.6" opacity="0.8"/>
<line x1="116.52" y1="89.98" x2="118.12" y2="89.98" stroke="#ae4c13" stroke-width="0.5" opacity="0.8"/>
<line x1="116.52" y1="99.39" x2="118.12" y2="99.39" stroke="#ae4c13" stroke-width="0.5" opacity="0.8"/>
<line x1="121.97" y1="87.7" x2="121.97" y2="96.59" stroke="#ae4c13" stroke-width="0.6" opacity="0.8"/>
<line x1="121.17" y1="87.7" x2="122.77" y2="87.7" stroke="#ae4c13" stroke-width="0.5" opacity="0.8"/>
<line x1="121.17" y1="96.59" x2="122.77" y2="96.59" stroke="#ae4c13" stroke-width="0.5" opacity="0.8"/>
<line x1="128.61" y1="87.23" x2="128.61" y2="100.95" stroke="#ae4c13" stroke-width="0.6" opacity="0.8"/>
<line x1="127.81" y1="87.23" x2="129.41" y2="87.23" stroke="#ae4c13" stroke-width="0.5" opacity="0.8"/>
<line x1="127.81" y1="100.95" x2="129.41" y2="100.95" stroke="#ae4c13" stroke-width="0.5" opacity="0.8"/>
<path d="M37.26,35.6 C38.03,35.65 40.33,35.79 41.86,35.91 C43.39,36.04 44.92,36.16 46.45,36.33 C47.98,36.51 49.51,36.74 51.04,36.95 C52.58,37.15 54.11,37.3 55.64,37.58 C57.17,37.87 58.7,38.2 60.23,38.67 C61.76,39.13 63.29,39.79 64.83,40.36 C66.36,40.92 67.89,41.46 69.42,42.05 C70.95,42.63 72.48,43.15 74.01,43.89 C75.54,44.62 77.08,45.59 78.61,46.44 C80.14,47.29 81.67,48.37 83.2,48.99 C84.73,49.61 86.26,49.87 87.79,50.17 C89.33,50.47 90.86,50.61 92.39,50.81 C93.92,51 95.45,51.21 96.98,51.34 C98.51,51.47 100.04,51.5 101.58,51.58 C103.11,51.66 104.64,51.74 106.17,51.83 C107.7,51.91 109.23,51.97 110.76,52.07 C112.29,52.16 113.83,52.28 115.36,52.39 C116.89,52.49 118.42,52.58 119.95,52.71 C121.48,52.83 123.01,53 124.54,53.15 C126.07,53.3 128.37,53.55 129.14,53.63" fill="none" stroke="#8d7048" stroke-width="1.05"/>
<path d="M37.26,35.6 C38.03,35.7 40.33,35.98 41.86,36.23 C43.39,36.47 44.92,36.68 46.45,37.07 C47.98,37.46 49.51,38.06 51.04,38.57 C52.58,39.09 54.11,39.61 55.64,40.17 C57.17,40.72 58.7,41.29 60.23,41.9 C61.76,42.52 63.29,43.19 64.83,43.84 C66.36,44.48 67.89,45.13 69.42,45.77 C70.95,46.4 72.48,47.06 74.01,47.64 C75.54,48.22 77.08,48.7 78.61,49.23 C80.14,49.77 81.67,50.45 83.2,50.83 C84.73,51.21 86.26,51.34 87.79,51.51 C89.33,51.68 90.86,51.75 92.39,51.83 C93.92,51.91 95.45,52.01 96.98,52 C98.51,51.99 100.04,51.84 101.58,51.76 C103.11,51.68 104.64,51.6 106.17,51.52 C107.7,51.44 109.23,51.62 110.76,51.26 C112.29,50.9 113.83,49.98 115.36,49.34 C116.89,48.71 118.42,48.19 119.95,47.43 C121.48,46.67 123.01,45.69 124.54,44.76 C126.07,43.84 128.37,42.35 129.14,41.87" fill="none" stroke="#000000" stroke-width="1.05"/>
<path d="M37.26,34.82 C38.03,34.82 40.33,34.82 41.86,34.82 C43.39,34.82 44.92,34.77 46.45,34.82 C47.98,34.86 49.51,35 51.04,35.1 C52.58,35.2 54.11,35.32 55.64,35.42 C57.17,35.52 58.7,35.61 60.23,35.7 C61.76,35.79 63.29,35.86 64.83,35.94 C66.36,36.02 67.89,36.08 69.42,36.18 C70.95,36.29 72.48,36.33 74.01,36.55 C75.54,36.77 77.08,37.19 78.61,37.51 C80.14,37.83 81.67,37.88 83.2,38.47 C84.73,39.05 86.26,40.07 87.79,41.02 C89.33,41.98 90.86,43.16 92.39,44.21 C93.92,45.26 95.45,46.33 96.98,47.33 C98.51,48.33 100.04,49.26 101.58,50.22 C103.11,51.19 104.64,52.15 106.17,53.12 C107.7,54.09 109.23,55 110.76,56.02 C112.29,57.03 113.83,58.15 115.36,59.21 C116.89,60.27 118.42,61.33 119.95,62.4 C121.48,63.47 123.01,64.61 124.54,65.64 C126.07,66.66 128.37,68.05 129.14,68.53" fill="none" stroke="#2b8089" stroke-width="1.05"/>
<path d="M37.26,36.38 C38.03,36.49 40.33,36.77 41.86,37.01 C43.39,37.26 44.92,37.46 46.45,37.85 C47.98,38.24 49.51,38.84 51.04,39.36 C52.58,39.87 54.11,40.4 55.64,40.95 C57.17,41.51 58.7,42.08 60.23,42.69 C61.76,43.3 63.29,43.98 64.83,44.62 C66.36,45.26 67.89,45.92 69.42,46.55 C70.95,47.18 72.48,47.84 74.01,48.42 C75.54,49 77.08,49.49 78.61,50.02 C80.14,50.55 81.67,51.2 83.2,51.61 C84.73,52.03 86.26,52.26 87.79,52.52 C89.33,52.78 90.86,52.95 92.39,53.16 C93.92,53.37 95.45,53.58 96.98,53.76 C98.51,53.94 100.04,54.08 101.58,54.24 C103.11,54.4 104.64,54.56 106.17,54.72 C107.7,54.88 109.23,54.97 110.76,55.21 C112.29,55.45 113.83,55.85 115.36,56.17 C116.89,56.49 118.42,56.79 119.95,57.12 C121.48,57.46 123.01,57.82 124.54,58.16 C126.07,58.49 128.37,58.96 129.14,59.12" fill="none" stroke="#a0104a" stroke-width="1.05"/>
<path d="M37.26,37.17 C38.03,37.27 40.33,37.55 41.86,37.8 C43.39,38.04 44.92,38.1 46.45,38.64 C47.98,39.17 49.51,40.17 51.04,40.98 C52.58,41.8 54.11,42.66 55.64,43.54 C57.17,44.41 58.7,45.3 60.23,46.23 C61.76,47.17 63.29,48.16 64.83,49.13 C66.36,50.09 67.89,51.09 69.42,52.03 C70.95,52.96 72.48,53.98 74.01,54.75 C75.54,55.52 77.08,56.03 78.61,56.66 C80.14,57.3 81.67,58.09 83.2,58.58 C84.73,59.06 86.26,59.3 87.79,59.58 C89.33,59.85 90.86,60.04 92.39,60.22 C93.92,60.39 95.45,60.6 96.98,60.63 C98.51,60.65 100.04,60.46 101.58,60.38 C103.11,60.3 104.64,60.22 106.17,60.14 C107.7,60.06 109.23,59.89 110.76,59.91 C112.29,59.92 113.83,60.12 115.36,60.23 C116.89,60.33 118.42,60.37 119.95,60.55 C121.48,60.72 123.01,61.01 124.54,61.29 C126.07,61.58 128.37,62.1 129.14,62.26" fill="none" stroke="#22b02e" stroke-width="1.05"/>
<path d="M37.26,34.82 C38.03,34.82 40.33,34.82 41.86,34.82 C43.39,34.82 44.92,34.82 46.45,34.82 C47.98,34.82 49.51,34.82 51.04,34.82 C52.58,34.82 54.11,34.8 55.64,34.82 C57.17,34.83 58.7,34.86 60.23,34.92 C61.76,34.98 63.29,35.08 64.83,35.16 C66.36,35.24 67.89,35.33 69.42,35.4 C70.95,35.47 72.48,35.57 74.01,35.6 C75.54,35.63 77.08,35.6 78.61,35.6 C80.14,35.6 81.67,35.6 83.2,35.6 C84.73,35.6 86.26,35.6 87.79,35.6 C89.33,35.6 90.86,35.6 92.39,35.6 C93.92,35.6 95.45,35.6 96.98,35.6 C98.51,35.6 100.04,35.6 101.58,35.6 C103.11,35.6 104.64,35.6 106.17,35.6 C107.7,35.6 109.23,35.55 110.76,35.6 C112.29,35.66 113.83,35.82 115.36,35.92 C116.89,36.03 118.42,35.96 119.95,36.24 C121.48,36.52 123.01,37.05 124.54,37.59 C126.07,38.14 128.37,39.2 129.14,39.52" fill="none" stroke="#3fb3a0" stroke-width="1.05"/>
<path d="M37.26,37.95 C38.03,37.95 40.33,37.95 41.86,37.95 C43.39,37.95 44.92,37.91 46.45,37.95 C47.98,38 49.51,38.13 51.04,38.23 C52.58,38.33 54.11,38.45 55.64,38.55 C57.17,38.65 58.7,38.75 60.23,38.84 C61.76,38.93 63.29,39 64.83,39.08 C66.36,39.16 67.89,39.24 69.42,39.32 C70.95,39.4 72.48,39.48 74.01,39.58 C75.54,39.67 77.08,39.79 78.61,39.89 C80.14,40 81.67,40.07 83.2,40.21 C84.73,40.36 86.26,40.56 87.79,40.76 C89.33,40.96 90.86,41.17 92.39,41.4 C93.92,41.63 95.45,41.84 96.98,42.12 C98.51,42.4 100.04,42.77 101.58,43.09 C103.11,43.41 104.64,43.73 106.17,44.05 C107.7,44.38 109.23,44.55 110.76,45.03 C112.29,45.51 113.83,46.31 115.36,46.94 C116.89,47.58 118.42,48.2 119.95,48.86 C121.48,49.52 123.01,50.26 124.54,50.92 C126.07,51.59 128.37,52.53 129.14,52.85" fill="none" stroke="#1515b0" stroke-width="1.05"/>
<path d="M37.26,37.17 C38.03,37.27 40.33,37.55 41.86,37.8 C43.39,38.04 44.92,38.1 46.45,38.64 C47.98,39.17 49.51,40.17 51.04,40.98 C52.58,41.8 54.11,42.63 55.64,43.54 C57.17,44.44 58.7,45.39 60.23,46.44 C61.76,47.48 63.29,48.69 64.83,49.82 C66.36,50.94 67.89,52.07 69.42,53.19 C70.95,54.32 72.48,55.45 74.01,56.54 C75.54,57.63 77.08,58.67 78.61,59.73 C80.14,60.79 81.67,62.12 83.2,62.92 C84.73,63.72 86.26,64.09 87.79,64.51 C89.33,64.93 90.86,65.18 92.39,65.47 C93.92,65.76 95.45,66.07 96.98,66.24 C98.51,66.41 100.04,66.4 101.58,66.48 C103.11,66.56 104.64,66.64 106.17,66.72 C107.7,66.8 109.23,66.92 110.76,66.96 C112.29,67 113.83,66.96 115.36,66.96 C116.89,66.96 118.42,66.91 119.95,66.96 C121.48,67.01 123.01,67.13 124.54,67.26 C126.07,67.39 128.37,67.66 129.14,67.74" fill="none" stroke="#8222b4" stroke-width="1.05"/>
<path d="M37.26,35.6 C38.03,35.6 40.33,35.6 41.86,35.6 C43.39,35.6 44.92,35.6 46.45,35.6 C47.98,35.6 49.51,35.6 51.04,35.6 C52.58,35.6 54.11,35.6 55.64,35.6 C57.17,35.6 58.7,35.6 60.23,35.6 C61.76,35.6 63.29,35.6 64.83,35.6 C66.36,35.6 67.89,35.61 69.42,35.6 C70.95,35.59 72.48,35.61 74.01,35.54 C75.54,35.48 77.08,35.33 78.61,35.23 C80.14,35.12 81.67,35.01 83.2,34.91 C84.73,34.8 86.26,34.69 87.79,34.59 C89.33,34.48 90.86,34.38 92.39,34.27 C93.92,34.15 95.45,34.05 96.98,33.91 C98.51,33.77 100.04,33.58 101.58,33.42 C103.11,33.26 104.64,33.1 106.17,32.94 C107.7,32.78 109.23,32.49 110.76,32.47 C112.29,32.44 113.83,32.68 115.36,32.79 C116.89,32.89 118.42,32.73 119.95,33.11 C121.48,33.48 123.01,34.25 124.54,35.06 C126.07,35.87 128.37,37.47 129.14,37.95" fill="none" stroke="#cc5cc0" stroke-width="1.05"/>
<path d="M37.26,38.74 C38.03,38.84 40.33,39.12 41.86,39.37 C43.39,39.61 44.92,39.67 46.45,40.2 C47.98,40.73 49.51,41.73 51.04,42.55 C52.58,43.37 54.11,44.16 55.64,45.1 C57.17,46.05 58.7,47.05 60.23,48.21 C61.76,49.37 63.29,50.78 64.83,52.07 C66.36,53.36 67.89,54.65 69.42,55.93 C70.95,57.22 72.48,58.51 74.01,59.79 C75.54,61.07 77.08,62.34 78.61,63.62 C80.14,64.89 81.67,66.4 83.2,67.45 C84.73,68.49 86.26,69.17 87.79,69.9 C89.33,70.63 90.86,71.24 92.39,71.81 C93.92,72.39 95.45,73.02 96.98,73.36 C98.51,73.69 100.04,73.68 101.58,73.84 C103.11,74 104.64,74.16 106.17,74.32 C107.7,74.48 109.23,74.72 110.76,74.8 C112.29,74.88 113.83,74.8 115.36,74.8 C116.89,74.8 118.42,74.75 119.95,74.8 C121.48,74.85 123.01,74.97 124.54,75.1 C126.07,75.23 128.37,75.5 129.14,75.58" fill="none" stroke="#8a92a4" stroke-width="1.05"/>
<path d="M37.26,37.95 C38.03,38.06 40.33,38.34 41.86,38.58 C43.39,38.83 44.92,39.03 46.45,39.42 C47.98,39.81 49.51,40.41 51.04,40.92 C52.58,41.44 54.11,41.96 55.64,42.52 C57.17,43.08 58.7,43.65 60.23,44.26 C61.76,44.87 63.29,45.54 64.83,46.19 C66.36,46.83 67.89,47.49 69.42,48.12 C70.95,48.74 72.48,49.42 74.01,49.93 C75.54,50.45 77.08,50.79 78.61,51.21 C80.14,51.64 81.67,52.18 83.2,52.49 C84.73,52.8 86.26,52.93 87.79,53.08 C89.33,53.23 90.86,53.3 92.39,53.4 C93.92,53.49 95.45,53.59 96.98,53.63 C98.51,53.67 100.04,53.63 101.58,53.63 C103.11,53.63 104.64,53.63 106.17,53.63 C107.7,53.63 109.23,53.58 110.76,53.64 C112.29,53.69 113.83,53.85 115.36,53.95 C116.89,54.06 118.42,54.15 119.95,54.27 C121.48,54.4 123.01,54.56 124.54,54.72 C126.07,54.87 128.37,55.12 129.14,55.2" fill="none" stroke="#726342" stroke-width="1.05"/>
<path d="M37.26,48.93 C38.03,49.35 40.33,50.47 41.86,51.45 C43.39,52.42 44.92,53.19 46.45,54.8 C47.98,56.41 49.51,58.93 51.04,61.1 C52.58,63.27 54.11,65.58 55.64,67.8 C57.17,70.02 58.7,72.23 60.23,74.42 C61.76,76.61 63.29,78.76 64.83,80.94 C66.36,83.11 67.89,85.41 69.42,87.45 C70.95,89.49 72.48,91.89 74.01,93.17 C75.54,94.44 77.08,94.44 78.61,95.08 C80.14,95.72 81.67,96.57 83.2,96.99 C84.73,97.42 86.26,97.51 87.79,97.65 C89.33,97.79 90.86,97.76 92.39,97.81 C93.92,97.86 95.45,97.91 96.98,97.93 C98.51,97.95 100.04,97.93 101.58,97.93 C103.11,97.93 104.64,97.93 106.17,97.93 C107.7,97.93 109.23,97.93 110.76,97.93 C112.29,97.93 113.83,97.93 115.36,97.93 C116.89,97.93 118.42,97.93 119.95,97.93 C121.48,97.93 123.01,97.93 124.54,97.93 C126.07,97.93 128.37,97.93 129.14,97.93" fill="none" stroke="#4a82d4" stroke-width="1.05"/>
<path d="M37.26,38.74 C38.03,38.84 40.33,39.12 41.86,39.37 C43.39,39.61 44.92,39.67 46.45,40.2 C47.98,40.73 49.51,41.73 51.04,42.55 C52.58,43.37 54.11,44.16 55.64,45.1 C57.17,46.05 58.7,47.05 60.23,48.21 C61.76,49.37 63.29,50.78 64.83,52.07 C66.36,53.36 67.89,54.65 69.42,55.93 C70.95,57.22 72.48,58.51 74.01,59.79 C75.54,61.07 77.08,62.34 78.61,63.62 C80.14,64.89 81.67,66.51 83.2,67.45 C84.73,68.38 86.26,68.76 87.79,69.21 C89.33,69.67 90.86,69.88 92.39,70.17 C93.92,70.46 95.45,70.77 96.98,70.94 C98.51,71.11 100.04,71.1 101.58,71.18 C103.11,71.26 104.64,71.35 106.17,71.43 C107.7,71.51 109.23,71.62 110.76,71.66 C112.29,71.7 113.83,71.66 115.36,71.66 C116.89,71.66 118.42,71.61 119.95,71.66 C121.48,71.71 123.01,71.84 124.54,71.97 C126.07,72.1 128.37,72.37 129.14,72.45" fill="none" stroke="#e2568e" stroke-width="1.05"/>
<path d="M37.26,37.95 C38.03,38.11 40.33,38.53 41.86,38.9 C43.39,39.26 44.92,39.45 46.45,40.15 C47.98,40.86 49.51,42.09 51.04,43.11 C52.58,44.14 54.11,44.95 55.64,46.3 C57.17,47.65 58.7,49.18 60.23,51.21 C61.76,53.23 63.29,56.03 64.83,58.45 C66.36,60.86 67.89,63.31 69.42,65.69 C70.95,68.07 72.48,70.54 74.01,72.72 C75.54,74.9 77.08,76.76 78.61,78.78 C80.14,80.8 81.67,83.4 83.2,84.85 C84.73,86.29 86.26,86.82 87.79,87.48 C89.33,88.13 90.86,88.36 92.39,88.75 C93.92,89.14 95.45,89.56 96.98,89.82 C98.51,90.08 100.04,90.14 101.58,90.3 C103.11,90.46 104.64,90.63 106.17,90.79 C107.7,90.95 109.23,91.13 110.76,91.27 C112.29,91.4 113.83,91.48 115.36,91.59 C116.89,91.69 118.42,91.78 119.95,91.91 C121.48,92.03 123.01,92.2 124.54,92.35 C126.07,92.5 128.37,92.75 129.14,92.83" fill="none" stroke="#d41212" stroke-width="1.05"/>
<path d="M37.26,37.17 C38.03,37.33 40.33,37.75 41.86,38.11 C43.39,38.48 44.92,38.71 46.45,39.37 C47.98,40.03 49.51,41.12 51.04,42.05 C52.58,42.97 54.11,43.67 55.64,44.92 C57.17,46.17 58.7,47.6 60.23,49.54 C61.76,51.47 63.29,54.2 64.83,56.54 C66.36,58.87 67.89,61.24 69.42,63.53 C70.95,65.83 72.48,68.23 74.01,70.31 C75.54,72.4 77.08,74.14 78.61,76.06 C80.14,77.97 81.67,80.38 83.2,81.8 C84.73,83.22 86.26,83.84 87.79,84.57 C89.33,85.3 90.86,85.68 92.39,86.16 C93.92,86.65 95.45,87.17 96.98,87.47 C98.51,87.77 100.04,87.79 101.58,87.95 C103.11,88.11 104.64,88.27 106.17,88.43 C107.7,88.6 109.23,88.78 110.76,88.92 C112.29,89.05 113.83,89.13 115.36,89.23 C116.89,89.34 118.42,89.43 119.95,89.55 C121.48,89.68 123.01,89.84 124.54,90 C126.07,90.15 128.37,90.4 129.14,90.48" fill="none" stroke="#e0a020" stroke-width="1.05"/>
<path d="M37.26,38.74 C38.03,38.89 40.33,39.31 41.86,39.68 C43.39,40.05 44.92,40.19 46.45,40.94 C47.98,41.69 49.51,43.05 51.04,44.18 C52.58,45.3 54.11,46.24 55.64,47.69 C57.17,49.14 58.7,50.77 60.23,52.88 C61.76,54.99 63.29,57.86 64.83,60.36 C66.36,62.85 67.89,65.4 69.42,67.84 C70.95,70.28 72.48,72.86 74.01,75.02 C75.54,77.17 77.08,78.85 78.61,80.76 C80.14,82.68 81.67,85.16 83.2,86.5 C84.73,87.85 86.26,88.27 87.79,88.81 C89.33,89.36 90.86,89.47 92.39,89.77 C93.92,90.07 95.45,90.39 96.98,90.61 C98.51,90.82 100.04,90.93 101.58,91.09 C103.11,91.25 104.64,91.41 106.17,91.57 C107.7,91.73 109.23,91.92 110.76,92.05 C112.29,92.18 113.83,92.26 115.36,92.37 C116.89,92.48 118.42,92.51 119.95,92.69 C121.48,92.87 123.01,93.15 124.54,93.44 C126.07,93.72 128.37,94.24 129.14,94.4" fill="none" stroke="#e8661a" stroke-width="1.05"/>
<polygon points="38.3,33.72 39.6,35.02 38.3,36.32 37,35.02" fill="#8d7048" stroke="#624e32" stroke-width="0.4"/>
<polygon points="42.95,33.58 44.25,34.88 42.95,36.18 41.65,34.88" fill="#8d7048" stroke="#624e32" stroke-width="0.4"/>
<polygon points="49.58,34.05 50.88,35.35 49.58,36.65 48.28,35.35" fill="#8d7048" stroke="#624e32" stroke-width="0.4"/>
<polygon points="54.24,34.01 55.54,35.31 54.24,36.61 52.94,35.31" fill="#8d7048" stroke="#624e32" stroke-width="0.4"/>
<polygon points="60.87,36.47 62.17,37.77 60.87,39.07 59.57,37.77" fill="#8d7048" stroke="#624e32" stroke-width="0.4"/>
<polygon points="65.53,37.33 66.83,38.63 65.53,39.93 64.23,38.63" fill="#8d7048" stroke="#624e32" stroke-width="0.4"/>
<polygon points="72.16,43.97 73.46,45.27 72.16,46.57 70.86,45.27" fill="#8d7048" stroke="#624e32" stroke-width="0.4"/>
<polygon points="76.82,44.31 78.12,45.61 76.82,46.91 75.52,45.61" fill="#8d7048" stroke="#624e32" stroke-width="0.4"/>
<polygon points="83.45,45.74 84.75,47.04 83.45,48.34 82.15,47.04" fill="#8d7048" stroke="#624e32" stroke-width="0.4"/>
<polygon points="88.11,48.21 89.41,49.51 88.11,50.81 86.81,49.51" fill="#8d7048" stroke="#624e32" stroke-width="0.4"/>
<polygon points="94.74,47.95 96.04,49.25 94.74,50.55 93.44,49.25" fill="#8d7048" stroke="#624e32" stroke-width="0.4"/>
<polygon points="99.4,51.99 100.7,53.29 99.4,54.59 98.1,53.29" fill="#8d7048" stroke="#624e32" stroke-width="0.4"/>
<polygon points="106.03,50.66 107.33,51.96 106.03,53.26 104.73,51.96" fill="#8d7048" stroke="#624e32" stroke-width="0.4"/>
<polygon points="110.69,51.95 111.99,53.25 110.69,54.55 109.39,53.25" fill="#8d7048" stroke="#624e32" stroke-width="0.4"/>
<polygon points="117.32,51.02 118.62,52.32 117.32,53.62 116.02,52.32" fill="#8d7048" stroke="#624e32" stroke-width="0.4"/>
<polygon points="121.97,51.2 123.27,52.5 121.97,53.8 120.67,52.5" fill="#8d7048" stroke="#624e32" stroke-width="0.4"/>
<polygon points="128.61,54.62 129.91,55.92 128.61,57.22 127.31,55.92" fill="#8d7048" stroke="#624e32" stroke-width="0.4"/>
<polygon points="38.3,35.63 39.6,36.93 38.3,38.23 37,36.93" fill="#000000" stroke="#000000" stroke-width="0.4"/>
<polygon points="42.95,36.17 44.25,37.47 42.95,38.77 41.65,37.47" fill="#000000" stroke="#000000" stroke-width="0.4"/>
<polygon points="49.58,34.81 50.88,36.11 49.58,37.41 48.28,36.11" fill="#000000" stroke="#000000" stroke-width="0.4"/>
<polygon points="54.24,37.13 55.54,38.43 54.24,39.73 52.94,38.43" fill="#000000" stroke="#000000" stroke-width="0.4"/>
<polygon points="60.87,42.48 62.17,43.78 60.87,45.08 59.57,43.78" fill="#000000" stroke="#000000" stroke-width="0.4"/>
<polygon points="65.53,41.43 66.83,42.73 65.53,44.03 64.23,42.73" fill="#000000" stroke="#000000" stroke-width="0.4"/>
<polygon points="72.16,47.32 73.46,48.62 72.16,49.92 70.86,48.62" fill="#000000" stroke="#000000" stroke-width="0.4"/>
<polygon points="76.82,46.76 78.12,48.06 76.82,49.36 75.52,48.06" fill="#000000" stroke="#000000" stroke-width="0.4"/>
<polygon points="83.45,51.37 84.75,52.67 83.45,53.97 82.15,52.67" fill="#000000" stroke="#000000" stroke-width="0.4"/>
<polygon points="88.11,52.57 89.41,53.87 88.11,55.17 86.81,53.87" fill="#000000" stroke="#000000" stroke-width="0.4"/>
<polygon points="94.74,48.94 96.04,50.24 94.74,51.54 93.44,50.24" fill="#000000" stroke="#000000" stroke-width="0.4"/>
<polygon points="99.4,51.94 100.7,53.24 99.4,54.54 98.1,53.24" fill="#000000" stroke="#000000" stroke-width="0.4"/>
<polygon points="106.03,51.56 107.33,52.86 106.03,54.16 104.73,52.86" fill="#000000" stroke="#000000" stroke-width="0.4"/>
<polygon points="110.69,47.71 111.99,49.01 110.69,50.31 109.39,49.01" fill="#000000" stroke="#000000" stroke-width="0.4"/>
<polygon points="117.32,45.48 118.62,46.78 117.32,48.08 116.02,46.78" fill="#000000" stroke="#000000" stroke-width="0.4"/>
<polygon points="121.97,46.28 123.27,47.58 121.97,48.88 120.67,47.58" fill="#000000" stroke="#000000" stroke-width="0.4"/>
<polygon points="128.61,38.4 129.91,39.7 128.61,41 127.31,39.7" fill="#000000" stroke="#000000" stroke-width="0.4"/>
<polygon points="38.3,33.33 39.6,34.63 38.3,35.93 37,34.63" fill="#2b8089" stroke="#1e595f" stroke-width="0.4"/>
<polygon points="42.95,32.68 44.25,33.98 42.95,35.28 41.65,33.98" fill="#2b8089" stroke="#1e595f" stroke-width="0.4"/>
<polygon points="49.58,35.08 50.88,36.38 49.58,37.68 48.28,36.38" fill="#2b8089" stroke="#1e595f" stroke-width="0.4"/>
<polygon points="54.24,31.94 55.54,33.24 54.24,34.54 52.94,33.24" fill="#2b8089" stroke="#1e595f" stroke-width="0.4"/>
<polygon points="60.87,33.54 62.17,34.84 60.87,36.14 59.57,34.84" fill="#2b8089" stroke="#1e595f" stroke-width="0.4"/>
<polygon points="65.53,32.49 66.83,33.79 65.53,35.09 64.23,33.79" fill="#2b8089" stroke="#1e595f" stroke-width="0.4"/>
<polygon points="72.16,33.18 73.46,34.48 72.16,35.78 70.86,34.48" fill="#2b8089" stroke="#1e595f" stroke-width="0.4"/>
<polygon points="76.82,36.78 78.12,38.08 76.82,39.38 75.52,38.08" fill="#2b8089" stroke="#1e595f" stroke-width="0.4"/>
<polygon points="83.45,37.87 84.75,39.17 83.45,40.47 82.15,39.17" fill="#2b8089" stroke="#1e595f" stroke-width="0.4"/>
<polygon points="88.11,41.51 89.41,42.81 88.11,44.11 86.81,42.81" fill="#2b8089" stroke="#1e595f" stroke-width="0.4"/>
<polygon points="94.74,46.21 96.04,47.51 94.74,48.81 93.44,47.51" fill="#2b8089" stroke="#1e595f" stroke-width="0.4"/>
<polygon points="99.4,49.6 100.7,50.9 99.4,52.2 98.1,50.9" fill="#2b8089" stroke="#1e595f" stroke-width="0.4"/>
<polygon points="106.03,52.67 107.33,53.97 106.03,55.27 104.73,53.97" fill="#2b8089" stroke="#1e595f" stroke-width="0.4"/>
<polygon points="110.69,54.18 111.99,55.48 110.69,56.78 109.39,55.48" fill="#2b8089" stroke="#1e595f" stroke-width="0.4"/>
<polygon points="117.32,61.61 118.62,62.91 117.32,64.21 116.02,62.91" fill="#2b8089" stroke="#1e595f" stroke-width="0.4"/>
<polygon points="121.97,61.67 123.27,62.97 121.97,64.27 120.67,62.97" fill="#2b8089" stroke="#1e595f" stroke-width="0.4"/>
<polygon points="128.61,67.99 129.91,69.29 128.61,70.59 127.31,69.29" fill="#2b8089" stroke="#1e595f" stroke-width="0.4"/>
<circle cx="38.3" cy="37.28" r="1.3" fill="#a0104a" stroke="#700b33" stroke-width="0.4"/>
<circle cx="42.95" cy="35.72" r="1.3" fill="#a0104a" stroke="#700b33" stroke-width="0.4"/>
<circle cx="49.58" cy="38.94" r="1.3" fill="#a0104a" stroke="#700b33" stroke-width="0.4"/>
<circle cx="54.24" cy="41.33" r="1.3" fill="#a0104a" stroke="#700b33" stroke-width="0.4"/>
<circle cx="60.87" cy="43.05" r="1.3" fill="#a0104a" stroke="#700b33" stroke-width="0.4"/>
<circle cx="65.53" cy="43.95" r="1.3" fill="#a0104a" stroke="#700b33" stroke-width="0.4"/>
<circle cx="72.16" cy="49.79" r="1.3" fill="#a0104a" stroke="#700b33" stroke-width="0.4"/>
<circle cx="76.82" cy="47.16" r="1.3" fill="#a0104a" stroke="#700b33" stroke-width="0.4"/>
<circle cx="83.45" cy="53.94" r="1.3" fill="#a0104a" stroke="#700b33" stroke-width="0.4"/>
<circle cx="88.11" cy="51.39" r="1.3" fill="#a0104a" stroke="#700b33" stroke-width="0.4"/>
<circle cx="94.74" cy="51.86" r="1.3" fill="#a0104a" stroke="#700b33" stroke-width="0.4"/>
<circle cx="99.4" cy="56.28" r="1.3" fill="#a0104a" stroke="#700b33" stroke-width="0.4"/>
<circle cx="106.03" cy="53.35" r="1.3" fill="#a0104a" stroke="#700b33" stroke-width="0.4"/>
<circle cx="110.69" cy="55.83" r="1.3" fill="#a0104a" stroke="#700b33" stroke-width="0.4"/>
<circle cx="117.32" cy="56.21" r="1.3" fill="#a0104a" stroke="#700b33" stroke-width="0.4"/>
<circle cx="121.97" cy="59.86" r="1.3" fill="#a0104a" stroke="#700b33" stroke-width="0.4"/>
<circle cx="128.61" cy="61.25" r="1.3" fill="#a0104a" stroke="#700b33" stroke-width="0.4"/>
<circle cx="38.3" cy="38.67" r="1.3" fill="#22b02e" stroke="#177b20" stroke-width="0.4"/>
<circle cx="42.95" cy="35.86" r="1.3" fill="#22b02e" stroke="#177b20" stroke-width="0.4"/>
<circle cx="49.58" cy="41.6" r="1.3" fill="#22b02e" stroke="#177b20" stroke-width="0.4"/>
<circle cx="54.24" cy="41.56" r="1.3" fill="#22b02e" stroke="#177b20" stroke-width="0.4"/>
<circle cx="60.87" cy="44.62" r="1.3" fill="#22b02e" stroke="#177b20" stroke-width="0.4"/>
<circle cx="65.53" cy="47.49" r="1.3" fill="#22b02e" stroke="#177b20" stroke-width="0.4"/>
<circle cx="72.16" cy="54.49" r="1.3" fill="#22b02e" stroke="#177b20" stroke-width="0.4"/>
<circle cx="76.82" cy="56.6" r="1.3" fill="#22b02e" stroke="#177b20" stroke-width="0.4"/>
<circle cx="83.45" cy="58.57" r="1.3" fill="#22b02e" stroke="#177b20" stroke-width="0.4"/>
<circle cx="88.11" cy="58.32" r="1.3" fill="#22b02e" stroke="#177b20" stroke-width="0.4"/>
<circle cx="94.74" cy="62.39" r="1.3" fill="#22b02e" stroke="#177b20" stroke-width="0.4"/>
<circle cx="99.4" cy="59.33" r="1.3" fill="#22b02e" stroke="#177b20" stroke-width="0.4"/>
<circle cx="106.03" cy="58.75" r="1.3" fill="#22b02e" stroke="#177b20" stroke-width="0.4"/>
<circle cx="110.69" cy="58.21" r="1.3" fill="#22b02e" stroke="#177b20" stroke-width="0.4"/>
<circle cx="117.32" cy="62.54" r="1.3" fill="#22b02e" stroke="#177b20" stroke-width="0.4"/>
<circle cx="121.97" cy="58.59" r="1.3" fill="#22b02e" stroke="#177b20" stroke-width="0.4"/>
<circle cx="128.61" cy="64.18" r="1.3" fill="#22b02e" stroke="#177b20" stroke-width="0.4"/>
<polygon points="38.3,34.14 39.73,36.66 36.87,36.66" fill="#a8e4d4" stroke="#3fb3a0" stroke-width="0.4"/>
<polygon points="42.95,32.86 44.38,35.39 41.52,35.39" fill="#a8e4d4" stroke="#3fb3a0" stroke-width="0.4"/>
<polygon points="49.58,31.42 51.01,33.94 48.15,33.94" fill="#a8e4d4" stroke="#3fb3a0" stroke-width="0.4"/>
<polygon points="54.24,34.14 55.67,36.66 52.81,36.66" fill="#a8e4d4" stroke="#3fb3a0" stroke-width="0.4"/>
<polygon points="60.87,31.53 62.3,34.05 59.44,34.05" fill="#a8e4d4" stroke="#3fb3a0" stroke-width="0.4"/>
<polygon points="65.53,33.55 66.96,36.08 64.1,36.08" fill="#a8e4d4" stroke="#3fb3a0" stroke-width="0.4"/>
<polygon points="72.16,35 73.59,37.52 70.73,37.52" fill="#a8e4d4" stroke="#3fb3a0" stroke-width="0.4"/>
<polygon points="76.82,35.03 78.25,37.55 75.39,37.55" fill="#a8e4d4" stroke="#3fb3a0" stroke-width="0.4"/>
<polygon points="83.45,35.69 84.88,38.21 82.02,38.21" fill="#a8e4d4" stroke="#3fb3a0" stroke-width="0.4"/>
<polygon points="88.11,36.15 89.54,38.68 86.68,38.68" fill="#a8e4d4" stroke="#3fb3a0" stroke-width="0.4"/>
<polygon points="94.74,35.82 96.17,38.34 93.31,38.34" fill="#a8e4d4" stroke="#3fb3a0" stroke-width="0.4"/>
<polygon points="99.4,33.28 100.83,35.8 97.97,35.8" fill="#a8e4d4" stroke="#3fb3a0" stroke-width="0.4"/>
<polygon points="106.03,31.83 107.46,34.36 104.6,34.36" fill="#a8e4d4" stroke="#3fb3a0" stroke-width="0.4"/>
<polygon points="110.69,35.76 112.12,38.28 109.26,38.28" fill="#a8e4d4" stroke="#3fb3a0" stroke-width="0.4"/>
<polygon points="117.32,36.75 118.75,39.27 115.89,39.27" fill="#a8e4d4" stroke="#3fb3a0" stroke-width="0.4"/>
<polygon points="121.97,32.66 123.4,35.18 120.54,35.18" fill="#a8e4d4" stroke="#3fb3a0" stroke-width="0.4"/>
<polygon points="128.61,37.93 130.04,40.45 127.18,40.45" fill="#a8e4d4" stroke="#3fb3a0" stroke-width="0.4"/>
<polygon points="38.3,36.96 39.73,39.49 36.87,39.49" fill="#1515b0" stroke="#0e0e7b" stroke-width="0.4"/>
<polygon points="42.95,37.76 44.38,40.28 41.52,40.28" fill="#1515b0" stroke="#0e0e7b" stroke-width="0.4"/>
<polygon points="49.58,36.26 51.01,38.78 48.15,38.78" fill="#1515b0" stroke="#0e0e7b" stroke-width="0.4"/>
<polygon points="54.24,35.49 55.67,38.01 52.81,38.01" fill="#1515b0" stroke="#0e0e7b" stroke-width="0.4"/>
<polygon points="60.87,37.65 62.3,40.17 59.44,40.17" fill="#1515b0" stroke="#0e0e7b" stroke-width="0.4"/>
<polygon points="65.53,38.05 66.96,40.58 64.1,40.58" fill="#1515b0" stroke="#0e0e7b" stroke-width="0.4"/>
<polygon points="72.16,40.12 73.59,42.65 70.73,42.65" fill="#1515b0" stroke="#0e0e7b" stroke-width="0.4"/>
<polygon points="76.82,36.38 78.25,38.91 75.39,38.91" fill="#1515b0" stroke="#0e0e7b" stroke-width="0.4"/>
<polygon points="83.45,41 84.88,43.52 82.02,43.52" fill="#1515b0" stroke="#0e0e7b" stroke-width="0.4"/>
<polygon points="88.11,39.41 89.54,41.93 86.68,41.93" fill="#1515b0" stroke="#0e0e7b" stroke-width="0.4"/>
<polygon points="94.74,38.7 96.17,41.23 93.31,41.23" fill="#1515b0" stroke="#0e0e7b" stroke-width="0.4"/>
<polygon points="99.4,42.94 100.83,45.46 97.97,45.46" fill="#1515b0" stroke="#0e0e7b" stroke-width="0.4"/>
<polygon points="106.03,41.5 107.46,44.03 104.6,44.03" fill="#1515b0" stroke="#0e0e7b" stroke-width="0.4"/>
<polygon points="110.69,41.46 112.12,43.98 109.26,43.98" fill="#1515b0" stroke="#0e0e7b" stroke-width="0.4"/>
<polygon points="117.32,45.72 118.75,48.24 115.89,48.24" fill="#1515b0" stroke="#0e0e7b" stroke-width="0.4"/>
<polygon points="121.97,46.92 123.4,49.44 120.54,49.44" fill="#1515b0" stroke="#0e0e7b" stroke-width="0.4"/>
<polygon points="128.61,53.27 130.04,55.79 127.18,55.79" fill="#1515b0" stroke="#0e0e7b" stroke-width="0.4"/>
<polygon points="38.3,36.05 39.73,38.57 36.87,38.57" fill="#8222b4" stroke="#5b177d" stroke-width="0.4"/>
<polygon points="42.95,38.22 44.38,40.74 41.52,40.74" fill="#8222b4" stroke="#5b177d" stroke-width="0.4"/>
<polygon points="49.58,37.12 51.01,39.64 48.15,39.64" fill="#8222b4" stroke="#5b177d" stroke-width="0.4"/>
<polygon points="54.24,42.29 55.67,44.82 52.81,44.82" fill="#8222b4" stroke="#5b177d" stroke-width="0.4"/>
<polygon points="60.87,45.7 62.3,48.22 59.44,48.22" fill="#8222b4" stroke="#5b177d" stroke-width="0.4"/>
<polygon points="65.53,46.56 66.96,49.08 64.1,49.08" fill="#8222b4" stroke="#5b177d" stroke-width="0.4"/>
<polygon points="72.16,52.13 73.59,54.65 70.73,54.65" fill="#8222b4" stroke="#5b177d" stroke-width="0.4"/>
<polygon points="76.82,54.82 78.25,57.34 75.39,57.34" fill="#8222b4" stroke="#5b177d" stroke-width="0.4"/>
<polygon points="83.45,61.88 84.88,64.41 82.02,64.41" fill="#8222b4" stroke="#5b177d" stroke-width="0.4"/>
<polygon points="88.11,63.2 89.54,65.72 86.68,65.72" fill="#8222b4" stroke="#5b177d" stroke-width="0.4"/>
<polygon points="94.74,63.45 96.17,65.97 93.31,65.97" fill="#8222b4" stroke="#5b177d" stroke-width="0.4"/>
<polygon points="99.4,65.03 100.83,67.56 97.97,67.56" fill="#8222b4" stroke="#5b177d" stroke-width="0.4"/>
<polygon points="106.03,66.27 107.46,68.79 104.6,68.79" fill="#8222b4" stroke="#5b177d" stroke-width="0.4"/>
<polygon points="110.69,65.98 112.12,68.5 109.26,68.5" fill="#8222b4" stroke="#5b177d" stroke-width="0.4"/>
<polygon points="117.32,67.19 118.75,69.71 115.89,69.71" fill="#8222b4" stroke="#5b177d" stroke-width="0.4"/>
<polygon points="121.97,66.11 123.4,68.63 120.54,68.63" fill="#8222b4" stroke="#5b177d" stroke-width="0.4"/>
<polygon points="128.61,64.02 130.04,66.54 127.18,66.54" fill="#8222b4" stroke="#5b177d" stroke-width="0.4"/>
<polygon points="38.3,32.01 39.73,34.53 36.87,34.53" fill="#cc5cc0" stroke="#8e4086" stroke-width="0.4"/>
<polygon points="42.95,33.57 44.38,36.09 41.52,36.09" fill="#cc5cc0" stroke="#8e4086" stroke-width="0.4"/>
<polygon points="49.58,34.17 51.01,36.7 48.15,36.7" fill="#cc5cc0" stroke="#8e4086" stroke-width="0.4"/>
<polygon points="54.24,34.93 55.67,37.45 52.81,37.45" fill="#cc5cc0" stroke="#8e4086" stroke-width="0.4"/>
<polygon points="60.87,36.1 62.3,38.62 59.44,38.62" fill="#cc5cc0" stroke="#8e4086" stroke-width="0.4"/>
<polygon points="65.53,35.24 66.96,37.76 64.1,37.76" fill="#cc5cc0" stroke="#8e4086" stroke-width="0.4"/>
<polygon points="72.16,32.84 73.59,35.37 70.73,35.37" fill="#cc5cc0" stroke="#8e4086" stroke-width="0.4"/>
<polygon points="76.82,32.19 78.25,34.71 75.39,34.71" fill="#cc5cc0" stroke="#8e4086" stroke-width="0.4"/>
<polygon points="83.45,34.11 84.88,36.63 82.02,36.63" fill="#cc5cc0" stroke="#8e4086" stroke-width="0.4"/>
<polygon points="88.11,31.79 89.54,34.31 86.68,34.31" fill="#cc5cc0" stroke="#8e4086" stroke-width="0.4"/>
<polygon points="94.74,31.38 96.17,33.9 93.31,33.9" fill="#cc5cc0" stroke="#8e4086" stroke-width="0.4"/>
<polygon points="99.4,31.31 100.83,33.83 97.97,33.83" fill="#cc5cc0" stroke="#8e4086" stroke-width="0.4"/>
<polygon points="106.03,30.75 107.46,33.28 104.6,33.28" fill="#cc5cc0" stroke="#8e4086" stroke-width="0.4"/>
<polygon points="110.69,29.82 112.12,32.34 109.26,32.34" fill="#cc5cc0" stroke="#8e4086" stroke-width="0.4"/>
<polygon points="117.32,32.14 118.75,34.66 115.89,34.66" fill="#cc5cc0" stroke="#8e4086" stroke-width="0.4"/>
<polygon points="121.97,30.85 123.4,33.38 120.54,33.38" fill="#cc5cc0" stroke="#8e4086" stroke-width="0.4"/>
<polygon points="128.61,37.55 130.04,40.07 127.18,40.07" fill="#cc5cc0" stroke="#8e4086" stroke-width="0.4"/>
<polygon points="38.3,37.37 39.73,39.9 36.87,39.9" fill="#8a92a4" stroke="#606672" stroke-width="0.4"/>
<polygon points="42.95,36.87 44.38,39.39 41.52,39.39" fill="#8a92a4" stroke="#606672" stroke-width="0.4"/>
<polygon points="49.58,39.41 51.01,41.93 48.15,41.93" fill="#8a92a4" stroke="#606672" stroke-width="0.4"/>
<polygon points="54.24,43.87 55.67,46.39 52.81,46.39" fill="#8a92a4" stroke="#606672" stroke-width="0.4"/>
<polygon points="60.87,45.22 62.3,47.74 59.44,47.74" fill="#8a92a4" stroke="#606672" stroke-width="0.4"/>
<polygon points="65.53,50.53 66.96,53.05 64.1,53.05" fill="#8a92a4" stroke="#606672" stroke-width="0.4"/>
<polygon points="72.16,56.43 73.59,58.95 70.73,58.95" fill="#8a92a4" stroke="#606672" stroke-width="0.4"/>
<polygon points="76.82,62.99 78.25,65.52 75.39,65.52" fill="#8a92a4" stroke="#606672" stroke-width="0.4"/>
<polygon points="83.45,66 84.88,68.52 82.02,68.52" fill="#8a92a4" stroke="#606672" stroke-width="0.4"/>
<polygon points="88.11,69.77 89.54,72.3 86.68,72.3" fill="#8a92a4" stroke="#606672" stroke-width="0.4"/>
<polygon points="94.74,70.56 96.17,73.08 93.31,73.08" fill="#8a92a4" stroke="#606672" stroke-width="0.4"/>
<polygon points="99.4,72.36 100.83,74.88 97.97,74.88" fill="#8a92a4" stroke="#606672" stroke-width="0.4"/>
<polygon points="106.03,71.39 107.46,73.91 104.6,73.91" fill="#8a92a4" stroke="#606672" stroke-width="0.4"/>
<polygon points="110.69,72.67 112.12,75.2 109.26,75.2" fill="#8a92a4" stroke="#606672" stroke-width="0.4"/>
<polygon points="117.32,71.97 118.75,74.49 115.89,74.49" fill="#8a92a4" stroke="#606672" stroke-width="0.4"/>
<polygon points="121.97,74.09 123.4,76.61 120.54,76.61" fill="#8a92a4" stroke="#606672" stroke-width="0.4"/>
<polygon points="128.61,73.48 130.04,76 127.18,76" fill="#8a92a4" stroke="#606672" stroke-width="0.4"/>
<polygon points="38.3,35.4 39.73,37.93 36.87,37.93" fill="#726342" stroke="#4f452e" stroke-width="0.4"/>
<polygon points="42.95,35.81 44.38,38.33 41.52,38.33" fill="#726342" stroke="#4f452e" stroke-width="0.4"/>
<polygon points="49.58,39.69 51.01,42.21 48.15,42.21" fill="#726342" stroke="#4f452e" stroke-width="0.4"/>
<polygon points="54.24,38.99 55.67,41.51 52.81,41.51" fill="#726342" stroke="#4f452e" stroke-width="0.4"/>
<polygon points="60.87,41.36 62.3,43.88 59.44,43.88" fill="#726342" stroke="#4f452e" stroke-width="0.4"/>
<polygon points="65.53,44.17 66.96,46.69 64.1,46.69" fill="#726342" stroke="#4f452e" stroke-width="0.4"/>
<polygon points="72.16,45.6 73.59,48.12 70.73,48.12" fill="#726342" stroke="#4f452e" stroke-width="0.4"/>
<polygon points="76.82,47.14 78.25,49.66 75.39,49.66" fill="#726342" stroke="#4f452e" stroke-width="0.4"/>
<polygon points="83.45,51.04 84.88,53.56 82.02,53.56" fill="#726342" stroke="#4f452e" stroke-width="0.4"/>
<polygon points="88.11,51.53 89.54,54.05 86.68,54.05" fill="#726342" stroke="#4f452e" stroke-width="0.4"/>
<polygon points="94.74,53.7 96.17,56.22 93.31,56.22" fill="#726342" stroke="#4f452e" stroke-width="0.4"/>
<polygon points="99.4,50.62 100.83,53.14 97.97,53.14" fill="#726342" stroke="#4f452e" stroke-width="0.4"/>
<polygon points="106.03,50.14 107.46,52.67 104.6,52.67" fill="#726342" stroke="#4f452e" stroke-width="0.4"/>
<polygon points="110.69,52.31 112.12,54.83 109.26,54.83" fill="#726342" stroke="#4f452e" stroke-width="0.4"/>
<polygon points="117.32,51.76 118.75,54.28 115.89,54.28" fill="#726342" stroke="#4f452e" stroke-width="0.4"/>
<polygon points="121.97,51.95 123.4,54.47 120.54,54.47" fill="#726342" stroke="#4f452e" stroke-width="0.4"/>
<polygon points="128.61,52.69 130.04,55.21 127.18,55.21" fill="#726342" stroke="#4f452e" stroke-width="0.4"/>
<polygon points="38.3,43.54 39.73,46.06 36.87,46.06" fill="#4a82d4" stroke="#335b94" stroke-width="0.4"/>
<polygon points="42.95,48.48 44.38,51 41.52,51" fill="#4a82d4" stroke="#335b94" stroke-width="0.4"/>
<polygon points="49.58,55.79 51.01,58.32 48.15,58.32" fill="#4a82d4" stroke="#335b94" stroke-width="0.4"/>
<polygon points="54.24,62.4 55.67,64.92 52.81,64.92" fill="#4a82d4" stroke="#335b94" stroke-width="0.4"/>
<polygon points="60.87,80.57 62.3,83.09 59.44,83.09" fill="#4a82d4" stroke="#335b94" stroke-width="0.4"/>
<polygon points="65.53,81.34 66.96,83.86 64.1,83.86" fill="#4a82d4" stroke="#335b94" stroke-width="0.4"/>
<polygon points="72.16,93.88 73.59,96.4 70.73,96.4" fill="#4a82d4" stroke="#335b94" stroke-width="0.4"/>
<polygon points="76.82,91.06 78.25,93.58 75.39,93.58" fill="#4a82d4" stroke="#335b94" stroke-width="0.4"/>
<polygon points="83.45,96.07 84.88,98.59 82.02,98.59" fill="#4a82d4" stroke="#335b94" stroke-width="0.4"/>
<polygon points="88.11,102.52 89.54,105.05 86.68,105.05" fill="#4a82d4" stroke="#335b94" stroke-width="0.4"/>
<polygon points="94.74,99.04 96.17,101.56 93.31,101.56" fill="#4a82d4" stroke="#335b94" stroke-width="0.4"/>
<polygon points="99.4,100.83 100.83,103.35 97.97,103.35" fill="#4a82d4" stroke="#335b94" stroke-width="0.4"/>
<polygon points="106.03,96.99 107.46,99.51 104.6,99.51" fill="#4a82d4" stroke="#335b94" stroke-width="0.4"/>
<polygon points="110.69,94.92 112.12,97.44 109.26,97.44" fill="#4a82d4" stroke="#335b94" stroke-width="0.4"/>
<polygon points="117.32,100.2 118.75,102.72 115.89,102.72" fill="#4a82d4" stroke="#335b94" stroke-width="0.4"/>
<polygon points="121.97,103.54 123.4,106.07 120.54,106.07" fill="#4a82d4" stroke="#335b94" stroke-width="0.4"/>
<polygon points="128.61,99.62 130.04,102.15 127.18,102.15" fill="#4a82d4" stroke="#335b94" stroke-width="0.4"/>
<rect x="37.26" y="38.12" width="2.08" height="2.08" fill="#e2568e" stroke="#9e3c63" stroke-width="0.4"/>
<rect x="41.91" y="40.34" width="2.08" height="2.08" fill="#e2568e" stroke="#9e3c63" stroke-width="0.4"/>
<rect x="48.54" y="39.14" width="2.08" height="2.08" fill="#e2568e" stroke="#9e3c63" stroke-width="0.4"/>
<rect x="53.2" y="43.88" width="2.08" height="2.08" fill="#e2568e" stroke="#9e3c63" stroke-width="0.4"/>
<rect x="59.83" y="49.89" width="2.08" height="2.08" fill="#e2568e" stroke="#9e3c63" stroke-width="0.4"/>
<rect x="64.49" y="51.09" width="2.08" height="2.08" fill="#e2568e" stroke="#9e3c63" stroke-width="0.4"/>
<rect x="71.12" y="59.1" width="2.08" height="2.08" fill="#e2568e" stroke="#9e3c63" stroke-width="0.4"/>
<rect x="75.78" y="60.87" width="2.08" height="2.08" fill="#e2568e" stroke="#9e3c63" stroke-width="0.4"/>
<rect x="82.41" y="67.37" width="2.08" height="2.08" fill="#e2568e" stroke="#9e3c63" stroke-width="0.4"/>
<rect x="87.07" y="67.86" width="2.08" height="2.08" fill="#e2568e" stroke="#9e3c63" stroke-width="0.4"/>
<rect x="93.7" y="67.47" width="2.08" height="2.08" fill="#e2568e" stroke="#9e3c63" stroke-width="0.4"/>
<rect x="98.36" y="68.53" width="2.08" height="2.08" fill="#e2568e" stroke="#9e3c63" stroke-width="0.4"/>
<rect x="104.99" y="70.76" width="2.08" height="2.08" fill="#e2568e" stroke="#9e3c63" stroke-width="0.4"/>
<rect x="109.65" y="69.15" width="2.08" height="2.08" fill="#e2568e" stroke="#9e3c63" stroke-width="0.4"/>
<rect x="116.28" y="69.95" width="2.08" height="2.08" fill="#e2568e" stroke="#9e3c63" stroke-width="0.4"/>
<rect x="120.93" y="71.24" width="2.08" height="2.08" fill="#e2568e" stroke="#9e3c63" stroke-width="0.4"/>
<rect x="127.57" y="73.09" width="2.08" height="2.08" fill="#e2568e" stroke="#9e3c63" stroke-width="0.4"/>
<rect x="37.26" y="36.46" width="2.08" height="2.08" fill="#d41212" stroke="#940c0c" stroke-width="0.4"/>
<rect x="41.91" y="37.86" width="2.08" height="2.08" fill="#d41212" stroke="#940c0c" stroke-width="0.4"/>
<rect x="48.54" y="38.91" width="2.08" height="2.08" fill="#d41212" stroke="#940c0c" stroke-width="0.4"/>
<rect x="53.2" y="42.09" width="2.08" height="2.08" fill="#d41212" stroke="#940c0c" stroke-width="0.4"/>
<rect x="59.83" y="50.67" width="2.08" height="2.08" fill="#d41212" stroke="#940c0c" stroke-width="0.4"/>
<rect x="64.49" y="59.22" width="2.08" height="2.08" fill="#d41212" stroke="#940c0c" stroke-width="0.4"/>
<rect x="71.12" y="67.12" width="2.08" height="2.08" fill="#d41212" stroke="#940c0c" stroke-width="0.4"/>
<rect x="75.78" y="77.73" width="2.08" height="2.08" fill="#d41212" stroke="#940c0c" stroke-width="0.4"/>
<rect x="82.41" y="85.98" width="2.08" height="2.08" fill="#d41212" stroke="#940c0c" stroke-width="0.4"/>
<rect x="87.07" y="86.21" width="2.08" height="2.08" fill="#d41212" stroke="#940c0c" stroke-width="0.4"/>
<rect x="93.7" y="87.82" width="2.08" height="2.08" fill="#d41212" stroke="#940c0c" stroke-width="0.4"/>
<rect x="98.36" y="90.73" width="2.08" height="2.08" fill="#d41212" stroke="#940c0c" stroke-width="0.4"/>
<rect x="104.99" y="89.12" width="2.08" height="2.08" fill="#d41212" stroke="#940c0c" stroke-width="0.4"/>
<rect x="109.65" y="88.38" width="2.08" height="2.08" fill="#d41212" stroke="#940c0c" stroke-width="0.4"/>
<rect x="116.28" y="91.27" width="2.08" height="2.08" fill="#d41212" stroke="#940c0c" stroke-width="0.4"/>
<rect x="120.93" y="91.33" width="2.08" height="2.08" fill="#d41212" stroke="#940c0c" stroke-width="0.4"/>
<rect x="127.57" y="93.08" width="2.08" height="2.08" fill="#d41212" stroke="#940c0c" stroke-width="0.4"/>
<rect x="37.26" y="37.11" width="2.08" height="2.08" fill="#eeea10" stroke="#e0a020" stroke-width="0.4"/>
<rect x="41.91" y="35.15" width="2.08" height="2.08" fill="#eeea10" stroke="#e0a020" stroke-width="0.4"/>
<rect x="48.54" y="40.66" width="2.08" height="2.08" fill="#eeea10" stroke="#e0a020" stroke-width="0.4"/>
<rect x="53.2" y="40.84" width="2.08" height="2.08" fill="#eeea10" stroke="#e0a020" stroke-width="0.4"/>
<rect x="59.83" y="47.53" width="2.08" height="2.08" fill="#eeea10" stroke="#e0a020" stroke-width="0.4"/>
<rect x="64.49" y="56.12" width="2.08" height="2.08" fill="#eeea10" stroke="#e0a020" stroke-width="0.4"/>
<rect x="71.12" y="67.8" width="2.08" height="2.08" fill="#eeea10" stroke="#e0a020" stroke-width="0.4"/>
<rect x="75.78" y="70.52" width="2.08" height="2.08" fill="#eeea10" stroke="#e0a020" stroke-width="0.4"/>
<rect x="82.41" y="81.09" width="2.08" height="2.08" fill="#eeea10" stroke="#e0a020" stroke-width="0.4"/>
<rect x="87.07" y="84.03" width="2.08" height="2.08" fill="#eeea10" stroke="#e0a020" stroke-width="0.4"/>
<rect x="93.7" y="86.79" width="2.08" height="2.08" fill="#eeea10" stroke="#e0a020" stroke-width="0.4"/>
<rect x="98.36" y="84.41" width="2.08" height="2.08" fill="#eeea10" stroke="#e0a020" stroke-width="0.4"/>
<rect x="104.99" y="87.42" width="2.08" height="2.08" fill="#eeea10" stroke="#e0a020" stroke-width="0.4"/>
<rect x="109.65" y="88.87" width="2.08" height="2.08" fill="#eeea10" stroke="#e0a020" stroke-width="0.4"/>
<rect x="116.28" y="88.44" width="2.08" height="2.08" fill="#eeea10" stroke="#e0a020" stroke-width="0.4"/>
<rect x="120.93" y="90.43" width="2.08" height="2.08" fill="#eeea10" stroke="#e0a020" stroke-width="0.4"/>
<rect x="127.57" y="88.87" width="2.08" height="2.08" fill="#eeea10" stroke="#e0a020" stroke-width="0.4"/>
<rect x="37.26" y="37.96" width="2.08" height="2.08" fill="#e8661a" stroke="#a24712" stroke-width="0.4"/>
<rect x="41.91" y="39.91" width="2.08" height="2.08" fill="#e8661a" stroke="#a24712" stroke-width="0.4"/>
<rect x="48.54" y="40.7" width="2.08" height="2.08" fill="#e8661a" stroke="#a24712" stroke-width="0.4"/>
<rect x="53.2" y="44.04" width="2.08" height="2.08" fill="#e8661a" stroke="#a24712" stroke-width="0.4"/>
<rect x="59.83" y="55.17" width="2.08" height="2.08" fill="#e8661a" stroke="#a24712" stroke-width="0.4"/>
<rect x="64.49" y="60.31" width="2.08" height="2.08" fill="#e8661a" stroke="#a24712" stroke-width="0.4"/>
<rect x="71.12" y="72.33" width="2.08" height="2.08" fill="#e8661a" stroke="#a24712" stroke-width="0.4"/>
<rect x="75.78" y="75.44" width="2.08" height="2.08" fill="#e8661a" stroke="#a24712" stroke-width="0.4"/>
<rect x="82.41" y="84.45" width="2.08" height="2.08" fill="#e8661a" stroke="#a24712" stroke-width="0.4"/>
<rect x="87.07" y="89.04" width="2.08" height="2.08" fill="#e8661a" stroke="#a24712" stroke-width="0.4"/>
<rect x="93.7" y="90.31" width="2.08" height="2.08" fill="#e8661a" stroke="#a24712" stroke-width="0.4"/>
<rect x="98.36" y="91.44" width="2.08" height="2.08" fill="#e8661a" stroke="#a24712" stroke-width="0.4"/>
<rect x="104.99" y="88.22" width="2.08" height="2.08" fill="#e8661a" stroke="#a24712" stroke-width="0.4"/>
<rect x="109.65" y="91.98" width="2.08" height="2.08" fill="#e8661a" stroke="#a24712" stroke-width="0.4"/>
<rect x="116.28" y="90.96" width="2.08" height="2.08" fill="#e8661a" stroke="#a24712" stroke-width="0.4"/>
<rect x="120.93" y="91.91" width="2.08" height="2.08" fill="#e8661a" stroke="#a24712" stroke-width="0.4"/>
<rect x="127.57" y="92.68" width="2.08" height="2.08" fill="#e8661a" stroke="#a24712" stroke-width="0.4"/>
</g>
<line x1="36.5" y1="19.8" x2="36.5" y2="114.6" stroke="#000" stroke-width="1.4"/>
<line x1="33.7" y1="114" x2="36.5" y2="114" stroke="#000" stroke-width="1.1"/>
<line x1="33.7" y1="106.16" x2="36.5" y2="106.16" stroke="#000" stroke-width="1.1"/>
<line x1="33.7" y1="98.32" x2="36.5" y2="98.32" stroke="#000" stroke-width="1.1"/>
<line x1="33.7" y1="90.48" x2="36.5" y2="90.48" stroke="#000" stroke-width="1.1"/>
<line x1="33.7" y1="82.64" x2="36.5" y2="82.64" stroke="#000" stroke-width="1.1"/>
<line x1="33.7" y1="74.8" x2="36.5" y2="74.8" stroke="#000" stroke-width="1.1"/>
<line x1="33.7" y1="66.96" x2="36.5" y2="66.96" stroke="#000" stroke-width="1.1"/>
<line x1="33.7" y1="59.12" x2="36.5" y2="59.12" stroke="#000" stroke-width="1.1"/>
<line x1="33.7" y1="51.28" x2="36.5" y2="51.28" stroke="#000" stroke-width="1.1"/>
<line x1="33.7" y1="43.44" x2="36.5" y2="43.44" stroke="#000" stroke-width="1.1"/>
<line x1="33.7" y1="35.6" x2="36.5" y2="35.6" stroke="#000" stroke-width="1.1"/>
<line x1="33.7" y1="27.76" x2="36.5" y2="27.76" stroke="#000" stroke-width="1.1"/>
<line x1="33.7" y1="19.92" x2="36.5" y2="19.92" stroke="#000" stroke-width="1.1"/>
<text x="32.9" y="116.6" font-size="7.4" text-anchor="end">0</text>
<text x="32.9" y="77.4" font-size="7.4" text-anchor="end">50</text>
<text x="32.9" y="38.2" font-size="7.4" text-anchor="end">100</text>
<line x1="35.8" y1="114" x2="129.5" y2="114" stroke="#000" stroke-width="1.4"/>
<line x1="38.68" y1="114" x2="38.68" y2="116" stroke="#000" stroke-width="0.8"/>
<line x1="41.19" y1="114" x2="41.19" y2="116" stroke="#000" stroke-width="0.8"/>
<line x1="43.37" y1="114" x2="43.37" y2="116" stroke="#000" stroke-width="0.8"/>
<line x1="45.28" y1="114" x2="45.28" y2="116" stroke="#000" stroke-width="0.8"/>
<line x1="47" y1="114" x2="47" y2="117" stroke="#000" stroke-width="0.8"/>
<line x1="58.29" y1="114" x2="58.29" y2="116" stroke="#000" stroke-width="0.8"/>
<line x1="64.89" y1="114" x2="64.89" y2="116" stroke="#000" stroke-width="0.8"/>
<line x1="69.58" y1="114" x2="69.58" y2="116" stroke="#000" stroke-width="0.8"/>
<line x1="73.21" y1="114" x2="73.21" y2="116" stroke="#000" stroke-width="0.8"/>
<line x1="76.18" y1="114" x2="76.18" y2="116" stroke="#000" stroke-width="0.8"/>
<line x1="78.69" y1="114" x2="78.69" y2="116" stroke="#000" stroke-width="0.8"/>
<line x1="80.87" y1="114" x2="80.87" y2="116" stroke="#000" stroke-width="0.8"/>
<line x1="82.78" y1="114" x2="82.78" y2="116" stroke="#000" stroke-width="0.8"/>
<line x1="84.5" y1="114" x2="84.5" y2="117" stroke="#000" stroke-width="0.8"/>
<line x1="95.79" y1="114" x2="95.79" y2="116" stroke="#000" stroke-width="0.8"/>
<line x1="102.39" y1="114" x2="102.39" y2="116" stroke="#000" stroke-width="0.8"/>
<line x1="107.08" y1="114" x2="107.08" y2="116" stroke="#000" stroke-width="0.8"/>
<line x1="110.71" y1="114" x2="110.71" y2="116" stroke="#000" stroke-width="0.8"/>
<line x1="113.68" y1="114" x2="113.68" y2="116" stroke="#000" stroke-width="0.8"/>
<line x1="116.19" y1="114" x2="116.19" y2="116" stroke="#000" stroke-width="0.8"/>
<line x1="118.37" y1="114" x2="118.37" y2="116" stroke="#000" stroke-width="0.8"/>
<line x1="120.28" y1="114" x2="120.28" y2="116" stroke="#000" stroke-width="0.8"/>
<line x1="122" y1="114" x2="122" y2="117" stroke="#000" stroke-width="0.8"/>
<text x="47" y="124.8" font-size="7.4" text-anchor="middle">1</text>
<text x="84.5" y="124.8" font-size="7.4" text-anchor="middle">10</text>
<text x="122" y="124.8" font-size="7.4" text-anchor="middle">100</text>
<text x="83" y="136.6" font-size="7.6" text-anchor="middle">(ONC201; µmol/L)</text>
<text x="15.6" y="67.1" font-size="7.7" text-anchor="middle" transform="rotate(-90 15.6 67.1)">Cell proliferation (%)</text>
<polygon points="142,22.9 144.7,25.6 142,28.3 139.3,25.6" fill="#8d7048" stroke="#624e32" stroke-width="0.6"/>
<text x="149.8" y="28.3" font-size="7.7">HMC3</text>
<polygon points="142,30.85 144.7,33.55 142,36.25 139.3,33.55" fill="#000000" stroke="#000000" stroke-width="0.6"/>
<text x="149.8" y="36.25" font-size="7.7">HCMEC/D3</text>
<polygon points="142,38.8 144.7,41.5 142,44.2 139.3,41.5" fill="#2b8089" stroke="#1e595f" stroke-width="0.6"/>
<text x="149.8" y="44.2" font-size="7.7">ReN</text>
<circle cx="142" cy="49.45" r="2.7" fill="#a0104a" stroke="#700b33" stroke-width="0.6"/>
<text x="149.8" y="52.15" font-size="7.7">CNMC-XD-760</text>
<circle cx="142" cy="57.4" r="2.7" fill="#22b02e" stroke="#177b20" stroke-width="0.6"/>
<text x="149.8" y="60.1" font-size="7.7">DIPG-VUMC10</text>
<polygon points="142,62.38 144.97,67.62 139.03,67.62" fill="#a8e4d4" stroke="#3fb3a0" stroke-width="0.6"/>
<text x="149.8" y="68.05" font-size="7.7">SU-DIPG-VI</text>
<polygon points="142,70.33 144.97,75.57 139.03,75.57" fill="#1515b0" stroke="#0e0e7b" stroke-width="0.6"/>
<text x="149.8" y="76" font-size="7.7">SU-DIPG-XIII</text>
<polygon points="142,78.28 144.97,83.52 139.03,83.52" fill="#8222b4" stroke="#5b177d" stroke-width="0.6"/>
<text x="149.8" y="83.95" font-size="7.7">SU-DIPG-XVII</text>
<polygon points="142,86.23 144.97,91.47 139.03,91.47" fill="#cc5cc0" stroke="#8e4086" stroke-width="0.6"/>
<text x="149.8" y="91.9" font-size="7.7">SU-DIPG-XXIV</text>
<polygon points="142,94.18 144.97,99.42 139.03,99.42" fill="#8a92a4" stroke="#606672" stroke-width="0.6"/>
<text x="149.8" y="99.85" font-size="7.7">SU-DIPG-XXV</text>
<polygon points="142,102.13 144.97,107.37 139.03,107.37" fill="#726342" stroke="#4f452e" stroke-width="0.6"/>
<text x="149.8" y="107.8" font-size="7.7">SU-DIPG-XXIX</text>
<polygon points="142,110.08 144.97,115.32 139.03,115.32" fill="#4a82d4" stroke="#335b94" stroke-width="0.6"/>
<text x="149.8" y="115.75" font-size="7.7">HSJD-DIPG-007</text>
<rect x="139.84" y="118.84" width="4.32" height="4.32" fill="#e2568e" stroke="#9e3c63" stroke-width="0.6"/>
<text x="149.8" y="123.7" font-size="7.7">UON-JUMP4</text>
<rect x="139.84" y="126.79" width="4.32" height="4.32" fill="#d41212" stroke="#940c0c" stroke-width="0.6"/>
<text x="149.8" y="131.65" font-size="7.7">SU-DIPG-IV</text>
<rect x="139.84" y="134.74" width="4.32" height="4.32" fill="#eeea10" stroke="#e0a020" stroke-width="0.6"/>
<text x="149.8" y="139.6" font-size="7.7">SU-DIPG-XXXVI</text>
<rect x="139.84" y="142.69" width="4.32" height="4.32" fill="#e8661a" stroke="#a24712" stroke-width="0.6"/>
<text x="149.8" y="147.55" font-size="7.7">SU-DIPG-XXXIII</text>
<text x="225" y="9.8" font-size="12" font-weight="bold" fill="#000">B</text>
<line x1="252.2" y1="74.8" x2="344.5" y2="74.8" stroke="#cfcfcf" stroke-width="0.9"/>
<line x1="252.2" y1="55.2" x2="344.5" y2="55.2" stroke="#cfcfcf" stroke-width="0.9"/>
<rect x="256.2" y="90.17" width="7.4" height="23.83" fill="#d9d9d9" stroke="#111" stroke-width="0.7"/>
<line x1="259.9" y1="87.03" x2="259.9" y2="93.3" stroke="#111" stroke-width="0.6"/>
<line x1="258.4" y1="87.03" x2="261.4" y2="87.03" stroke="#111" stroke-width="0.6"/>
<rect x="258.3" y="81.82" width="3.2" height="3.2" fill="#e8661a" stroke="#a24712" stroke-width="0.5"/>
<rect x="258.3" y="87.63" width="3.2" height="3.2" fill="#e8661a" stroke="#a24712" stroke-width="0.5"/>
<rect x="259.1" y="92.41" width="3.2" height="3.2" fill="#e8661a" stroke="#a24712" stroke-width="0.5"/>
<text x="259.9" y="124.8" font-size="7.4" text-anchor="middle">-</text>
<rect x="267.38" y="60.69" width="7.4" height="53.31" fill="#747474" stroke="#111" stroke-width="0.7"/>
<line x1="271.08" y1="56.77" x2="271.08" y2="64.61" stroke="#111" stroke-width="0.6"/>
<line x1="269.58" y1="56.77" x2="272.58" y2="56.77" stroke="#111" stroke-width="0.6"/>
<rect x="269.18" y="50.62" width="3.2" height="3.2" fill="#e8661a" stroke="#a24712" stroke-width="0.5"/>
<rect x="268.28" y="60.66" width="3.2" height="3.2" fill="#e8661a" stroke="#a24712" stroke-width="0.5"/>
<rect x="270.68" y="63.01" width="3.2" height="3.2" fill="#e8661a" stroke="#a24712" stroke-width="0.5"/>
<text x="271.08" y="124.8" font-size="7.4" text-anchor="middle">+</text>
<rect x="278.56" y="74.17" width="7.4" height="39.83" fill="#d9d9d9" stroke="#111" stroke-width="0.7"/>
<line x1="282.26" y1="70.25" x2="282.26" y2="78.09" stroke="#111" stroke-width="0.6"/>
<line x1="280.76" y1="70.25" x2="283.76" y2="70.25" stroke="#111" stroke-width="0.6"/>
<polygon points="283.06,67.5 285.26,71.38 280.86,71.38" fill="#9bb4e8" stroke="#4a82d4" stroke-width="0.5"/>
<polygon points="281.66,70.4 283.86,74.28 279.46,74.28" fill="#9bb4e8" stroke="#4a82d4" stroke-width="0.5"/>
<polygon points="281.66,80.2 283.86,84.08 279.46,84.08" fill="#9bb4e8" stroke="#4a82d4" stroke-width="0.5"/>
<text x="282.26" y="124.8" font-size="7.4" text-anchor="middle">-</text>
<rect x="289.74" y="43.05" width="7.4" height="70.95" fill="#747474" stroke="#111" stroke-width="0.7"/>
<line x1="293.44" y1="41.87" x2="293.44" y2="44.22" stroke="#111" stroke-width="0.6"/>
<line x1="291.94" y1="41.87" x2="294.94" y2="41.87" stroke="#111" stroke-width="0.6"/>
<polygon points="292.04,42.02 294.24,45.9 289.84,45.9" fill="#9bb4e8" stroke="#4a82d4" stroke-width="0.5"/>
<polygon points="293.64,40.85 295.84,44.73 291.44,44.73" fill="#9bb4e8" stroke="#4a82d4" stroke-width="0.5"/>
<polygon points="294.84,42.42 297.04,46.3 292.64,46.3" fill="#9bb4e8" stroke="#4a82d4" stroke-width="0.5"/>
<text x="293.44" y="124.8" font-size="7.4" text-anchor="middle">+</text>
<rect x="300.92" y="83.42" width="7.4" height="30.58" fill="#d9d9d9" stroke="#111" stroke-width="0.7"/>
<line x1="304.62" y1="82.48" x2="304.62" y2="84.36" stroke="#111" stroke-width="0.6"/>
<line x1="303.12" y1="82.48" x2="306.12" y2="82.48" stroke="#111" stroke-width="0.6"/>
<rect x="301.82" y="80.65" width="3.2" height="3.2" fill="#e2568e" stroke="#9e3c63" stroke-width="0.5"/>
<rect x="303.82" y="80.26" width="3.2" height="3.2" fill="#e2568e" stroke="#9e3c63" stroke-width="0.5"/>
<rect x="302.62" y="81.43" width="3.2" height="3.2" fill="#e2568e" stroke="#9e3c63" stroke-width="0.5"/>
<text x="304.62" y="124.8" font-size="7.4" text-anchor="middle">-</text>
<rect x="312.1" y="87.34" width="7.4" height="26.66" fill="#747474" stroke="#111" stroke-width="0.7"/>
<line x1="315.8" y1="84.21" x2="315.8" y2="90.48" stroke="#111" stroke-width="0.6"/>
<line x1="314.3" y1="84.21" x2="317.3" y2="84.21" stroke="#111" stroke-width="0.6"/>
<rect x="313.6" y="81.82" width="3.2" height="3.2" fill="#e2568e" stroke="#9e3c63" stroke-width="0.5"/>
<rect x="315" y="84.72" width="3.2" height="3.2" fill="#e2568e" stroke="#9e3c63" stroke-width="0.5"/>
<rect x="313.8" y="91.62" width="3.2" height="3.2" fill="#e2568e" stroke="#9e3c63" stroke-width="0.5"/>
<text x="315.8" y="124.8" font-size="7.4" text-anchor="middle">+</text>
<rect x="323.28" y="70.33" width="7.4" height="43.67" fill="#d9d9d9" stroke="#111" stroke-width="0.7"/>
<line x1="326.98" y1="69.7" x2="326.98" y2="70.96" stroke="#111" stroke-width="0.6"/>
<line x1="325.48" y1="69.7" x2="328.48" y2="69.7" stroke="#111" stroke-width="0.6"/>
<polygon points="326.38,67.5 328.58,71.38 324.18,71.38" fill="#1515b0" stroke="#0e0e7b" stroke-width="0.5"/>
<polygon points="328.38,67.9 330.58,71.78 326.18,71.78" fill="#1515b0" stroke="#0e0e7b" stroke-width="0.5"/>
<text x="326.98" y="124.8" font-size="7.4" text-anchor="middle">-</text>
<rect x="334.46" y="55.98" width="7.4" height="58.02" fill="#747474" stroke="#111" stroke-width="0.7"/>
<line x1="338.16" y1="51.28" x2="338.16" y2="60.69" stroke="#111" stroke-width="0.6"/>
<line x1="336.66" y1="51.28" x2="339.66" y2="51.28" stroke="#111" stroke-width="0.6"/>
<polygon points="338.16,47.04 340.36,50.92 335.96,50.92" fill="#1515b0" stroke="#0e0e7b" stroke-width="0.5"/>
<polygon points="338.56,53.78 340.76,57.66 336.36,57.66" fill="#1515b0" stroke="#0e0e7b" stroke-width="0.5"/>
<polygon points="338.56,62.56 340.76,66.44 336.36,66.44" fill="#1515b0" stroke="#0e0e7b" stroke-width="0.5"/>
<text x="338.16" y="124.8" font-size="7.4" text-anchor="middle">+</text>
<line x1="252.2" y1="19.8" x2="252.2" y2="114.6" stroke="#000" stroke-width="1.4"/>
<line x1="249.4" y1="114" x2="252.2" y2="114" stroke="#000" stroke-width="1.1"/>
<line x1="249.4" y1="106.16" x2="252.2" y2="106.16" stroke="#000" stroke-width="1.1"/>
<line x1="249.4" y1="98.32" x2="252.2" y2="98.32" stroke="#000" stroke-width="1.1"/>
<line x1="249.4" y1="90.48" x2="252.2" y2="90.48" stroke="#000" stroke-width="1.1"/>
<line x1="249.4" y1="82.64" x2="252.2" y2="82.64" stroke="#000" stroke-width="1.1"/>
<line x1="249.4" y1="74.8" x2="252.2" y2="74.8" stroke="#000" stroke-width="1.1"/>
<line x1="249.4" y1="66.96" x2="252.2" y2="66.96" stroke="#000" stroke-width="1.1"/>
<line x1="249.4" y1="59.12" x2="252.2" y2="59.12" stroke="#000" stroke-width="1.1"/>
<line x1="249.4" y1="51.28" x2="252.2" y2="51.28" stroke="#000" stroke-width="1.1"/>
<line x1="249.4" y1="43.44" x2="252.2" y2="43.44" stroke="#000" stroke-width="1.1"/>
<line x1="249.4" y1="35.6" x2="252.2" y2="35.6" stroke="#000" stroke-width="1.1"/>
<line x1="249.4" y1="27.76" x2="252.2" y2="27.76" stroke="#000" stroke-width="1.1"/>
<line x1="249.4" y1="19.92" x2="252.2" y2="19.92" stroke="#000" stroke-width="1.1"/>
<text x="248.6" y="116.6" font-size="7.4" text-anchor="end">0</text>
<text x="248.6" y="77.4" font-size="7.4" text-anchor="end">50</text>
<text x="248.6" y="38.2" font-size="7.4" text-anchor="end">100</text>
<line x1="251.5" y1="114" x2="344.5" y2="114" stroke="#000" stroke-width="1.4"/>
<line x1="259.9" y1="114" x2="259.9" y2="116.8" stroke="#000" stroke-width="0.8"/>
<line x1="271.08" y1="114" x2="271.08" y2="116.8" stroke="#000" stroke-width="0.8"/>
<line x1="282.26" y1="114" x2="282.26" y2="116.8" stroke="#000" stroke-width="0.8"/>
<line x1="293.44" y1="114" x2="293.44" y2="116.8" stroke="#000" stroke-width="0.8"/>
<line x1="304.62" y1="114" x2="304.62" y2="116.8" stroke="#000" stroke-width="0.8"/>
<line x1="315.8" y1="114" x2="315.8" y2="116.8" stroke="#000" stroke-width="0.8"/>
<line x1="326.98" y1="114" x2="326.98" y2="116.8" stroke="#000" stroke-width="0.8"/>
<line x1="338.16" y1="114" x2="338.16" y2="116.8" stroke="#000" stroke-width="0.8"/>
<text x="298.2" y="136.8" font-size="8" text-anchor="middle">(ONC201; 5 µmol/L)</text>
<text x="233.2" y="63.8" font-size="7.25" text-anchor="middle" transform="rotate(-90 233.2 63.8)">Annexin V/PI positive (%)</text>
<polyline points="259.7,82.4 259.7,33.3 271,33.3 271,50.2" fill="none" stroke="#111" stroke-width="0.9"/>
<polyline points="282.1,66.8 282.1,33.3 293.4,33.3 293.4,39.5" fill="none" stroke="#111" stroke-width="0.9"/>
<text x="265.4" y="32.6" font-size="9.8" text-anchor="middle" font-weight="bold" fill="#111">**</text>
<text x="287.8" y="32.6" font-size="9.8" text-anchor="middle" font-weight="bold" fill="#111">**</text>
<rect x="221.1" y="145.6" width="4.8" height="4.8" fill="#e8661a" stroke="#a24712" stroke-width="0.6"/>
<text x="232" y="150.8" font-size="7.95">SU-DIPG-XXXIII</text>
<rect x="221.1" y="153.6" width="4.8" height="4.8" fill="#e2568e" stroke="#9e3c63" stroke-width="0.6"/>
<text x="232" y="158.8" font-size="7.95">UON-JUMP4</text>
<polygon points="297.3,144.7 300.6,150.52 294,150.52" fill="#9bb4e8" stroke="#4a82d4" stroke-width="0.6"/>
<text x="305" y="150.8" font-size="7.95">HSJD-DIPG-007</text>
<polygon points="297.3,152.7 300.6,158.52 294,158.52" fill="#1515b0" stroke="#0e0e7b" stroke-width="0.6"/>
<text x="305" y="158.8" font-size="7.95">SU-DIPG-XIII</text>
<text x="371.2" y="9.6" font-size="12" font-weight="bold" fill="#000">C</text>
<text x="433" y="11.5" font-size="7.9" text-anchor="middle">Untreated</text>
<text x="486" y="11" font-size="6.9" text-anchor="middle">1.25 µmol/L</text>
<polyline points="408,13.8 408,7.6 413.5,7.6" fill="none" stroke="#666" stroke-width="0.8"/>
<polyline points="453,7.6 458.5,7.6 458.5,13.8" fill="none" stroke="#666" stroke-width="0.8"/>
<polyline points="460.8,13.8 460.8,7.6 468,7.6" fill="none" stroke="#666" stroke-width="0.8"/>
<polyline points="504,7.6 511,7.6 511,13.8" fill="none" stroke="#666" stroke-width="0.8"/>
<defs><linearGradient id="gC" x1="0" y1="0" x2="0" y2="1"><stop offset="0" stop-color="#ff1ee6"/><stop offset="0.5" stop-color="#f4e6f8"/><stop offset="0.52" stop-color="#e8f6fc"/><stop offset="1" stop-color="#1cb4e8"/></linearGradient></defs>
<polygon points="393.9,15.4 405.6,15.4 405.6,105.2 400,105.2" fill="url(#gC)"/>
<text x="393.4" y="21.2" font-size="7.8" text-anchor="end">High</text>
<text x="399" y="106.6" font-size="7.8" text-anchor="end">Low</text>
<text x="402.8" y="60" font-size="7.4" text-anchor="middle" fill="#1e3c5a" transform="rotate(-90 402.8 60)">Sensitivity</text>
<defs>
<filter id="noise1" x="0" y="0" width="100%" height="100%"><feTurbulence type="fractalNoise" baseFrequency="0.28" numOctaves="3" seed="4"/>
<feColorMatrix type="matrix" values="0 0 0 0 0  0 0 0 0 0  0 0 0 0 0  0 0 0 -2.6 1.55"/></filter>
<filter id="noise3" x="0" y="0" width="100%" height="100%"><feTurbulence type="fractalNoise" baseFrequency="0.9" numOctaves="1" seed="7"/>
<feColorMatrix type="matrix" values="0 0 0 0 1  0 0 0 0 1  0 0 0 0 1  0 0 0 3.0 -1.45"/></filter>
<filter id="noise4" x="0" y="0" width="100%" height="100%"><feTurbulence type="fractalNoise" baseFrequency="0.9" numOctaves="1" seed="11"/>
<feColorMatrix type="matrix" values="0 0 0 0 0  0 0 0 0 0  0 0 0 0 0  0 0 0 3.0 -1.5"/></filter>
<filter id="noise2" x="0" y="0" width="100%" height="100%"><feTurbulence type="fractalNoise" baseFrequency="0.35" numOctaves="2" seed="9"/>
<feColorMatrix type="matrix" values="0 0 0 0 0  0 0 0 0 0  0 0 0 0 0  0 0 0 -1.2 0.75"/></filter>
<filter id="bl1"><feGaussianBlur stdDeviation="0.9"/></filter>
<filter id="bl2"><feGaussianBlur stdDeviation="0.5"/></filter>
<clipPath id="ci1"><rect x="407.6" y="15.8" width="51.2" height="43.8"/></clipPath>
<clipPath id="ci2"><rect x="460.6" y="15.8" width="51" height="43.8"/></clipPath>
<clipPath id="ci3"><rect x="407.6" y="60.9" width="51.2" height="43.8"/></clipPath>
<clipPath id="ci4"><rect x="460.6" y="60.9" width="51" height="43.8"/></clipPath>
<radialGradient id="sph" cx="0.5" cy="0.5" r="0.5"><stop offset="0" stop-color="#3a3a3a"/><stop offset="0.8" stop-color="#2e2e2e"/><stop offset="1" stop-color="#555"/></radialGradient>
<radialGradient id="sph2" cx="0.5" cy="0.5" r="0.5"><stop offset="0" stop-color="#4a4a4a"/><stop offset="0.85" stop-color="#3c3c3c"/><stop offset="1" stop-color="#777"/></radialGradient>
</defs>
<g clip-path="url(#ci1)">
<rect x="407.6" y="15.8" width="51.2" height="43.8" fill="#dcdcdc"/>
<rect x="407.6" y="15.8" width="51.2" height="43.8" fill="#000" filter="url(#noise1)" opacity="0.42"/>
<rect x="407.6" y="15.8" width="51.2" height="43.8" fill="#000" filter="url(#noise4)" opacity="0.22"/>
<rect x="407.6" y="15.8" width="5" height="43.8" fill="#bdb6bd" opacity="0.6"/>
<g filter="url(#bl1)">
<circle cx="422.2" cy="17.8" r="2.6" fill="#3a3a3a"/>
<circle cx="447" cy="20" r="2.9" fill="#2e2e2e"/>
<circle cx="415.2" cy="28.6" r="3" fill="#383838"/>
<circle cx="426" cy="23.2" r="2.2" fill="#555"/>
<circle cx="436.2" cy="32.4" r="2.4" fill="#505050"/>
<circle cx="428.7" cy="39.4" r="2.6" fill="#3e3e3e"/>
<circle cx="450.2" cy="39.4" r="3.4" fill="#484848"/>
<circle cx="421.2" cy="47.5" r="3.2" fill="#333"/>
<circle cx="435.2" cy="53.9" r="3" fill="#2a2a2a"/>
<circle cx="414.7" cy="50.7" r="2.4" fill="#444"/>
<circle cx="433.5" cy="17.3" r="1.8" fill="#555"/>
<circle cx="442" cy="27" r="1.6" fill="#666"/>
<circle cx="418" cy="36" r="1.5" fill="#666"/>
<circle cx="444" cy="47" r="1.8" fill="#5a5a5a"/>
<circle cx="429" cy="30" r="1.4" fill="#666"/>
<circle cx="455" cy="31" r="1.4" fill="#666"/>
<circle cx="424" cy="52" r="1.6" fill="#555"/>
<circle cx="411" cy="42" r="1.3" fill="#666"/>
</g>
</g>
<g clip-path="url(#ci2)">
<rect x="460.6" y="15.8" width="51" height="43.8" fill="#e0e0e0"/>
<rect x="460.6" y="15.8" width="51" height="43.8" fill="#000" filter="url(#noise2)" opacity="0.22"/>
<g filter="url(#bl1)" opacity="0.45">
<circle cx="461.8" cy="23.8" r="3.4" fill="#9a9a9a"/>
<circle cx="472.5" cy="20" r="2.38" fill="#9a9a9a"/>
<circle cx="491.4" cy="22.7" r="3.4" fill="#9a9a9a"/>
<circle cx="496.2" cy="24.8" r="3.06" fill="#9a9a9a"/>
<circle cx="486.5" cy="33.5" r="4.08" fill="#9a9a9a"/>
<circle cx="474.2" cy="38.3" r="3.23" fill="#9a9a9a"/>
<circle cx="466.6" cy="41.5" r="4.42" fill="#9a9a9a"/>
<circle cx="466" cy="44.8" r="3.91" fill="#9a9a9a"/>
<circle cx="478.5" cy="44.2" r="3.23" fill="#9a9a9a"/>
<circle cx="499.5" cy="41" r="4.93" fill="#9a9a9a"/>
<circle cx="502.7" cy="48" r="2.89" fill="#9a9a9a"/>
<circle cx="494" cy="54" r="3.91" fill="#9a9a9a"/>
<circle cx="483.3" cy="54.5" r="2.38" fill="#9a9a9a"/>
<circle cx="478" cy="16.2" r="1.7" fill="#9a9a9a"/>
<circle cx="493" cy="16.8" r="1.7" fill="#9a9a9a"/>
<circle cx="469.5" cy="36" r="1.36" fill="#9a9a9a"/>
<circle cx="489" cy="58" r="2.04" fill="#9a9a9a"/>
</g>
<g filter="url(#bl2)">
<circle cx="461.8" cy="23.8" r="2" fill="#333"/>
<circle cx="472.5" cy="20" r="1.4" fill="#666"/>
<circle cx="491.4" cy="22.7" r="2" fill="#444"/>
<circle cx="496.2" cy="24.8" r="1.8" fill="#666"/>
<circle cx="486.5" cy="33.5" r="2.4" fill="#333"/>
<circle cx="474.2" cy="38.3" r="1.9" fill="#555"/>
<circle cx="466.6" cy="41.5" r="2.6" fill="#333"/>
<circle cx="466" cy="44.8" r="2.3" fill="#333"/>
<circle cx="478.5" cy="44.2" r="1.9" fill="#444"/>
<circle cx="499.5" cy="41" r="2.9" fill="#2c2c2c"/>
<circle cx="502.7" cy="48" r="1.7" fill="#444"/>
<circle cx="494" cy="54" r="2.3" fill="#3a3a3a"/>
<circle cx="483.3" cy="54.5" r="1.4" fill="#555"/>
<circle cx="478" cy="16.2" r="1" fill="#666"/>
<circle cx="493" cy="16.8" r="1" fill="#555"/>
<circle cx="469.5" cy="36" r="0.8" fill="#888"/>
<circle cx="489" cy="58" r="1.2" fill="#666"/>
</g>
</g>
<g clip-path="url(#ci3)">
<rect x="407.6" y="60.9" width="51.2" height="43.8" fill="#d6d6d6"/>
<rect x="407.6" y="60.9" width="51.2" height="43.8" fill="#000" filter="url(#noise4)" opacity="0.3"/>
<circle cx="410.4" cy="65" r="3.9" fill="url(#sph)" filter="url(#bl2)"/>
<circle cx="416.8" cy="73.6" r="4.9" fill="url(#sph2)" filter="url(#bl2)"/>
<circle cx="435.7" cy="74.7" r="8.2" fill="url(#sph)" filter="url(#bl2)"/>
<circle cx="423.3" cy="83.3" r="7" fill="url(#sph)" filter="url(#bl2)"/>
<circle cx="453.5" cy="84" r="9.6" fill="url(#sph)" filter="url(#bl2)"/>
<circle cx="447.5" cy="68.8" r="4.4" fill="url(#sph2)" filter="url(#bl2)"/>
<circle cx="408.5" cy="90.3" r="4.2" fill="url(#sph)" filter="url(#bl2)"/>
<circle cx="414.7" cy="99" r="4.5" fill="url(#sph2)" filter="url(#bl2)"/>
<circle cx="420" cy="92.5" r="2" fill="url(#sph2)" filter="url(#bl2)"/>
<rect x="407.6" y="60.9" width="51.2" height="43.8" fill="#fff" filter="url(#noise3)" opacity="0.22"/>
</g>
<g clip-path="url(#ci4)">
<rect x="460.6" y="60.9" width="51" height="43.8" fill="#d8d8d8"/>
<rect x="460.6" y="60.9" width="51" height="43.8" fill="#000" filter="url(#noise4)" opacity="0.3"/>
<circle cx="468.2" cy="73" r="6.6" fill="url(#sph2)" filter="url(#bl2)"/>
<circle cx="482.2" cy="73" r="7.1" fill="url(#sph)" filter="url(#bl2)"/>
<circle cx="470.9" cy="86.5" r="5.3" fill="url(#sph2)" filter="url(#bl2)"/>
<circle cx="481.2" cy="94.6" r="6.8" fill="url(#sph)" filter="url(#bl2)"/>
<circle cx="493" cy="90.3" r="6.1" fill="url(#sph2)" filter="url(#bl2)"/>
<circle cx="511" cy="90" r="10" fill="url(#sph)" filter="url(#bl2)"/>
<circle cx="490.8" cy="102" r="3.9" fill="url(#sph2)" filter="url(#bl2)"/>
<circle cx="497.3" cy="67.7" r="2.4" fill="url(#sph2)" filter="url(#bl2)"/>
<circle cx="499.5" cy="74" r="2.4" fill="url(#sph2)" filter="url(#bl2)"/>
<circle cx="499" cy="80.6" r="2" fill="url(#sph2)" filter="url(#bl2)"/>
<circle cx="461.8" cy="63.4" r="2.4" fill="url(#sph)" filter="url(#bl2)"/>
<ellipse cx="501" cy="72" rx="6" ry="10" fill="#e6e2b8" opacity="0.45" filter="url(#bl1)"/>
<rect x="460.6" y="60.9" width="51" height="43.8" fill="#fff" filter="url(#noise3)" opacity="0.22"/>
</g>
<rect x="446" y="56.3" width="12.3" height="1.9" fill="#000"/>
<rect x="498.4" y="56.3" width="12.4" height="1.9" fill="#000"/>
<rect x="446" y="101.3" width="11.8" height="1.9" fill="#000"/>
<rect x="498.4" y="101.3" width="11.8" height="1.9" fill="#000"/>
<polygon points="455,18.03 457.97,23.27 452.03,23.27" fill="#5a86cc" stroke="#2c4c90" stroke-width="0.7"/>
<polygon points="508,18.03 510.97,23.27 505.03,23.27" fill="#5a86cc" stroke="#2c4c90" stroke-width="0.7"/>
<polygon points="455.4,62.19 458.81,68.2 451.99,68.2" fill="#1010c8" stroke="#0a0a90" stroke-width="0.6"/>
<polygon points="507.6,62.19 511.01,68.2 504.19,68.2" fill="#1010c8" stroke="#0a0a90" stroke-width="0.6"/>
<text x="513.4" y="37" font-size="6.2" text-anchor="middle" fill="#111" transform="rotate(90 513.4 37)" textLength="41" lengthAdjust="spacingAndGlyphs">HSJD-DIPG-007</text>
<text x="513.4" y="81.7" font-size="6.2" text-anchor="middle" fill="#111" transform="rotate(90 513.4 81.7)" textLength="34.5" lengthAdjust="spacingAndGlyphs">SU-DIPG-XIII</text>
<text x="0.3" y="178.2" font-size="12" font-weight="bold" fill="#000">D</text>
<rect x="97.6" y="180.2" width="110.8" height="120.4" fill="#ffffff" stroke="#111" stroke-width="1.1"/>
<rect x="98.7" y="181.3" width="7.43" height="8.17" fill="#f8c48c"/>
<rect x="107.13" y="181.3" width="7.43" height="8.17" fill="#008000"/>
<rect x="115.56" y="181.3" width="7.43" height="8.17" fill="#d3d3d3"/>
<rect x="123.99" y="181.3" width="7.43" height="8.17" fill="#d3d3d3"/>
<rect x="132.42" y="181.3" width="7.43" height="8.17" fill="#d3d3d3"/>
<rect x="140.85" y="181.3" width="7.43" height="8.17" fill="#d3d3d3"/>
<rect x="149.28" y="181.3" width="7.43" height="8.17" fill="#d3d3d3"/>
<rect x="157.72" y="181.3" width="7.43" height="8.17" fill="#d3d3d3"/>
<rect x="166.15" y="181.3" width="7.43" height="8.17" fill="#d3d3d3"/>
<rect x="174.58" y="181.3" width="7.43" height="8.17" fill="#d3d3d3"/>
<rect x="183.01" y="181.3" width="7.43" height="8.17" fill="#d3d3d3"/>
<rect x="191.44" y="181.3" width="7.43" height="8.17" fill="#f00000"/>
<rect x="199.87" y="181.3" width="7.43" height="8.17" fill="#d3d3d3"/>
<rect x="98.7" y="190.47" width="7.43" height="8.17" fill="#f8c48c"/>
<rect x="107.13" y="190.47" width="7.43" height="8.17" fill="#0000f0"/>
<rect x="115.56" y="190.47" width="7.43" height="8.17" fill="#d3d3d3"/>
<rect x="123.99" y="190.47" width="7.43" height="8.17" fill="#d3d3d3"/>
<rect x="132.42" y="190.47" width="7.43" height="8.17" fill="#d3d3d3"/>
<rect x="140.85" y="190.47" width="7.43" height="8.17" fill="#9a10d8"/>
<rect x="149.28" y="190.47" width="7.43" height="8.17" fill="#d3d3d3"/>
<rect x="157.72" y="190.47" width="7.43" height="8.17" fill="#d3d3d3"/>
<rect x="166.15" y="190.47" width="7.43" height="8.17" fill="#0000f0"/>
<rect x="174.58" y="190.47" width="7.43" height="8.17" fill="#0000f0"/>
<rect x="183.01" y="190.47" width="7.43" height="8.17" fill="#d3d3d3"/>
<rect x="191.44" y="190.47" width="7.43" height="8.17" fill="#d3d3d3"/>
<rect x="199.87" y="190.47" width="7.43" height="8.17" fill="#d3d3d3"/>
<rect x="98.7" y="199.64" width="7.43" height="8.17" fill="#f8c48c"/>
<rect x="107.13" y="199.64" width="7.43" height="8.17" fill="#0000f0"/>
<rect x="115.56" y="199.64" width="7.43" height="8.17" fill="#d3d3d3"/>
<rect x="123.99" y="199.64" width="7.43" height="8.17" fill="#d3d3d3"/>
<rect x="132.42" y="199.64" width="7.43" height="8.17" fill="#d3d3d3"/>
<rect x="140.85" y="199.64" width="7.43" height="8.17" fill="#d3d3d3"/>
<rect x="149.28" y="199.64" width="7.43" height="8.17" fill="#d3d3d3"/>
<rect x="157.72" y="199.64" width="7.43" height="8.17" fill="#d3d3d3"/>
<rect x="166.15" y="199.64" width="7.43" height="8.17" fill="#0000f0"/>
<rect x="174.58" y="199.64" width="7.43" height="8.17" fill="#0000f0"/>
<rect x="183.01" y="199.64" width="7.43" height="8.17" fill="#d3d3d3"/>
<rect x="191.44" y="199.64" width="7.43" height="8.17" fill="#d3d3d3"/>
<rect x="199.87" y="199.64" width="7.43" height="8.17" fill="#d3d3d3"/>
<rect x="98.7" y="208.81" width="7.43" height="8.17" fill="#a6f0a0"/>
<rect x="107.13" y="208.81" width="7.43" height="8.17" fill="#0000f0"/>
<rect x="115.56" y="208.81" width="7.43" height="8.17" fill="#0000f0"/>
<rect x="123.99" y="208.81" width="7.43" height="8.17" fill="#d3d3d3"/>
<rect x="132.42" y="208.81" width="7.43" height="8.17" fill="#d3d3d3"/>
<rect x="140.85" y="208.81" width="7.43" height="8.17" fill="#d3d3d3"/>
<rect x="149.28" y="208.81" width="7.43" height="8.17" fill="#d3d3d3"/>
<rect x="157.72" y="208.81" width="7.43" height="8.17" fill="#d3d3d3"/>
<rect x="166.15" y="208.81" width="7.43" height="8.17" fill="#d3d3d3"/>
<rect x="174.58" y="208.81" width="7.43" height="8.17" fill="#d3d3d3"/>
<rect x="183.01" y="208.81" width="7.43" height="8.17" fill="#d3d3d3"/>
<rect x="191.44" y="208.81" width="7.43" height="8.17" fill="#d3d3d3"/>
<rect x="199.87" y="208.81" width="7.43" height="8.17" fill="#d3d3d3"/>
<rect x="98.7" y="217.98" width="7.43" height="8.17" fill="#a6f0a0"/>
<rect x="107.13" y="217.98" width="7.43" height="8.17" fill="#008000"/>
<rect x="115.56" y="217.98" width="7.43" height="8.17" fill="#d3d3d3"/>
<rect x="123.99" y="217.98" width="7.43" height="8.17" fill="#d3d3d3"/>
<rect x="132.42" y="217.98" width="7.43" height="8.17" fill="#d3d3d3"/>
<rect x="140.85" y="217.98" width="7.43" height="8.17" fill="#d3d3d3"/>
<rect x="149.28" y="217.98" width="7.43" height="8.17" fill="#0000f0"/>
<rect x="157.72" y="217.98" width="7.43" height="8.17" fill="#d3d3d3"/>
<rect x="166.15" y="217.98" width="7.43" height="8.17" fill="#d3d3d3"/>
<rect x="174.58" y="217.98" width="7.43" height="8.17" fill="#d3d3d3"/>
<rect x="183.01" y="217.98" width="7.43" height="8.17" fill="#d3d3d3"/>
<rect x="191.44" y="217.98" width="7.43" height="8.17" fill="#d3d3d3"/>
<rect x="199.87" y="217.98" width="7.43" height="8.17" fill="#d3d3d3"/>
<rect x="98.7" y="227.15" width="7.43" height="8.17" fill="#f8c48c"/>
<rect x="107.13" y="227.15" width="7.43" height="8.17" fill="#0000f0"/>
<rect x="115.56" y="227.15" width="7.43" height="8.17" fill="#d3d3d3"/>
<rect x="123.99" y="227.15" width="7.43" height="8.17" fill="#d3d3d3"/>
<rect x="132.42" y="227.15" width="7.43" height="8.17" fill="#d3d3d3"/>
<rect x="140.85" y="227.15" width="7.43" height="8.17" fill="#d3d3d3"/>
<rect x="149.28" y="227.15" width="7.43" height="8.17" fill="#d3d3d3"/>
<rect x="157.72" y="227.15" width="7.43" height="8.17" fill="#ffff00"/>
<rect x="166.15" y="227.15" width="7.43" height="8.17" fill="#d3d3d3"/>
<rect x="174.58" y="227.15" width="7.43" height="8.17" fill="#d3d3d3"/>
<rect x="183.01" y="227.15" width="7.43" height="8.17" fill="#d3d3d3"/>
<rect x="191.44" y="227.15" width="7.43" height="8.17" fill="#f00000"/>
<rect x="199.87" y="227.15" width="7.43" height="8.17" fill="#d3d3d3"/>
<rect x="98.7" y="236.32" width="7.43" height="8.17" fill="#f8c48c"/>
<rect x="107.13" y="236.32" width="7.43" height="8.17" fill="#008000"/>
<rect x="115.56" y="236.32" width="7.43" height="8.17" fill="#d3d3d3"/>
<rect x="123.99" y="236.32" width="7.43" height="8.17" fill="#d3d3d3"/>
<rect x="132.42" y="236.32" width="7.43" height="8.17" fill="#d3d3d3"/>
<rect x="140.85" y="236.32" width="7.43" height="8.17" fill="#d3d3d3"/>
<rect x="149.28" y="236.32" width="7.43" height="8.17" fill="#d3d3d3"/>
<rect x="157.72" y="236.32" width="7.43" height="8.17" fill="#d3d3d3"/>
<rect x="166.15" y="236.32" width="7.43" height="8.17" fill="#d3d3d3"/>
<rect x="174.58" y="236.32" width="7.43" height="8.17" fill="#d3d3d3"/>
<rect x="183.01" y="236.32" width="7.43" height="8.17" fill="#d3d3d3"/>
<rect x="191.44" y="236.32" width="7.43" height="8.17" fill="#d3d3d3"/>
<rect x="199.87" y="236.32" width="7.43" height="8.17" fill="#d3d3d3"/>
<rect x="98.7" y="245.48" width="7.43" height="8.17" fill="#d9a0ee"/>
<rect x="107.13" y="245.48" width="7.43" height="8.17" fill="#0000f0"/>
<rect x="115.56" y="245.48" width="7.43" height="8.17" fill="#0000f0"/>
<rect x="123.99" y="245.48" width="7.43" height="8.17" fill="#0000f0"/>
<rect x="132.42" y="245.48" width="7.43" height="8.17" fill="#f00000"/>
<rect x="140.85" y="245.48" width="7.43" height="8.17" fill="#d3d3d3"/>
<rect x="149.28" y="245.48" width="7.43" height="8.17" fill="#d3d3d3"/>
<rect x="157.72" y="245.48" width="7.43" height="8.17" fill="#d3d3d3"/>
<rect x="166.15" y="245.48" width="7.43" height="8.17" fill="#d3d3d3"/>
<rect x="174.58" y="245.48" width="7.43" height="8.17" fill="#d3d3d3"/>
<rect x="183.01" y="245.48" width="7.43" height="8.17" fill="#d3d3d3"/>
<rect x="191.44" y="245.48" width="7.43" height="8.17" fill="#d3d3d3"/>
<rect x="199.87" y="245.48" width="7.43" height="8.17" fill="#d3d3d3"/>
<rect x="98.7" y="254.65" width="7.43" height="8.17" fill="#f8c48c"/>
<rect x="107.13" y="254.65" width="7.43" height="8.17" fill="#d3d3d3"/>
<rect x="115.56" y="254.65" width="7.43" height="8.17" fill="#d3d3d3"/>
<rect x="123.99" y="254.65" width="7.43" height="8.17" fill="#d3d3d3"/>
<rect x="132.42" y="254.65" width="7.43" height="8.17" fill="#d3d3d3"/>
<rect x="140.85" y="254.65" width="7.43" height="8.17" fill="#d3d3d3"/>
<rect x="149.28" y="254.65" width="7.43" height="8.17" fill="#d3d3d3"/>
<rect x="157.72" y="254.65" width="7.43" height="8.17" fill="#ffff00"/>
<rect x="166.15" y="254.65" width="7.43" height="8.17" fill="#d3d3d3"/>
<rect x="174.58" y="254.65" width="7.43" height="8.17" fill="#d3d3d3"/>
<rect x="183.01" y="254.65" width="7.43" height="8.17" fill="#d3d3d3"/>
<rect x="191.44" y="254.65" width="7.43" height="8.17" fill="#d3d3d3"/>
<rect x="199.87" y="254.65" width="7.43" height="8.17" fill="#d3d3d3"/>
<rect x="98.7" y="263.82" width="7.43" height="8.17" fill="#d9a0ee"/>
<rect x="107.13" y="263.82" width="7.43" height="8.17" fill="#f88010"/>
<rect x="115.56" y="263.82" width="7.43" height="8.17" fill="#0000f0"/>
<rect x="123.99" y="263.82" width="7.43" height="8.17" fill="#d3d3d3"/>
<rect x="132.42" y="263.82" width="7.43" height="8.17" fill="#f00000"/>
<rect x="140.85" y="263.82" width="7.43" height="8.17" fill="#d3d3d3"/>
<rect x="149.28" y="263.82" width="7.43" height="8.17" fill="#d3d3d3"/>
<rect x="157.72" y="263.82" width="7.43" height="8.17" fill="#d3d3d3"/>
<rect x="166.15" y="263.82" width="7.43" height="8.17" fill="#d3d3d3"/>
<rect x="174.58" y="263.82" width="7.43" height="8.17" fill="#d3d3d3"/>
<rect x="183.01" y="263.82" width="7.43" height="8.17" fill="#d3d3d3"/>
<rect x="191.44" y="263.82" width="7.43" height="8.17" fill="#d3d3d3"/>
<rect x="199.87" y="263.82" width="7.43" height="8.17" fill="#d3d3d3"/>
<rect x="98.7" y="272.99" width="7.43" height="8.17" fill="#d9a0ee"/>
<rect x="107.13" y="272.99" width="7.43" height="8.17" fill="#d3d3d3"/>
<rect x="115.56" y="272.99" width="7.43" height="8.17" fill="#0000f0"/>
<rect x="123.99" y="272.99" width="7.43" height="8.17" fill="#0000f0"/>
<rect x="132.42" y="272.99" width="7.43" height="8.17" fill="#f00000"/>
<rect x="140.85" y="272.99" width="7.43" height="8.17" fill="#9a10d8"/>
<rect x="149.28" y="272.99" width="7.43" height="8.17" fill="#f00000"/>
<rect x="157.72" y="272.99" width="7.43" height="8.17" fill="#d3d3d3"/>
<rect x="166.15" y="272.99" width="7.43" height="8.17" fill="#d3d3d3"/>
<rect x="174.58" y="272.99" width="7.43" height="8.17" fill="#d3d3d3"/>
<rect x="183.01" y="272.99" width="7.43" height="8.17" fill="#d3d3d3"/>
<rect x="191.44" y="272.99" width="7.43" height="8.17" fill="#d3d3d3"/>
<rect x="199.87" y="272.99" width="7.43" height="8.17" fill="#d3d3d3"/>
<rect x="98.7" y="282.16" width="7.43" height="8.17" fill="#d9a0ee"/>
<rect x="107.13" y="282.16" width="7.43" height="8.17" fill="#d3d3d3"/>
<rect x="115.56" y="282.16" width="7.43" height="8.17" fill="#d3d3d3"/>
<rect x="123.99" y="282.16" width="7.43" height="8.17" fill="#0000f0"/>
<rect x="132.42" y="282.16" width="7.43" height="8.17" fill="#d3d3d3"/>
<rect x="140.85" y="282.16" width="7.43" height="8.17" fill="#d3d3d3"/>
<rect x="149.28" y="282.16" width="7.43" height="8.17" fill="#d3d3d3"/>
<rect x="157.72" y="282.16" width="7.43" height="8.17" fill="#d3d3d3"/>
<rect x="166.15" y="282.16" width="7.43" height="8.17" fill="#d3d3d3"/>
<rect x="174.58" y="282.16" width="7.43" height="8.17" fill="#d3d3d3"/>
<rect x="183.01" y="282.16" width="7.43" height="8.17" fill="#0000f0"/>
<rect x="191.44" y="282.16" width="7.43" height="8.17" fill="#d3d3d3"/>
<rect x="199.87" y="282.16" width="7.43" height="8.17" fill="#d3d3d3"/>
<rect x="98.7" y="291.33" width="7.43" height="8.17" fill="#f8c48c"/>
<rect x="107.13" y="291.33" width="7.43" height="8.17" fill="#d3d3d3"/>
<rect x="115.56" y="291.33" width="7.43" height="8.17" fill="#0000f0"/>
<rect x="123.99" y="291.33" width="7.43" height="8.17" fill="#0000f0"/>
<rect x="132.42" y="291.33" width="7.43" height="8.17" fill="#d3d3d3"/>
<rect x="140.85" y="291.33" width="7.43" height="8.17" fill="#d3d3d3"/>
<rect x="149.28" y="291.33" width="7.43" height="8.17" fill="#d3d3d3"/>
<rect x="157.72" y="291.33" width="7.43" height="8.17" fill="#ffff00"/>
<rect x="166.15" y="291.33" width="7.43" height="8.17" fill="#d3d3d3"/>
<rect x="174.58" y="291.33" width="7.43" height="8.17" fill="#d3d3d3"/>
<rect x="183.01" y="291.33" width="7.43" height="8.17" fill="#f00000"/>
<rect x="191.44" y="291.33" width="7.43" height="8.17" fill="#d3d3d3"/>
<rect x="199.87" y="291.33" width="7.43" height="8.17" fill="#f050d8"/>
<line x1="95.4" y1="185.38" x2="97.6" y2="185.38" stroke="#111" stroke-width="0.9"/>
<text x="63.6" y="188.08" font-size="7.7" text-anchor="end">SU-DIPG-XXIV</text>
<polygon points="69.6,182.19 72.79,187.82 66.41,187.82" fill="#cc5cc0" stroke="#8e4086" stroke-width="0.6"/>
<line x1="95.4" y1="194.55" x2="97.6" y2="194.55" stroke="#111" stroke-width="0.9"/>
<text x="63.6" y="197.25" font-size="7.7" text-anchor="end">SU-DIPG-VI</text>
<polygon points="69.6,191.36 72.79,196.99 66.41,196.99" fill="#a8e4d4" stroke="#3fb3a0" stroke-width="0.6"/>
<line x1="95.4" y1="203.72" x2="97.6" y2="203.72" stroke="#111" stroke-width="0.9"/>
<text x="63.6" y="206.42" font-size="7.7" text-anchor="end">SU-DIPG-XIII</text>
<polygon points="69.6,200.53 72.79,206.16 66.41,206.16" fill="#1515b0" stroke="#0e0e7b" stroke-width="0.6"/>
<line x1="95.4" y1="212.89" x2="97.6" y2="212.89" stroke="#111" stroke-width="0.9"/>
<text x="63.6" y="215.59" font-size="7.7" text-anchor="end">CNMC-XD-760</text>
<circle cx="69.6" cy="212.89" r="2.9" fill="#a0104a" stroke="#700b33" stroke-width="0.6"/>
<line x1="95.4" y1="222.06" x2="97.6" y2="222.06" stroke="#111" stroke-width="0.9"/>
<text x="63.6" y="224.76" font-size="7.7" text-anchor="end">DIPG-VUMC10</text>
<circle cx="69.6" cy="222.06" r="2.9" fill="#22b02e" stroke="#177b20" stroke-width="0.6"/>
<line x1="95.4" y1="231.23" x2="97.6" y2="231.23" stroke="#111" stroke-width="0.9"/>
<text x="63.6" y="233.93" font-size="7.7" text-anchor="end">SU-DIPG-XVII</text>
<polygon points="69.6,228.04 72.79,233.67 66.41,233.67" fill="#8222b4" stroke="#5b177d" stroke-width="0.6"/>
<line x1="95.4" y1="240.4" x2="97.6" y2="240.4" stroke="#111" stroke-width="0.9"/>
<text x="63.6" y="243.1" font-size="7.7" text-anchor="end">SU-DIPG-XXIX</text>
<polygon points="69.6,237.21 72.79,242.84 66.41,242.84" fill="#726342" stroke="#4f452e" stroke-width="0.6"/>
<line x1="95.4" y1="249.57" x2="97.6" y2="249.57" stroke="#111" stroke-width="0.9"/>
<text x="63.6" y="252.27" font-size="7.7" text-anchor="end">UON-JUMP4</text>
<rect x="67.28" y="247.25" width="4.64" height="4.64" fill="#e2568e" stroke="#9e3c63" stroke-width="0.6"/>
<line x1="95.4" y1="258.74" x2="97.6" y2="258.74" stroke="#111" stroke-width="0.9"/>
<text x="63.6" y="261.44" font-size="7.7" text-anchor="end">SU-DIPG-XXV</text>
<polygon points="69.6,255.55 72.79,261.17 66.41,261.17" fill="#8a92a4" stroke="#606672" stroke-width="0.6"/>
<line x1="95.4" y1="267.91" x2="97.6" y2="267.91" stroke="#111" stroke-width="0.9"/>
<text x="63.6" y="270.61" font-size="7.7" text-anchor="end">SU-DIPG-XXXVI</text>
<rect x="67.28" y="265.59" width="4.64" height="4.64" fill="#eeea10" stroke="#e0a020" stroke-width="0.6"/>
<line x1="95.4" y1="277.08" x2="97.6" y2="277.08" stroke="#111" stroke-width="0.9"/>
<text x="63.6" y="279.78" font-size="7.7" text-anchor="end">SU-DIPG-IV</text>
<rect x="67.28" y="274.76" width="4.64" height="4.64" fill="#d41212" stroke="#940c0c" stroke-width="0.6"/>
<line x1="95.4" y1="286.25" x2="97.6" y2="286.25" stroke="#111" stroke-width="0.9"/>
<text x="63.6" y="288.95" font-size="7.7" text-anchor="end">SU-DIPG-XXXIII</text>
<rect x="67.28" y="283.93" width="4.64" height="4.64" fill="#e8661a" stroke="#a24712" stroke-width="0.6"/>
<line x1="95.4" y1="295.42" x2="97.6" y2="295.42" stroke="#111" stroke-width="0.9"/>
<text x="63.6" y="298.12" font-size="7.7" text-anchor="end">HSJD-DIPG-007</text>
<polygon points="69.6,292.23 72.79,297.85 66.41,297.85" fill="#4a82d4" stroke="#335b94" stroke-width="0.6"/>
<line x1="102.42" y1="300.6" x2="102.42" y2="302.6" stroke="#111" stroke-width="0.9"/>
<text x="105.02" y="303.4" font-size="7.6" text-anchor="end" transform="rotate(-90 105.02 303.4)">H3 mut.</text>
<line x1="110.85" y1="300.6" x2="110.85" y2="302.6" stroke="#111" stroke-width="0.9"/>
<text x="113.45" y="303.4" font-size="7.6" text-anchor="end" font-style="italic" transform="rotate(-90 113.45 303.4)">TP53</text>
<line x1="119.28" y1="300.6" x2="119.28" y2="302.6" stroke="#111" stroke-width="0.9"/>
<text x="121.88" y="303.4" font-size="7.6" text-anchor="end" font-style="italic" transform="rotate(-90 121.88 303.4)">ACVR1</text>
<line x1="127.71" y1="300.6" x2="127.71" y2="302.6" stroke="#111" stroke-width="0.9"/>
<text x="130.31" y="303.4" font-size="7.6" text-anchor="end" font-style="italic" transform="rotate(-90 130.31 303.4)">PIK3CA</text>
<line x1="136.14" y1="300.6" x2="136.14" y2="302.6" stroke="#111" stroke-width="0.9"/>
<text x="138.74" y="303.4" font-size="7.6" text-anchor="end" font-style="italic" transform="rotate(-90 138.74 303.4)">ZFHX3</text>
<line x1="144.57" y1="300.6" x2="144.57" y2="302.6" stroke="#111" stroke-width="0.9"/>
<text x="147.17" y="303.4" font-size="7.6" text-anchor="end" font-style="italic" transform="rotate(-90 147.17 303.4)">MCL1</text>
<line x1="153" y1="300.6" x2="153" y2="302.6" stroke="#111" stroke-width="0.9"/>
<text x="155.6" y="303.4" font-size="7.6" text-anchor="end" font-style="italic" transform="rotate(-90 155.6 303.4)">ANKRD11</text>
<line x1="161.43" y1="300.6" x2="161.43" y2="302.6" stroke="#111" stroke-width="0.9"/>
<text x="164.03" y="303.4" font-size="7.6" text-anchor="end" font-style="italic" transform="rotate(-90 164.03 303.4)">MYC</text>
<line x1="169.86" y1="300.6" x2="169.86" y2="302.6" stroke="#111" stroke-width="0.9"/>
<text x="172.46" y="303.4" font-size="7.6" text-anchor="end" font-style="italic" transform="rotate(-90 172.46 303.4)">MSH3</text>
<line x1="178.29" y1="300.6" x2="178.29" y2="302.6" stroke="#111" stroke-width="0.9"/>
<text x="180.89" y="303.4" font-size="7.6" text-anchor="end" font-style="italic" transform="rotate(-90 180.89 303.4)">RNF43</text>
<line x1="186.72" y1="300.6" x2="186.72" y2="302.6" stroke="#111" stroke-width="0.9"/>
<text x="189.32" y="303.4" font-size="7.6" text-anchor="end" font-style="italic" transform="rotate(-90 189.32 303.4)">ARID1A</text>
<line x1="195.15" y1="300.6" x2="195.15" y2="302.6" stroke="#111" stroke-width="0.9"/>
<text x="197.75" y="303.4" font-size="7.6" text-anchor="end" font-style="italic" transform="rotate(-90 197.75 303.4)">MAP3K1</text>
<line x1="203.58" y1="300.6" x2="203.58" y2="302.6" stroke="#111" stroke-width="0.9"/>
<text x="206.18" y="303.4" font-size="7.6" text-anchor="end" font-style="italic" transform="rotate(-90 206.18 303.4)">PPM1D</text>
<defs><linearGradient id="gD" x1="0" y1="0" x2="0" y2="1"><stop offset="0" stop-color="#1cb4e8"/><stop offset="0.45" stop-color="#e8f6fc"/><stop offset="0.5" stop-color="#f6eefa"/><stop offset="1" stop-color="#ff1ee6"/></linearGradient></defs>
<polygon points="84.8,182.6 93.6,182.6 93.6,299.6 77,299.6" fill="url(#gD)"/>
<text x="89.6" y="182.6" font-size="7.4" text-anchor="middle" fill="#333">Low</text>
<text x="85.2" y="307.4" font-size="7.4" text-anchor="middle" fill="#333">High</text>
<text x="89.8" y="247" font-size="7.3" text-anchor="middle" fill="#333" transform="rotate(-90 89.8 247)">Sensitivity</text>
<rect x="216.8" y="180.4" width="21.8" height="119.8" fill="none" stroke="#111" stroke-width="1"/>
<line x1="214.6" y1="185.38" x2="216.8" y2="185.38" stroke="#111" stroke-width="0.9"/>
<rect x="217.4" y="181.68" width="10.91" height="7.4" fill="#a6a6a6"/>
<line x1="214.6" y1="194.55" x2="216.8" y2="194.55" stroke="#111" stroke-width="0.9"/>
<rect x="217.4" y="190.85" width="13.07" height="7.4" fill="#a6a6a6"/>
<line x1="214.6" y1="203.72" x2="216.8" y2="203.72" stroke="#111" stroke-width="0.9"/>
<rect x="217.4" y="200.02" width="19.17" height="7.4" fill="#a6a6a6"/>
<line x1="214.6" y1="212.89" x2="216.8" y2="212.89" stroke="#111" stroke-width="0.9"/>
<line x1="214.6" y1="222.06" x2="216.8" y2="222.06" stroke="#111" stroke-width="0.9"/>
<rect x="217.4" y="218.36" width="13.07" height="7.4" fill="#a6a6a6"/>
<line x1="214.6" y1="231.23" x2="216.8" y2="231.23" stroke="#111" stroke-width="0.9"/>
<rect x="217.4" y="227.53" width="9.45" height="7.4" fill="#a6a6a6"/>
<line x1="214.6" y1="240.4" x2="216.8" y2="240.4" stroke="#111" stroke-width="0.9"/>
<rect x="217.4" y="236.7" width="4.32" height="7.4" fill="#a6a6a6"/>
<line x1="214.6" y1="249.57" x2="216.8" y2="249.57" stroke="#111" stroke-width="0.9"/>
<rect x="217.4" y="245.87" width="16.09" height="7.4" fill="#a6a6a6"/>
<line x1="214.6" y1="258.74" x2="216.8" y2="258.74" stroke="#111" stroke-width="0.9"/>
<rect x="217.4" y="255.04" width="17.87" height="7.4" fill="#a6a6a6"/>
<line x1="214.6" y1="267.91" x2="216.8" y2="267.91" stroke="#111" stroke-width="0.9"/>
<rect x="217.4" y="264.21" width="4.59" height="7.4" fill="#a6a6a6"/>
<line x1="214.6" y1="277.08" x2="216.8" y2="277.08" stroke="#111" stroke-width="0.9"/>
<rect x="217.4" y="273.38" width="4.59" height="7.4" fill="#a6a6a6"/>
<line x1="214.6" y1="286.25" x2="216.8" y2="286.25" stroke="#111" stroke-width="0.9"/>
<rect x="217.4" y="282.55" width="8.91" height="7.4" fill="#a6a6a6"/>
<line x1="214.6" y1="295.42" x2="216.8" y2="295.42" stroke="#111" stroke-width="0.9"/>
<rect x="217.4" y="291.72" width="4.59" height="7.4" fill="#a6a6a6"/>
<line x1="216.8" y1="300" x2="216.8" y2="302.4" stroke="#111" stroke-width="0.9"/>
<text x="216.8" y="312.2" font-size="6.9" text-anchor="middle">0</text>
<line x1="222.2" y1="300" x2="222.2" y2="302.4" stroke="#111" stroke-width="0.9"/>
<text x="222.2" y="312.2" font-size="6.9" text-anchor="middle">1</text>
<line x1="227.6" y1="300" x2="227.6" y2="302.4" stroke="#111" stroke-width="0.9"/>
<text x="227.6" y="312.2" font-size="6.9" text-anchor="middle">2</text>
<line x1="233" y1="300" x2="233" y2="302.4" stroke="#111" stroke-width="0.9"/>
<text x="233" y="312.2" font-size="6.9" text-anchor="middle">3</text>
<line x1="238.4" y1="300" x2="238.4" y2="302.4" stroke="#111" stroke-width="0.9"/>
<text x="238.4" y="312.2" font-size="6.9" text-anchor="middle">4</text>
<text x="227.7" y="323.4" font-size="7.6" text-anchor="middle">MSI</text>
<rect x="244.4" y="180.4" width="21.2" height="119.8" fill="none" stroke="#111" stroke-width="1"/>
<line x1="242.2" y1="185.38" x2="244.4" y2="185.38" stroke="#111" stroke-width="0.9"/>
<rect x="245" y="181.68" width="1.8" height="7.4" fill="#a6a6a6"/>
<line x1="242.2" y1="194.55" x2="244.4" y2="194.55" stroke="#111" stroke-width="0.9"/>
<rect x="245" y="190.85" width="3.5" height="7.4" fill="#a6a6a6"/>
<line x1="242.2" y1="203.72" x2="244.4" y2="203.72" stroke="#111" stroke-width="0.9"/>
<rect x="245" y="200.02" width="1.5" height="7.4" fill="#a6a6a6"/>
<line x1="242.2" y1="212.89" x2="244.4" y2="212.89" stroke="#111" stroke-width="0.9"/>
<line x1="242.2" y1="222.06" x2="244.4" y2="222.06" stroke="#111" stroke-width="0.9"/>
<rect x="245" y="218.36" width="15" height="7.4" fill="#a6a6a6"/>
<line x1="242.2" y1="231.23" x2="244.4" y2="231.23" stroke="#111" stroke-width="0.9"/>
<rect x="245" y="227.53" width="4.8" height="7.4" fill="#a6a6a6"/>
<line x1="242.2" y1="240.4" x2="244.4" y2="240.4" stroke="#111" stroke-width="0.9"/>
<rect x="245" y="236.7" width="1.8" height="7.4" fill="#a6a6a6"/>
<line x1="242.2" y1="249.57" x2="244.4" y2="249.57" stroke="#111" stroke-width="0.9"/>
<rect x="245" y="245.87" width="3.5" height="7.4" fill="#a6a6a6"/>
<line x1="242.2" y1="258.74" x2="244.4" y2="258.74" stroke="#111" stroke-width="0.9"/>
<rect x="245" y="255.04" width="9.7" height="7.4" fill="#a6a6a6"/>
<line x1="242.2" y1="267.91" x2="244.4" y2="267.91" stroke="#111" stroke-width="0.9"/>
<line x1="242.2" y1="277.08" x2="244.4" y2="277.08" stroke="#111" stroke-width="0.9"/>
<rect x="245" y="273.38" width="6.7" height="7.4" fill="#a6a6a6"/>
<line x1="242.2" y1="286.25" x2="244.4" y2="286.25" stroke="#111" stroke-width="0.9"/>
<line x1="242.2" y1="295.42" x2="244.4" y2="295.42" stroke="#111" stroke-width="0.9"/>
<rect x="245" y="291.72" width="6.7" height="7.4" fill="#a6a6a6"/>
<line x1="244.4" y1="300" x2="244.4" y2="302.4" stroke="#111" stroke-width="0.9"/>
<text x="244.7" y="312.2" font-size="6.9" text-anchor="middle">1</text>
<line x1="255" y1="300" x2="255" y2="302.4" stroke="#111" stroke-width="0.9"/>
<text x="255.9" y="312.2" font-size="6.9" text-anchor="middle">10</text>
<line x1="265.6" y1="300" x2="265.6" y2="302.4" stroke="#111" stroke-width="0.9"/>
<text x="266.2" y="312.2" font-size="6.9" text-anchor="middle">100</text>
<text x="255" y="323.4" font-size="7.6" text-anchor="middle">TMB</text>
<text x="271.8" y="184" font-size="6.8" font-weight="bold" fill="#111">H3 mutations</text>
<rect x="271.8" y="186.6" width="5.4" height="5.4" fill="#a6f0a0" stroke="#999" stroke-width="0.5"/>
<text x="279.2" y="191.8" font-size="6.95">Wt-H3</text>
<rect x="271.8" y="194.1" width="5.4" height="5.4" fill="#d9a0ee" stroke="#999" stroke-width="0.5"/>
<text x="279.2" y="199.3" font-size="6.95">H3.1K27M</text>
<rect x="271.8" y="201.6" width="5.4" height="5.4" fill="#f8c48c" stroke="#999" stroke-width="0.5"/>
<text x="279.2" y="206.8" font-size="6.95">H3.3K27M</text>
<text x="271.8" y="220.6" font-size="6.8" font-weight="bold" fill="#111">Alterations</text>
<rect x="271.8" y="223.9" width="5.4" height="5.4" fill="#0000f0"/>
<text x="279.2" y="229.1" font-size="6.95">Missense variant</text>
<rect x="271.8" y="231.85" width="5.4" height="5.4" fill="#f00000"/>
<text x="279.2" y="237.05" font-size="6.95">Copy number deletion</text>
<rect x="271.8" y="239.8" width="5.4" height="5.4" fill="#ffff00"/>
<text x="279.2" y="245" font-size="6.95">Copy number amplification</text>
<rect x="271.8" y="247.75" width="5.4" height="5.4" fill="#008000"/>
<text x="279.2" y="252.95" font-size="6.95">Stop gained</text>
<rect x="271.8" y="255.7" width="5.4" height="5.4" fill="#9a10d8"/>
<text x="279.2" y="260.9" font-size="6.95">Inframe deletion</text>
<rect x="271.8" y="263.65" width="5.4" height="5.4" fill="#f88010"/>
<text x="279.2" y="268.85" font-size="6.95">Splice donor variant</text>
<rect x="271.8" y="271.6" width="5.4" height="5.4" fill="#f050d8"/>
<text x="279.2" y="276.8" font-size="6.95">Frameshift variant</text>
<text x="271.8" y="294" font-size="6.75" font-weight="bold" fill="#111">ONC201 Sensitivity (AUC)</text>
<defs><linearGradient id="gL" x1="0" y1="0" x2="1" y2="0"><stop offset="0" stop-color="#1cb4e8"/><stop offset="0.5" stop-color="#ffffff"/><stop offset="1" stop-color="#ff1ee6"/></linearGradient></defs>
<rect x="283.2" y="296.4" width="39" height="7.2" fill="url(#gL)" stroke="#777" stroke-width="0.5"/>
<text x="283" y="302.6" font-size="6.9" text-anchor="end" fill="#333">Low</text>
<text x="322.6" y="302.6" font-size="6.9" fill="#333">High</text>
<line x1="285" y1="303.6" x2="285" y2="305.4" stroke="#333" stroke-width="0.6"/>
<text x="285" y="313.2" font-size="6.1" text-anchor="middle">800</text>
<line x1="303.2" y1="303.6" x2="303.2" y2="305.4" stroke="#333" stroke-width="0.6"/>
<text x="303.2" y="313.2" font-size="6.1" text-anchor="middle">1,150</text>
<line x1="320" y1="303.6" x2="320" y2="305.4" stroke="#333" stroke-width="0.6"/>
<text x="320" y="313.2" font-size="6.1" text-anchor="middle">1,500</text>
<text x="370.4" y="135.8" font-size="12" font-weight="bold" fill="#000">E</text>
<line x1="398.2" y1="136.8" x2="398.2" y2="216" stroke="#000" stroke-width="1.4"/>
<line x1="395.4" y1="215.4" x2="398.2" y2="215.4" stroke="#000" stroke-width="1.1"/>
<line x1="395.4" y1="195.9" x2="398.2" y2="195.9" stroke="#000" stroke-width="1.1"/>
<line x1="395.4" y1="176.4" x2="398.2" y2="176.4" stroke="#000" stroke-width="1.1"/>
<line x1="395.4" y1="156.9" x2="398.2" y2="156.9" stroke="#000" stroke-width="1.1"/>
<line x1="395.4" y1="137.4" x2="398.2" y2="137.4" stroke="#000" stroke-width="1.1"/>
<text x="394.6" y="218" font-size="7.4" text-anchor="end">0</text>
<text x="394.6" y="198.5" font-size="7.4" text-anchor="end">5</text>
<text x="394.6" y="179" font-size="7.4" text-anchor="end">10</text>
<text x="394.6" y="159.5" font-size="7.4" text-anchor="end">15</text>
<text x="394.6" y="140" font-size="7.4" text-anchor="end">20</text>
<line x1="397.5" y1="215.4" x2="437.6" y2="215.4" stroke="#000" stroke-width="1.4"/>
<line x1="408.2" y1="215.4" x2="408.2" y2="219.2" stroke="#000" stroke-width="1.2"/>
<line x1="418.1" y1="215.4" x2="418.1" y2="219.2" stroke="#000" stroke-width="1.2"/>
<line x1="428" y1="215.4" x2="428" y2="219.2" stroke="#000" stroke-width="1.2"/>
<text x="382" y="176.5" font-size="7.9" text-anchor="middle" transform="rotate(-90 382 176.5)">ONC201 AUC (x10<tspan dy="-3" font-size="5">3</tspan><tspan dy="3">)</tspan></text>
<line x1="404.4" y1="172.11" x2="412" y2="172.11" stroke="#222" stroke-width="0.9"/>
<line x1="408.2" y1="170.94" x2="408.2" y2="173.28" stroke="#222" stroke-width="0.7"/>
<line x1="406.4" y1="170.94" x2="410" y2="170.94" stroke="#222" stroke-width="0.7"/>
<line x1="406.4" y1="173.28" x2="410" y2="173.28" stroke="#222" stroke-width="0.7"/>
<circle cx="406" cy="171.33" r="1.4" fill="#a0104a" stroke="#700b33" stroke-width="0.4"/>
<circle cx="405.6" cy="172.89" r="1.4" fill="#8a2050" stroke="#601638" stroke-width="0.4"/>
<circle cx="410.4" cy="172.5" r="1.4" fill="#22b02e" stroke="#177b20" stroke-width="0.4"/>
<circle cx="411" cy="173.28" r="1.4" fill="#22b02e" stroke="#177b20" stroke-width="0.4"/>
<polygon points="408.8,164.08 410.2,165.48 408.8,166.88 407.4,165.48" fill="#000" stroke="#000000" stroke-width="0.4"/>
<line x1="414.3" y1="194.34" x2="421.9" y2="194.34" stroke="#222" stroke-width="0.9"/>
<line x1="418.1" y1="190.44" x2="418.1" y2="198.24" stroke="#222" stroke-width="0.7"/>
<line x1="416.3" y1="190.44" x2="419.9" y2="190.44" stroke="#222" stroke-width="0.7"/>
<line x1="416.3" y1="198.24" x2="419.9" y2="198.24" stroke="#222" stroke-width="0.7"/>
<rect x="416.9" y="181.83" width="2.4" height="2.4" fill="#e2568e" stroke="#9e3c63" stroke-width="0.4"/>
<rect x="415.1" y="194.31" width="2.4" height="2.4" fill="#eeea10" stroke="#c8a020" stroke-width="0.4"/>
<rect x="417.9" y="194.7" width="2.4" height="2.4" fill="#22b02e" stroke="#177b20" stroke-width="0.4"/>
<rect x="419.1" y="196.26" width="2.4" height="2.4" fill="#d41212" stroke="#940c0c" stroke-width="0.4"/>
<rect x="417.2" y="198.21" width="2.4" height="2.4" fill="#e8661a" stroke="#a24712" stroke-width="0.4"/>
<rect x="415.9" y="196.65" width="2.4" height="2.4" fill="#d41212" stroke="#940c0c" stroke-width="0.4"/>
<line x1="424.2" y1="174.06" x2="431.8" y2="174.06" stroke="#222" stroke-width="0.9"/>
<line x1="428" y1="168.21" x2="428" y2="179.91" stroke="#222" stroke-width="0.7"/>
<line x1="426.2" y1="168.21" x2="429.8" y2="168.21" stroke="#222" stroke-width="0.7"/>
<line x1="426.2" y1="179.91" x2="429.8" y2="179.91" stroke="#222" stroke-width="0.7"/>
<polygon points="425.5,154.47 427.15,157.38 423.85,157.38" fill="#cc5cc0" stroke="#8e4086" stroke-width="0.4"/>
<polygon points="430.5,156.03 432.15,158.94 428.85,158.94" fill="#3fb3a0" stroke="#2c7d70" stroke-width="0.4"/>
<polygon points="427.5,163.83 429.15,166.74 425.85,166.74" fill="#1515b0" stroke="#0e0e7b" stroke-width="0.4"/>
<polygon points="425.4,175.14 427.05,178.05 423.75,178.05" fill="#8a92a4" stroke="#606672" stroke-width="0.4"/>
<polygon points="430.6,175.14 432.25,178.05 428.95,178.05" fill="#8222b4" stroke="#5b177d" stroke-width="0.4"/>
<polygon points="428,185.28 429.65,188.19 426.35,188.19" fill="#726342" stroke="#4f452e" stroke-width="0.4"/>
<polygon points="428,200.49 429.65,203.4 426.35,203.4" fill="#4a82d4" stroke="#335b94" stroke-width="0.4"/>
<text x="411" y="226.9" font-size="6.9" text-anchor="end" transform="rotate(-45 411 226.9)">wt H3</text>
<text x="420.9" y="226.9" font-size="6.9" text-anchor="end" transform="rotate(-45 420.9 226.9)">H3.1K27M</text>
<text x="430.8" y="226.9" font-size="6.9" text-anchor="end" transform="rotate(-45 430.8 226.9)">H3.3K27M</text>
<text x="450.2" y="135.5" font-size="12" font-weight="bold" fill="#000">F</text>
<text x="503.5" y="133.2" font-size="7.6" text-anchor="middle" font-weight="bold" fill="#111">Res259</text>
<line x1="479.8" y1="137.7" x2="479.8" y2="215.8" stroke="#000" stroke-width="1.4"/>
<line x1="477" y1="215.2" x2="479.8" y2="215.2" stroke="#000" stroke-width="1.1"/>
<line x1="477" y1="202.4" x2="479.8" y2="202.4" stroke="#000" stroke-width="1.1"/>
<line x1="477" y1="189.6" x2="479.8" y2="189.6" stroke="#000" stroke-width="1.1"/>
<line x1="477" y1="176.8" x2="479.8" y2="176.8" stroke="#000" stroke-width="1.1"/>
<line x1="477" y1="164" x2="479.8" y2="164" stroke="#000" stroke-width="1.1"/>
<line x1="477" y1="151.2" x2="479.8" y2="151.2" stroke="#000" stroke-width="1.1"/>
<line x1="477" y1="138.4" x2="479.8" y2="138.4" stroke="#000" stroke-width="1.1"/>
<text x="476.2" y="217.8" font-size="7.4" text-anchor="end">0</text>
<text x="476.2" y="205" font-size="7.4" text-anchor="end">2</text>
<text x="476.2" y="192.2" font-size="7.4" text-anchor="end">4</text>
<text x="476.2" y="179.4" font-size="7.4" text-anchor="end">6</text>
<text x="476.2" y="166.6" font-size="7.4" text-anchor="end">8</text>
<text x="476.2" y="153.8" font-size="7.4" text-anchor="end">10</text>
<text x="476.2" y="141" font-size="7.4" text-anchor="end">12</text>
<line x1="479.1" y1="215.2" x2="520" y2="215.2" stroke="#000" stroke-width="1.4"/>
<line x1="492.2" y1="215.2" x2="492.2" y2="219" stroke="#000" stroke-width="1.2"/>
<line x1="508.2" y1="215.2" x2="508.2" y2="219" stroke="#000" stroke-width="1.2"/>
<text x="461.6" y="176.5" font-size="7.9" text-anchor="middle" transform="rotate(-90 461.6 176.5)">ONC201 AUC (x10<tspan dy="-3" font-size="5">3</tspan><tspan dy="3">)</tspan></text>
<line x1="488.4" y1="160.03" x2="496" y2="160.03" stroke="#222" stroke-width="0.9"/>
<polygon points="490.6,156.75 492.08,159.37 489.11,159.37" fill="#22b02e" stroke="#128020" stroke-width="0.4"/>
<polygon points="493.8,157.39 495.29,160.01 492.31,160.01" fill="#22b02e" stroke="#128020" stroke-width="0.4"/>
<polygon points="492.2,160.59 493.69,163.21 490.71,163.21" fill="#22b02e" stroke="#128020" stroke-width="0.4"/>
<polygon points="489.8,158.67 491.29,161.29 488.31,161.29" fill="#22b02e" stroke="#128020" stroke-width="0.4"/>
<polygon points="494.6,158.67 496.08,161.29 493.11,161.29" fill="#22b02e" stroke="#128020" stroke-width="0.4"/>
<polygon points="492.7,162.51 494.19,165.13 491.21,165.13" fill="#22b02e" stroke="#128020" stroke-width="0.4"/>
<line x1="502.4" y1="171.49" x2="514.2" y2="171.49" stroke="#222" stroke-width="0.8"/>
<circle cx="505" cy="171.49" r="1" fill="#c02040" stroke="#86162c" stroke-width="0.5"/>
<circle cx="508.2" cy="171.49" r="1" fill="#c02040" stroke="#86162c" stroke-width="0.5"/>
<circle cx="511.4" cy="171.49" r="1" fill="#c02040" stroke="#86162c" stroke-width="0.5"/>
<polyline points="492.2,152.9 492.2,147 508.2,147 508.2,164.6" fill="none" stroke="#111" stroke-width="0.9"/>
<text x="500.3" y="148.2" font-size="10.5" text-anchor="middle" font-weight="bold" fill="#111">*</text>
<text x="494.5" y="225.6" font-size="6.9" text-anchor="end" transform="rotate(-45 494.5 225.6)">H3.1 K27M</text>
<text x="510.5" y="225.6" font-size="6.9" text-anchor="end" transform="rotate(-45 510.5 225.6)">H3.3 K27M</text>
<text x="386.6" y="268.4" font-size="12" font-weight="bold" fill="#000">G</text>
<text x="431.2" y="265.4" font-size="7.6" font-weight="bold" fill="#111">Res259</text>
<text x="397.2" y="299.2" font-size="7.6">kDa</text>
<text x="425" y="305.4" font-size="7.6" transform="rotate(-90 425 305.4)">NTC</text>
<text x="437.3" y="305.4" font-size="7.6" transform="rotate(-90 437.3 305.4)">H3.1K27M</text>
<text x="452.2" y="305.4" font-size="7.6" transform="rotate(-90 452.2 305.4)">NTC</text>
<text x="464.5" y="305.4" font-size="7.6" transform="rotate(-90 464.5 305.4)">H3.3K27M</text>
<defs><filter id="bb" x="-20%" y="-100%" width="140%" height="300%"><feGaussianBlur stdDeviation="0.6"/></filter></defs>
<rect x="416.2" y="307.4" width="25.8" height="13.8" fill="#e4e4e4" stroke="#4a4a4a" stroke-width="0.8"/>
<rect x="443.8" y="307.4" width="25.9" height="13.8" fill="#e4e4e4" stroke="#4a4a4a" stroke-width="0.8"/>
<line x1="411.4" y1="308.6" x2="416" y2="308.6" stroke="#333" stroke-width="0.7"/>
<rect x="416.2" y="323" width="25.8" height="12.8" fill="#e4e4e4" stroke="#4a4a4a" stroke-width="0.8"/>
<rect x="443.8" y="323" width="25.9" height="12.8" fill="#e4e4e4" stroke="#4a4a4a" stroke-width="0.8"/>
<line x1="411.4" y1="324.2" x2="416" y2="324.2" stroke="#333" stroke-width="0.7"/>
<rect x="416.2" y="337.4" width="25.8" height="12.2" fill="#e4e4e4" stroke="#4a4a4a" stroke-width="0.8"/>
<rect x="443.8" y="337.4" width="25.9" height="12.2" fill="#e4e4e4" stroke="#4a4a4a" stroke-width="0.8"/>
<line x1="411.4" y1="338.6" x2="416" y2="338.6" stroke="#333" stroke-width="0.7"/>
<text x="410" y="311.4" font-size="7.9" text-anchor="end">20</text>
<text x="410" y="325.6" font-size="7.9" text-anchor="end">20</text>
<text x="410" y="340" font-size="7.9" text-anchor="end">20</text>
<g filter="url(#bb)">
<rect x="429.3" y="314.2" width="10.2" height="3" fill="#111"/>
<rect x="457.4" y="313" width="11" height="2.6" fill="#2a2a2a"/>
<rect x="417" y="328.6" width="10.8" height="3.2" fill="#0a0a0a"/>
<rect x="430.5" y="329.6" width="6" height="1.4" fill="#c4c4c4"/>
<rect x="444.8" y="328.8" width="10.4" height="2.8" fill="#111"/>
<rect x="417" y="341.8" width="11" height="3.6" fill="#6a6a6a"/>
<rect x="430" y="341.8" width="11" height="3.6" fill="#707070"/>
<rect x="444.6" y="341.8" width="11.4" height="3.6" fill="#4a4a4a"/>
<rect x="457.5" y="341.8" width="11" height="3.6" fill="#505050"/>
</g>
<text x="472.6" y="317" font-size="7.9">H3K27M</text>
<text x="472.6" y="332.2" font-size="7.9">H3K27me3</text>
<text x="472.6" y="346.2" font-size="7.9">H4</text>
<text x="0.8" y="376.2" font-size="12" font-weight="bold" fill="#000">H</text>
<line x1="36.8" y1="387.4" x2="36.8" y2="465.8" stroke="#000" stroke-width="1.4"/>
<line x1="34" y1="465.2" x2="36.8" y2="465.2" stroke="#000" stroke-width="1.1"/>
<line x1="34" y1="445.8" x2="36.8" y2="445.8" stroke="#000" stroke-width="1.1"/>
<line x1="34" y1="426.4" x2="36.8" y2="426.4" stroke="#000" stroke-width="1.1"/>
<line x1="34" y1="407" x2="36.8" y2="407" stroke="#000" stroke-width="1.1"/>
<line x1="34" y1="387.6" x2="36.8" y2="387.6" stroke="#000" stroke-width="1.1"/>
<text x="33.2" y="467.8" font-size="7.4" text-anchor="end">0</text>
<text x="33.2" y="448.4" font-size="7.4" text-anchor="end">5</text>
<text x="33.2" y="429" font-size="7.4" text-anchor="end">10</text>
<text x="33.2" y="409.6" font-size="7.4" text-anchor="end">15</text>
<text x="33.2" y="390.2" font-size="7.4" text-anchor="end">20</text>
<line x1="36.1" y1="465.2" x2="70.2" y2="465.2" stroke="#000" stroke-width="1.4"/>
<line x1="47.6" y1="465.2" x2="47.6" y2="469" stroke="#000" stroke-width="1.2"/>
<line x1="59" y1="465.2" x2="59" y2="469" stroke="#000" stroke-width="1.2"/>
<text x="18.2" y="426.5" font-size="7.9" text-anchor="middle" transform="rotate(-90 18.2 426.5)">ONC201 AUC (x10<tspan dy="-3" font-size="5">3</tspan><tspan dy="3">)</tspan></text>
<polyline points="48,430.8 48,395.2 59.3,395.2 59.3,406.5" fill="none" stroke="#111" stroke-width="0.9"/>
<text x="53.9" y="395.2" font-size="10.5" text-anchor="middle" font-weight="bold" fill="#111">*</text>
<line x1="44" y1="446.19" x2="51.2" y2="446.19" stroke="#222" stroke-width="0.9"/>
<line x1="47.6" y1="443.47" x2="47.6" y2="448.9" stroke="#222" stroke-width="0.7"/>
<line x1="45.8" y1="443.47" x2="49.4" y2="443.47" stroke="#222" stroke-width="0.7"/>
<line x1="45.8" y1="448.9" x2="49.4" y2="448.9" stroke="#222" stroke-width="0.7"/>
<polygon points="47.6,435.34 49.14,438.05 46.06,438.05" fill="#4a82d4" stroke="#335b94" stroke-width="0.4"/>
<polygon points="45.8,442.71 47.34,445.42 44.26,445.42" fill="#cc5cc0" stroke="#8e4086" stroke-width="0.4"/>
<circle cx="48.1" cy="446.19" r="1.4" fill="#c01030" stroke="#860b21" stroke-width="0.4"/>
<rect x="48.68" y="447.78" width="2.24" height="2.24" fill="#d41212" stroke="#940c0c" stroke-width="0.4"/>
<circle cx="47.1" cy="447.35" r="1.4" fill="#a0104a" stroke="#700b33" stroke-width="0.4"/>
<polygon points="44.6,450.08 46.14,452.8 43.06,452.8" fill="#8a92a4" stroke="#606672" stroke-width="0.4"/>
<rect x="49.68" y="448.17" width="2.24" height="2.24" fill="#e8661a" stroke="#a24712" stroke-width="0.4"/>
<line x1="55.4" y1="423.3" x2="62.6" y2="423.3" stroke="#222" stroke-width="0.9"/>
<line x1="59" y1="419.42" x2="59" y2="427.18" stroke="#222" stroke-width="0.7"/>
<line x1="57.2" y1="419.42" x2="60.8" y2="419.42" stroke="#222" stroke-width="0.7"/>
<line x1="57.2" y1="427.18" x2="60.8" y2="427.18" stroke="#222" stroke-width="0.7"/>
<polygon points="56.2,406.18 57.8,408.99 54.61,408.99" fill="#3fb3a0" stroke="#2c7d70" stroke-width="0.4"/>
<polygon points="62,404.63 63.59,407.44 60.41,407.44" fill="#cc5cc0" stroke="#8e4086" stroke-width="0.4"/>
<polygon points="59.5,413.94 61.09,416.75 57.91,416.75" fill="#1515b0" stroke="#0e0e7b" stroke-width="0.4"/>
<circle cx="56.4" cy="423.3" r="1.45" fill="#22b02e" stroke="#177b20" stroke-width="0.4"/>
<circle cx="62" cy="421.36" r="1.45" fill="#a0104a" stroke="#700b33" stroke-width="0.4"/>
<polygon points="62,424.8 63.59,427.62 60.41,427.62" fill="#8222b4" stroke="#5b177d" stroke-width="0.4"/>
<polygon points="57.8,427.91 59.39,430.72 56.2,430.72" fill="#726342" stroke="#4f452e" stroke-width="0.4"/>
<rect x="59.44" y="431.84" width="2.32" height="2.32" fill="#e2568e" stroke="#9e3c63" stroke-width="0.4"/>
<rect x="58.64" y="444.64" width="2.32" height="2.32" fill="#fbf6a0" stroke="#d8c020" stroke-width="0.4"/>
<text x="49.4" y="475.6" font-size="6.9" text-anchor="end" transform="rotate(-45 49.4 475.6)"><tspan font-style="italic">TP53</tspan> wildtype</text>
<text x="60.8" y="475.6" font-size="6.9" text-anchor="end" transform="rotate(-45 60.8 475.6)"><tspan font-style="italic">TP53</tspan> mutant</text>
<text x="72.6" y="376" font-size="10.5" font-weight="bold" fill="#000">I</text>
<text x="86" y="367.6" font-size="7.75" font-weight="bold" fill="#111">HSJD-DIPG-007</text>
<line x1="102.5" y1="387.4" x2="102.5" y2="465.6" stroke="#000" stroke-width="1.4"/>
<line x1="99.7" y1="465" x2="102.5" y2="465" stroke="#000" stroke-width="1.1"/>
<line x1="99.7" y1="452.1" x2="102.5" y2="452.1" stroke="#000" stroke-width="1.1"/>
<line x1="99.7" y1="439.2" x2="102.5" y2="439.2" stroke="#000" stroke-width="1.1"/>
<line x1="99.7" y1="426.3" x2="102.5" y2="426.3" stroke="#000" stroke-width="1.1"/>
<line x1="99.7" y1="413.4" x2="102.5" y2="413.4" stroke="#000" stroke-width="1.1"/>
<line x1="99.7" y1="400.5" x2="102.5" y2="400.5" stroke="#000" stroke-width="1.1"/>
<line x1="99.7" y1="387.6" x2="102.5" y2="387.6" stroke="#000" stroke-width="1.1"/>
<text x="98.9" y="467.6" font-size="7.4" text-anchor="end">0</text>
<text x="98.9" y="454.7" font-size="7.4" text-anchor="end">2</text>
<text x="98.9" y="441.8" font-size="7.4" text-anchor="end">4</text>
<text x="98.9" y="428.9" font-size="7.4" text-anchor="end">6</text>
<text x="98.9" y="416" font-size="7.4" text-anchor="end">8</text>
<text x="98.9" y="403.1" font-size="7.4" text-anchor="end">10</text>
<text x="98.9" y="390.2" font-size="7.4" text-anchor="end">12</text>
<line x1="101.8" y1="465" x2="142.5" y2="465" stroke="#000" stroke-width="1.4"/>
<line x1="112.1" y1="465" x2="112.1" y2="468.8" stroke="#000" stroke-width="1.2"/>
<line x1="123.5" y1="465" x2="123.5" y2="468.8" stroke="#000" stroke-width="1.2"/>
<line x1="133.2" y1="465" x2="133.2" y2="468.8" stroke="#000" stroke-width="1.2"/>
<text x="84.3" y="426.5" font-size="7.9" text-anchor="middle" transform="rotate(-90 84.3 426.5)">ONC201 AUC (x10<tspan dy="-3" font-size="5">3</tspan><tspan dy="3">)</tspan></text>
<polyline points="112.3,444.2 112.3,408.4 123.2,408.4 123.2,414.6" fill="none" stroke="#111" stroke-width="0.9"/>
<polyline points="112.3,403.7 112.3,393.2 132.8,393.2 132.8,398.2" fill="none" stroke="#111" stroke-width="0.9"/>
<text x="117.5" y="409" font-size="10.5" text-anchor="middle" font-weight="bold" fill="#111">*</text>
<text x="122.5" y="394" font-size="10.5" text-anchor="middle" font-weight="bold" fill="#111">**</text>
<line x1="108.3" y1="455.32" x2="115.9" y2="455.32" stroke="#2a64c0" stroke-width="0.9"/>
<line x1="112.1" y1="453.71" x2="112.1" y2="456.94" stroke="#2a64c0" stroke-width="0.7"/>
<line x1="110.3" y1="453.71" x2="113.9" y2="453.71" stroke="#2a64c0" stroke-width="0.7"/>
<line x1="110.3" y1="456.94" x2="113.9" y2="456.94" stroke="#2a64c0" stroke-width="0.7"/>
<rect x="111.14" y="449.21" width="1.92" height="1.92" fill="#6a9ee0" stroke="#3a70c0" stroke-width="0.4"/>
<rect x="109.94" y="452.43" width="1.92" height="1.92" fill="#6a9ee0" stroke="#3a70c0" stroke-width="0.4"/>
<rect x="112.14" y="455.01" width="1.92" height="1.92" fill="#6a9ee0" stroke="#3a70c0" stroke-width="0.4"/>
<rect x="110.64" y="456.3" width="1.92" height="1.92" fill="#6a9ee0" stroke="#3a70c0" stroke-width="0.4"/>
<rect x="111.54" y="453.72" width="1.92" height="1.92" fill="#6a9ee0" stroke="#3a70c0" stroke-width="0.4"/>
<line x1="119.6" y1="425.65" x2="126.8" y2="425.65" stroke="#333" stroke-width="0.9"/>
<line x1="123.2" y1="422.75" x2="123.2" y2="428.56" stroke="#333" stroke-width="0.7"/>
<line x1="121.4" y1="422.75" x2="125" y2="422.75" stroke="#333" stroke-width="0.7"/>
<line x1="121.4" y1="428.56" x2="125" y2="428.56" stroke="#333" stroke-width="0.7"/>
<polygon points="121.8,418.95 123.34,421.67 120.26,421.67" fill="#e4e0ec" stroke="#555" stroke-width="0.5"/>
<polygon points="124.8,421.53 126.34,424.25 123.26,424.25" fill="#e4e0ec" stroke="#555" stroke-width="0.5"/>
<polygon points="123.4,425.4 124.94,428.12 121.86,428.12" fill="#e4e0ec" stroke="#555" stroke-width="0.5"/>
<polygon points="123,433.79 124.54,436.51 121.46,436.51" fill="#e4e0ec" stroke="#555" stroke-width="0.5"/>
<line x1="129.6" y1="404.69" x2="136" y2="404.69" stroke="#c02050" stroke-width="0.9"/>
<rect x="129.66" y="404.62" width="2.08" height="2.08" fill="#d02a6a" stroke="#a01040" stroke-width="0.4"/>
<rect x="131.86" y="402.69" width="2.08" height="2.08" fill="#d02a6a" stroke="#a01040" stroke-width="0.4"/>
<rect x="133.86" y="403.33" width="2.08" height="2.08" fill="#d02a6a" stroke="#a01040" stroke-width="0.4"/>
<rect x="132.86" y="404.62" width="2.08" height="2.08" fill="#d02a6a" stroke="#a01040" stroke-width="0.4"/>
<text x="113.9" y="475" font-size="6.9" text-anchor="end" transform="rotate(-45 113.9 475)">NTC</text>
<text x="125.3" y="475" font-size="6.9" text-anchor="end" transform="rotate(-45 125.3 475)"><tspan font-style="italic">TP53</tspan>-KD</text>
<text x="135" y="475" font-size="6.9" text-anchor="end" transform="rotate(-45 135 475)"><tspan font-style="italic">TP53</tspan>-KO</text>
<text x="163" y="376.6" font-size="12" font-weight="bold" fill="#000">J</text>
<text x="179.9" y="383.5" font-size="7.6">kDa</text>
<text x="210.3" y="382.6" font-size="7.6" transform="rotate(-90 210.3 382.6)">NTC</text>
<text x="223.3" y="382.6" font-size="7.6" transform="rotate(-90 223.3 382.6)">KO</text>
<text x="236.2" y="382.6" font-size="7.6" transform="rotate(-90 236.2 382.6)">KD</text>
<rect x="200.4" y="383.9" width="40.3" height="11.4" fill="#e6e6e6" stroke="#4a4a4a" stroke-width="0.8"/>
<rect x="200.4" y="397.3" width="40.3" height="11.2" fill="#e2e2e2" stroke="#4a4a4a" stroke-width="0.8"/>
<line x1="195.2" y1="392" x2="200.2" y2="392" stroke="#333" stroke-width="0.7"/>
<line x1="195.2" y1="408.4" x2="200.2" y2="408.4" stroke="#333" stroke-width="0.7"/>
<text x="192.6" y="394.8" font-size="7.6" text-anchor="end">50</text>
<text x="192.6" y="411.2" font-size="7.6" text-anchor="end">37</text>
<g filter="url(#bb)">
<rect x="202" y="388.3" width="11.2" height="2.7" fill="#111"/>
<rect x="229.6" y="389.3" width="9.4" height="2.3" fill="#333"/>
<rect x="201.2" y="402.1" width="12.4" height="3.8" fill="#0c0c0c"/>
<rect x="214.6" y="402.1" width="11.8" height="3.8" fill="#0c0c0c"/>
<rect x="227.2" y="402.1" width="12.6" height="3.8" fill="#0c0c0c"/>
</g>
<text x="243.4" y="392.9" font-size="8.4">TP53</text>
<text x="243.4" y="406.7" font-size="8.4">ACTB</text>
<text x="154.6" y="434.6" font-size="12" font-weight="bold" fill="#000">K</text>
<text x="222" y="425.6" font-size="7.75" text-anchor="middle" font-weight="bold" fill="#111">HSJD-DIPG-007</text>
<text x="195.7" y="441.6" font-size="7.9" text-anchor="middle">NTC</text>
<text x="221.5" y="441.6" font-size="7.9" text-anchor="middle">KD</text>
<text x="247" y="441.6" font-size="7.9" text-anchor="middle">KO</text>
<text x="189.7" y="448" font-size="8" text-anchor="middle" fill="#000">-</text>
<text x="203" y="448" font-size="8" text-anchor="middle" fill="#000">+</text>
<text x="215" y="448" font-size="8" text-anchor="middle" fill="#000">-</text>
<text x="228.5" y="448" font-size="8" text-anchor="middle" fill="#000">+</text>
<text x="241.2" y="448" font-size="8" text-anchor="middle" fill="#000">-</text>
<text x="255" y="448" font-size="8" text-anchor="middle" fill="#000">+</text>
<text x="261.6" y="448" font-size="7.9">ONC201</text>
<text x="165" y="450" font-size="7.6">kDa</text>
<rect x="181.8" y="449.6" width="79.4" height="12.2" fill="#e8e8e8" stroke="#4a4a4a" stroke-width="0.8"/>
<rect x="181.8" y="463.6" width="79.4" height="10" fill="#e4e4e4" stroke="#4a4a4a" stroke-width="0.8"/>
<line x1="177" y1="461.2" x2="181.6" y2="461.2" stroke="#333" stroke-width="0.7"/>
<line x1="177" y1="474.4" x2="181.6" y2="474.4" stroke="#333" stroke-width="0.7"/>
<text x="176" y="464" font-size="7.6" text-anchor="end">75</text>
<text x="176" y="477.6" font-size="7.6" text-anchor="end">37</text>
<g filter="url(#bb)">
<rect x="183.9" y="452.1" width="11.6" height="1.7" fill="#888"/>
<rect x="197.2" y="452.1" width="11.6" height="1.7" fill="#999"/>
<rect x="209.2" y="452.1" width="11.6" height="1.7" fill="#222"/>
<rect x="222.7" y="452.1" width="11.6" height="1.7" fill="#3a3a3a"/>
<rect x="235.4" y="452.1" width="11.6" height="1.7" fill="#2a2a2a"/>
<rect x="249.2" y="452.1" width="11.6" height="1.7" fill="#2c2c2c"/>
<rect x="196.8" y="457.6" width="10" height="1.7" fill="#333"/>
<rect x="223.5" y="457.8" width="9" height="1" fill="#bbb"/>
<rect x="183.2" y="468.2" width="76.6" height="2.4" fill="#111"/>
</g>
<text x="265.3" y="455.8" font-size="8.2">PARP</text>
<text x="265.3" y="461.8" font-size="8.2">cPARP</text>
<text x="265.3" y="472.2" font-size="8.2">ACTB</text>
<text x="291.6" y="375.8" font-size="12" font-weight="bold" fill="#000">L</text>
<text x="306.8" y="364.4" font-size="7.75" font-weight="bold" fill="#111">HSJD-DIPG-007</text>
<line x1="329" y1="387.2" x2="329" y2="465.8" stroke="#000" stroke-width="1.4"/>
<line x1="326.2" y1="465.2" x2="329" y2="465.2" stroke="#000" stroke-width="1.1"/>
<line x1="326.2" y1="445.8" x2="329" y2="445.8" stroke="#000" stroke-width="1.1"/>
<line x1="326.2" y1="426.4" x2="329" y2="426.4" stroke="#000" stroke-width="1.1"/>
<line x1="326.2" y1="407" x2="329" y2="407" stroke="#000" stroke-width="1.1"/>
<line x1="326.2" y1="387.6" x2="329" y2="387.6" stroke="#000" stroke-width="1.1"/>
<text x="325.4" y="467.8" font-size="7.4" text-anchor="end">0.0</text>
<text x="325.4" y="448.4" font-size="7.4" text-anchor="end">0.5</text>
<text x="325.4" y="429" font-size="7.4" text-anchor="end">1.0</text>
<text x="325.4" y="409.6" font-size="7.4" text-anchor="end">1.5</text>
<text x="325.4" y="390.2" font-size="7.4" text-anchor="end">2.0</text>
<line x1="328.3" y1="465.2" x2="368" y2="465.2" stroke="#000" stroke-width="1.4"/>
<line x1="337.7" y1="465.2" x2="337.7" y2="469" stroke="#000" stroke-width="1.2"/>
<line x1="348.3" y1="465.2" x2="348.3" y2="469" stroke="#000" stroke-width="1.2"/>
<line x1="358.8" y1="465.2" x2="358.8" y2="469" stroke="#000" stroke-width="1.2"/>
<text x="308" y="426.5" font-size="7.9" text-anchor="middle" transform="rotate(-90 308 426.5)">Nutlin-3 AUC (x10<tspan dy="-3" font-size="5">3</tspan><tspan dy="3">)</tspan></text>
<polyline points="337.5,439.2 337.5,398.6 348.4,398.6 348.4,401.8" fill="none" stroke="#111" stroke-width="0.9"/>
<polyline points="337.5,389 337.5,377.3 359.2,377.3 359.2,381.4" fill="none" stroke="#111" stroke-width="0.9"/>
<polyline points="348.4,390 348.4,386.6 359.2,386.6 359.2,390" fill="none" stroke="#111" stroke-width="0.9"/>
<text x="348.7" y="379" font-size="10.5" text-anchor="middle" font-weight="bold" fill="#111">****</text>
<text x="353.3" y="388.1" font-size="10.5" text-anchor="middle" font-weight="bold" fill="#111">**</text>
<text x="342.8" y="399.6" font-size="10.5" text-anchor="middle" font-weight="bold" fill="#111">****</text>
<line x1="334.6" y1="446.19" x2="340.8" y2="446.19" stroke="#2a64c0" stroke-width="0.9"/>
<rect x="334.82" y="446.08" width="1.76" height="1.76" fill="#6a9ee0" stroke="#3a70c0" stroke-width="0.4"/>
<rect x="336.82" y="444.92" width="1.76" height="1.76" fill="#6a9ee0" stroke="#3a70c0" stroke-width="0.4"/>
<rect x="338.72" y="445.31" width="1.76" height="1.76" fill="#6a9ee0" stroke="#3a70c0" stroke-width="0.4"/>
<rect x="337.62" y="444.53" width="1.76" height="1.76" fill="#6a9ee0" stroke="#3a70c0" stroke-width="0.4"/>
<line x1="345.2" y1="407.78" x2="351.4" y2="407.78" stroke="#5a4a7a" stroke-width="0.9"/>
<polygon points="346.5,406.95 347.71,409.09 345.29,409.09" fill="#b0a0d0" stroke="#6a5a90" stroke-width="0.4"/>
<polygon points="348.3,406.18 349.51,408.31 347.09,408.31" fill="#b0a0d0" stroke="#6a5a90" stroke-width="0.4"/>
<polygon points="350.1,406.57 351.31,408.7 348.89,408.7" fill="#b0a0d0" stroke="#6a5a90" stroke-width="0.4"/>
<line x1="355.6" y1="398.46" x2="362" y2="398.46" stroke="#c02050" stroke-width="0.9"/>
<rect x="355.92" y="398.36" width="1.76" height="1.76" fill="#d02a6a" stroke="#a01040" stroke-width="0.4"/>
<rect x="357.92" y="397.2" width="1.76" height="1.76" fill="#d02a6a" stroke="#a01040" stroke-width="0.4"/>
<rect x="359.82" y="397.97" width="1.76" height="1.76" fill="#d02a6a" stroke="#a01040" stroke-width="0.4"/>
<rect x="358.82" y="396.81" width="1.76" height="1.76" fill="#d02a6a" stroke="#a01040" stroke-width="0.4"/>
<text x="339.5" y="475" font-size="6.9" text-anchor="end" transform="rotate(-45 339.5 475)">NTC</text>
<text x="350.1" y="475" font-size="6.9" text-anchor="end" transform="rotate(-45 350.1 475)"><tspan font-style="italic">TP53</tspan>-KD</text>
<text x="360.6" y="475" font-size="6.9" text-anchor="end" transform="rotate(-45 360.6 475)"><tspan font-style="italic">TP53</tspan>-KO</text>
<text x="374.8" y="376.4" font-size="12" font-weight="bold" fill="#000">M</text>
<line x1="405.1" y1="387.5" x2="405.1" y2="465.6" stroke="#000" stroke-width="1.4"/>
<line x1="402.3" y1="465" x2="405.1" y2="465" stroke="#000" stroke-width="1.1"/>
<line x1="402.3" y1="445.7" x2="405.1" y2="445.7" stroke="#000" stroke-width="1.1"/>
<line x1="402.3" y1="426.4" x2="405.1" y2="426.4" stroke="#000" stroke-width="1.1"/>
<line x1="402.3" y1="407.1" x2="405.1" y2="407.1" stroke="#000" stroke-width="1.1"/>
<line x1="402.3" y1="387.8" x2="405.1" y2="387.8" stroke="#000" stroke-width="1.1"/>
<text x="401.5" y="467.6" font-size="7.4" text-anchor="end">0</text>
<text x="401.5" y="448.3" font-size="7.4" text-anchor="end">5</text>
<text x="401.5" y="429" font-size="7.4" text-anchor="end">10</text>
<text x="401.5" y="409.7" font-size="7.4" text-anchor="end">15</text>
<text x="401.5" y="390.4" font-size="7.4" text-anchor="end">20</text>
<line x1="404.4" y1="465" x2="438.9" y2="465" stroke="#000" stroke-width="1.4"/>
<line x1="416.8" y1="465" x2="416.8" y2="468.8" stroke="#000" stroke-width="1.2"/>
<line x1="428" y1="465" x2="428" y2="468.8" stroke="#000" stroke-width="1.2"/>
<text x="386.5" y="426.5" font-size="7.9" text-anchor="middle" transform="rotate(-90 386.5 426.5)">ONC201 AUC (x10<tspan dy="-3" font-size="5">3</tspan><tspan dy="3">)</tspan></text>
<line x1="413" y1="424.08" x2="420.6" y2="424.08" stroke="#222" stroke-width="0.9"/>
<line x1="416.8" y1="419.45" x2="416.8" y2="428.72" stroke="#222" stroke-width="0.7"/>
<line x1="415" y1="419.45" x2="418.6" y2="419.45" stroke="#222" stroke-width="0.7"/>
<line x1="415" y1="428.72" x2="418.6" y2="428.72" stroke="#222" stroke-width="0.7"/>
<polygon points="413.6,406.33 415.14,409.05 412.06,409.05" fill="#3fb3a0" stroke="#2c7d70" stroke-width="0.4"/>
<polygon points="417.2,413.67 418.74,416.38 415.66,416.38" fill="#1515b0" stroke="#0e0e7b" stroke-width="0.4"/>
<circle cx="416.8" cy="423.31" r="1.4" fill="#22b02e" stroke="#177b20" stroke-width="0.4"/>
<polygon points="413.8,427.95 415.34,430.66 412.26,430.66" fill="#726342" stroke="#4f452e" stroke-width="0.4"/>
<polygon points="420,425.25 421.54,427.96 418.46,427.96" fill="#8222b4" stroke="#5b177d" stroke-width="0.4"/>
<polygon points="416.8,435.28 418.34,438 415.26,438" fill="#8a92a4" stroke="#606672" stroke-width="0.4"/>
<rect x="412.88" y="448.05" width="2.24" height="2.24" fill="#e8661a" stroke="#a24712" stroke-width="0.4"/>
<circle cx="417.3" cy="421.38" r="1.4" fill="#a0104a" stroke="#700b33" stroke-width="0.4"/>
<line x1="424.2" y1="439.52" x2="431.8" y2="439.52" stroke="#222" stroke-width="0.9"/>
<line x1="428" y1="433.73" x2="428" y2="445.31" stroke="#222" stroke-width="0.7"/>
<line x1="426.2" y1="433.73" x2="429.8" y2="433.73" stroke="#222" stroke-width="0.7"/>
<line x1="426.2" y1="445.31" x2="429.8" y2="445.31" stroke="#222" stroke-width="0.7"/>
<polygon points="423.2,404.79 424.74,407.5 421.66,407.5" fill="#cc5cc0" stroke="#8e4086" stroke-width="0.4"/>
<circle cx="428" cy="421.38" r="1.4" fill="#8a1040" stroke="#600b2c" stroke-width="0.4"/>
<rect x="426.88" y="431.84" width="2.24" height="2.24" fill="#e2568e" stroke="#9e3c63" stroke-width="0.4"/>
<rect x="424.08" y="444.58" width="2.24" height="2.24" fill="#fbf6a0" stroke="#d8c020" stroke-width="0.4"/>
<circle cx="428.2" cy="446.47" r="1.4" fill="#d41212" stroke="#940c0c" stroke-width="0.4"/>
<rect x="429.88" y="446.12" width="2.24" height="2.24" fill="#d41212" stroke="#940c0c" stroke-width="0.4"/>
<polygon points="428,450.34 429.54,453.05 426.46,453.05" fill="#4a82d4" stroke="#335b94" stroke-width="0.4"/>
<text x="417.4" y="475.4" font-size="6.9" text-anchor="end" transform="rotate(-45 417.4 475.4)">ACVR1 wild-type</text>
<text x="428.8" y="475.4" font-size="6.9" text-anchor="end" transform="rotate(-45 428.8 475.4)">ACVR1 mutant</text>
<text x="449.8" y="376.4" font-size="12" font-weight="bold" fill="#000">N</text>
<line x1="480.1" y1="387.5" x2="480.1" y2="465.5" stroke="#000" stroke-width="1.4"/>
<line x1="477.3" y1="464.9" x2="480.1" y2="464.9" stroke="#000" stroke-width="1.1"/>
<line x1="477.3" y1="445.6" x2="480.1" y2="445.6" stroke="#000" stroke-width="1.1"/>
<line x1="477.3" y1="426.3" x2="480.1" y2="426.3" stroke="#000" stroke-width="1.1"/>
<line x1="477.3" y1="407" x2="480.1" y2="407" stroke="#000" stroke-width="1.1"/>
<line x1="477.3" y1="387.7" x2="480.1" y2="387.7" stroke="#000" stroke-width="1.1"/>
<text x="476.5" y="467.5" font-size="7.4" text-anchor="end">0</text>
<text x="476.5" y="448.2" font-size="7.4" text-anchor="end">5</text>
<text x="476.5" y="428.9" font-size="7.4" text-anchor="end">10</text>
<text x="476.5" y="409.6" font-size="7.4" text-anchor="end">15</text>
<text x="476.5" y="390.3" font-size="7.4" text-anchor="end">20</text>
<line x1="479.4" y1="464.9" x2="513.5" y2="464.9" stroke="#000" stroke-width="1.4"/>
<line x1="490.2" y1="464.9" x2="490.2" y2="468.7" stroke="#000" stroke-width="1.2"/>
<line x1="502.2" y1="464.9" x2="502.2" y2="468.7" stroke="#000" stroke-width="1.2"/>
<text x="461.4" y="426.5" font-size="7.9" text-anchor="middle" transform="rotate(-90 461.4 426.5)">ONC201 AUC (x10<tspan dy="-3" font-size="5">3</tspan><tspan dy="3">)</tspan></text>
<polyline points="490.3,400.8 490.3,395 502.3,395 502.3,426.4" fill="none" stroke="#111" stroke-width="0.9"/>
<text x="496.2" y="394.4" font-size="10.5" text-anchor="middle" font-weight="bold" fill="#111">*</text>
<line x1="486.8" y1="423.6" x2="494.4" y2="423.6" stroke="#222" stroke-width="0.9"/>
<line x1="490.6" y1="419.74" x2="490.6" y2="427.46" stroke="#222" stroke-width="0.7"/>
<line x1="488.8" y1="419.74" x2="492.4" y2="419.74" stroke="#222" stroke-width="0.7"/>
<line x1="488.8" y1="427.46" x2="492.4" y2="427.46" stroke="#222" stroke-width="0.7"/>
<polygon points="487.6,406.23 489.14,408.95 486.06,408.95" fill="#3fb3a0" stroke="#2c7d70" stroke-width="0.4"/>
<polygon points="494.1,404.69 495.64,407.4 492.56,407.4" fill="#cc5cc0" stroke="#8e4086" stroke-width="0.4"/>
<polygon points="491.1,413.57 492.64,416.28 489.56,416.28" fill="#1515b0" stroke="#0e0e7b" stroke-width="0.4"/>
<circle cx="487.6" cy="423.21" r="1.4" fill="#22b02e" stroke="#177b20" stroke-width="0.4"/>
<circle cx="494.2" cy="421.28" r="1.4" fill="#a0104a" stroke="#700b33" stroke-width="0.4"/>
<polygon points="494.2,425.15 495.74,427.86 492.66,427.86" fill="#8222b4" stroke="#5b177d" stroke-width="0.4"/>
<polygon points="487.8,427.85 489.34,430.56 486.26,430.56" fill="#726342" stroke="#4f452e" stroke-width="0.4"/>
<polygon points="490.6,434.8 492.14,437.51 489.06,437.51" fill="#4a82d4" stroke="#335b94" stroke-width="0.4"/>
<rect x="488.48" y="444.09" width="2.24" height="2.24" fill="#fbf6a0" stroke="#d8c020" stroke-width="0.4"/>
<line x1="498.5" y1="445.21" x2="506.1" y2="445.21" stroke="#222" stroke-width="0.9"/>
<line x1="502.3" y1="441.35" x2="502.3" y2="449.07" stroke="#222" stroke-width="0.7"/>
<line x1="500.5" y1="441.35" x2="504.1" y2="441.35" stroke="#222" stroke-width="0.7"/>
<line x1="500.5" y1="449.07" x2="504.1" y2="449.07" stroke="#222" stroke-width="0.7"/>
<rect x="501.68" y="431.74" width="2.24" height="2.24" fill="#e2568e" stroke="#9e3c63" stroke-width="0.4"/>
<circle cx="502.3" cy="446.37" r="1.4" fill="#d41212" stroke="#940c0c" stroke-width="0.4"/>
<polygon points="499.5,450.24 501.04,452.95 497.96,452.95" fill="#4a82d4" stroke="#335b94" stroke-width="0.4"/>
<circle cx="505.5" cy="449.07" r="1.4" fill="#e8661a" stroke="#a24712" stroke-width="0.4"/>
<text x="492" y="474.8" font-size="6.9" text-anchor="end" transform="rotate(-45 492 474.8)"><tspan font-style="italic">PIK3CA</tspan> wild-type</text>
<text x="504" y="474.8" font-size="6.9" text-anchor="end" transform="rotate(-45 504 474.8)"><tspan font-style="italic">PIK3CA</tspan> mutant</text>
</svg></body></html>
